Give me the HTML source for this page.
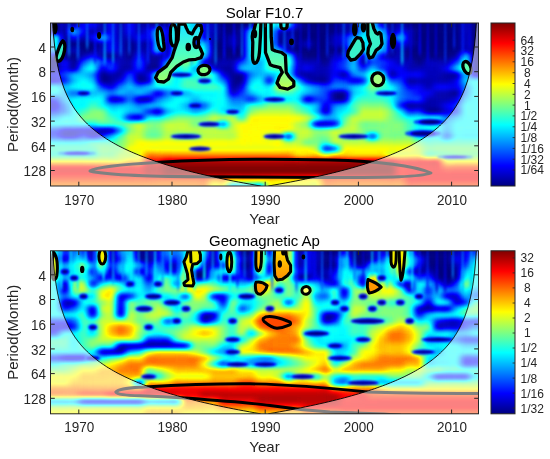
<!DOCTYPE html>
<html><head><meta charset="utf-8"><title>Wavelet power spectra</title>
<style>
html,body{margin:0;padding:0;background:#fff;}
svg{display:block;}
.tl{font-family:"Liberation Sans",Arial,sans-serif;font-size:13.5px;fill:#262626;}
.lb{font-family:"Liberation Sans",Arial,sans-serif;font-size:15px;fill:#262626;}
.tt{font-family:"Liberation Sans",Arial,sans-serif;font-size:15px;fill:#000;}
.cb{font-family:"Liberation Sans",Arial,sans-serif;font-size:12px;fill:#262626;}
</style></head>
<body>
<svg width="550" height="459" viewBox="0 0 550 459">
<defs>
<filter id="jet" filterUnits="userSpaceOnUse" x="0" y="0" width="550" height="459" color-interpolation-filters="sRGB">
<feGaussianBlur stdDeviation="3.5 2.4"/>
<feComponentTransfer>
<feFuncR type="table" tableValues="0 0 0 0 0.5 1 1 1 0.5"/>
<feFuncG type="table" tableValues="0 0 0.5 1 1 1 0.5 0 0"/>
<feFuncB type="table" tableValues="0.5 1 1 1 0.5 0 0 0 0"/>
</feComponentTransfer>
</filter>
<filter id="jet2" filterUnits="userSpaceOnUse" x="0" y="0" width="550" height="459" color-interpolation-filters="sRGB">
<feGaussianBlur stdDeviation="0.9 2.5"/>
<feComponentTransfer>
<feFuncR type="table" tableValues="0 0 0 0 0.5 1 1 1 0.5"/>
<feFuncG type="table" tableValues="0 0 0.5 1 1 1 0.5 0 0"/>
<feFuncB type="table" tableValues="0.5 1 1 1 0.5 0 0 0 0"/>
</feComponentTransfer>
</filter>
<filter id="jet3" filterUnits="userSpaceOnUse" x="0" y="0" width="550" height="459" color-interpolation-filters="sRGB">
<feGaussianBlur stdDeviation="1.3 1.0"/>
<feComponentTransfer>
<feFuncR type="table" tableValues="0 0 0 0 0.5 1 1 1 0.5"/>
<feFuncG type="table" tableValues="0 0 0.5 1 1 1 0.5 0 0"/>
<feFuncB type="table" tableValues="0.5 1 1 1 0.5 0 0 0 0"/>
</feComponentTransfer>
</filter>
<linearGradient id="gcg" gradientUnits="userSpaceOnUse" x1="0" y1="28" x2="0" y2="80"><stop offset="0" stop-color="#20e8ff"/><stop offset="0.5" stop-color="#50ffc0"/><stop offset="1" stop-color="#98ff70"/></linearGradient>
<linearGradient id="gcg2" gradientUnits="userSpaceOnUse" x1="0" y1="30" x2="0" y2="88"><stop offset="0" stop-color="#20f0f0"/><stop offset="0.55" stop-color="#60ffb0"/><stop offset="1" stop-color="#c0ff50"/></linearGradient>
<linearGradient id="gyo" gradientUnits="userSpaceOnUse" x1="0" y1="252" x2="0" y2="280"><stop offset="0" stop-color="#ffd800"/><stop offset="0.5" stop-color="#ffb000"/><stop offset="1" stop-color="#ff9000"/></linearGradient>
<linearGradient id="jetg" x1="0" y1="0" x2="0" y2="1"><stop offset="0.000" stop-color="rgb(128,0,0)"/><stop offset="0.125" stop-color="rgb(255,0,0)"/><stop offset="0.375" stop-color="rgb(255,255,0)"/><stop offset="0.625" stop-color="rgb(0,255,255)"/><stop offset="0.875" stop-color="rgb(0,0,255)"/><stop offset="1.000" stop-color="rgb(0,0,128)"/></linearGradient>
</defs>
<rect width="550" height="459" fill="#fff"/>
<text x="264.5" y="17.9" text-anchor="middle" class="tt">Solar F10.7</text>
<text x="264.5" y="245.8" text-anchor="middle" class="tt">Geomagnetic Ap</text>
<clipPath id="c1"><rect x="50.5" y="23" width="428.0" height="163"/></clipPath>
<g clip-path="url(#c1)">
<g filter="url(#jet)">
<rect x="26.8" y="-1.0" width="33.7" height="29.9" fill="#000000"/>
<rect x="60.2" y="-1.0" width="9.7" height="29.9" fill="#0f0f0f"/>
<rect x="69.5" y="-1.0" width="9.7" height="29.9" fill="#070707"/>
<rect x="78.8" y="-1.0" width="9.7" height="29.9" fill="#202020"/>
<rect x="88.1" y="-1.0" width="9.7" height="29.9" fill="#222222"/>
<rect x="97.4" y="-1.0" width="9.7" height="29.9" fill="#0a0a0a"/>
<rect x="106.8" y="-1.0" width="9.7" height="29.9" fill="#232323"/>
<rect x="116.1" y="-1.0" width="9.7" height="29.9" fill="#080808"/>
<rect x="125.4" y="-1.0" width="9.7" height="29.9" fill="#232323"/>
<rect x="134.7" y="-1.0" width="9.7" height="29.9" fill="#0b0b0b"/>
<rect x="144.0" y="-1.0" width="9.7" height="29.9" fill="#0a0a0a"/>
<rect x="153.4" y="-1.0" width="9.7" height="29.9" fill="#080808"/>
<rect x="162.7" y="-1.0" width="9.7" height="29.9" fill="#000000"/>
<rect x="172.0" y="-1.0" width="9.7" height="29.9" fill="#535353"/>
<rect x="181.3" y="-1.0" width="9.7" height="29.9" fill="#626262"/>
<rect x="190.6" y="-1.0" width="9.7" height="29.9" fill="#525252"/>
<rect x="200.0" y="-1.0" width="9.7" height="29.9" fill="#171717"/>
<rect x="209.3" y="-1.0" width="9.7" height="29.9" fill="#101010"/>
<rect x="218.6" y="-1.0" width="37.7" height="29.9" fill="#000000"/>
<rect x="255.9" y="-1.0" width="9.7" height="29.9" fill="#525252"/>
<rect x="265.2" y="-1.0" width="9.7" height="29.9" fill="#636363"/>
<rect x="274.5" y="-1.0" width="9.7" height="29.9" fill="#656565"/>
<rect x="283.8" y="-1.0" width="9.7" height="29.9" fill="#595959"/>
<rect x="293.2" y="-1.0" width="9.7" height="29.9" fill="#0b0b0b"/>
<rect x="302.5" y="-1.0" width="37.7" height="29.9" fill="#000000"/>
<rect x="339.8" y="-1.0" width="9.7" height="29.9" fill="#111111"/>
<rect x="349.1" y="-1.0" width="9.7" height="29.9" fill="#010101"/>
<rect x="358.4" y="-1.0" width="9.7" height="29.9" fill="#555555"/>
<rect x="367.7" y="-1.0" width="9.7" height="29.9" fill="#525252"/>
<rect x="377.0" y="-1.0" width="9.7" height="29.9" fill="#161616"/>
<rect x="386.4" y="-1.0" width="9.7" height="29.9" fill="#000000"/>
<rect x="395.7" y="-1.0" width="9.7" height="29.9" fill="#111111"/>
<rect x="405.0" y="-1.0" width="56.3" height="29.9" fill="#000000"/>
<rect x="460.9" y="-1.0" width="9.7" height="29.9" fill="#131313"/>
<rect x="470.2" y="-1.0" width="33.7" height="29.9" fill="#000000"/>
<rect x="26.8" y="28.5" width="33.7" height="6.6" fill="#000000"/>
<rect x="60.2" y="28.5" width="9.7" height="6.6" fill="#060606"/>
<rect x="69.5" y="28.5" width="9.7" height="6.6" fill="#5e5e5e"/>
<rect x="78.8" y="28.5" width="9.7" height="6.6" fill="#202020"/>
<rect x="88.1" y="28.5" width="9.7" height="6.6" fill="#060606"/>
<rect x="97.4" y="28.5" width="9.7" height="6.6" fill="#050505"/>
<rect x="106.8" y="28.5" width="9.7" height="6.6" fill="#212121"/>
<rect x="116.1" y="28.5" width="9.7" height="6.6" fill="#0a0a0a"/>
<rect x="125.4" y="28.5" width="9.7" height="6.6" fill="#232323"/>
<rect x="134.7" y="28.5" width="9.7" height="6.6" fill="#0a0a0a"/>
<rect x="144.0" y="28.5" width="9.7" height="6.6" fill="#1d1d1d"/>
<rect x="153.4" y="28.5" width="9.7" height="6.6" fill="#5c5c5c"/>
<rect x="162.7" y="28.5" width="9.7" height="6.6" fill="#0f0f0f"/>
<rect x="172.0" y="28.5" width="9.7" height="6.6" fill="#676767"/>
<rect x="181.3" y="28.5" width="9.7" height="6.6" fill="#616161"/>
<rect x="190.6" y="28.5" width="9.7" height="6.6" fill="#666666"/>
<rect x="200.0" y="28.5" width="9.7" height="6.6" fill="#161616"/>
<rect x="209.3" y="28.5" width="9.7" height="6.6" fill="#101010"/>
<rect x="218.6" y="28.5" width="19.0" height="6.6" fill="#000000"/>
<rect x="237.2" y="28.5" width="9.7" height="6.6" fill="#080808"/>
<rect x="246.6" y="28.5" width="9.7" height="6.6" fill="#575757"/>
<rect x="255.9" y="28.5" width="9.7" height="6.6" fill="#636363"/>
<rect x="265.2" y="28.5" width="9.7" height="6.6" fill="#656565"/>
<rect x="274.5" y="28.5" width="9.7" height="6.6" fill="#0c0c0c"/>
<rect x="283.8" y="28.5" width="9.7" height="6.6" fill="#060606"/>
<rect x="293.2" y="28.5" width="47.0" height="6.6" fill="#000000"/>
<rect x="339.8" y="28.5" width="9.7" height="6.6" fill="#0c0c0c"/>
<rect x="349.1" y="28.5" width="9.7" height="6.6" fill="#000000"/>
<rect x="358.4" y="28.5" width="9.7" height="6.6" fill="#525252"/>
<rect x="367.7" y="28.5" width="9.7" height="6.6" fill="#646464"/>
<rect x="377.0" y="28.5" width="9.7" height="6.6" fill="#565656"/>
<rect x="386.4" y="28.5" width="9.7" height="6.6" fill="#000000"/>
<rect x="395.7" y="28.5" width="9.7" height="6.6" fill="#222222"/>
<rect x="405.0" y="28.5" width="9.7" height="6.6" fill="#0f0f0f"/>
<rect x="414.3" y="28.5" width="47.0" height="6.6" fill="#000000"/>
<rect x="460.9" y="28.5" width="9.7" height="6.6" fill="#131313"/>
<rect x="470.2" y="28.5" width="33.7" height="6.6" fill="#000000"/>
<rect x="26.8" y="34.6" width="33.7" height="6.6" fill="#6e6e6e"/>
<rect x="60.2" y="34.6" width="9.7" height="6.6" fill="#010101"/>
<rect x="69.5" y="34.6" width="9.7" height="6.6" fill="#232323"/>
<rect x="78.8" y="34.6" width="9.7" height="6.6" fill="#0b0b0b"/>
<rect x="88.1" y="34.6" width="9.7" height="6.6" fill="#222222"/>
<rect x="97.4" y="34.6" width="9.7" height="6.6" fill="#5e5e5e"/>
<rect x="106.8" y="34.6" width="9.7" height="6.6" fill="#212121"/>
<rect x="116.1" y="34.6" width="9.7" height="6.6" fill="#0c0c0c"/>
<rect x="125.4" y="34.6" width="9.7" height="6.6" fill="#0f0f0f"/>
<rect x="134.7" y="34.6" width="9.7" height="6.6" fill="#232323"/>
<rect x="144.0" y="34.6" width="9.7" height="6.6" fill="#181818"/>
<rect x="153.4" y="34.6" width="9.7" height="6.6" fill="#5a5a5a"/>
<rect x="162.7" y="34.6" width="9.7" height="6.6" fill="#0a0a0a"/>
<rect x="172.0" y="34.6" width="9.7" height="6.6" fill="#535353"/>
<rect x="181.3" y="34.6" width="9.7" height="6.6" fill="#616161"/>
<rect x="190.6" y="34.6" width="9.7" height="6.6" fill="#646464"/>
<rect x="200.0" y="34.6" width="9.7" height="6.6" fill="#121212"/>
<rect x="209.3" y="34.6" width="9.7" height="6.6" fill="#0d0d0d"/>
<rect x="218.6" y="34.6" width="9.7" height="6.6" fill="#000000"/>
<rect x="227.9" y="34.6" width="9.7" height="6.6" fill="#121212"/>
<rect x="237.2" y="34.6" width="9.7" height="6.6" fill="#000000"/>
<rect x="246.6" y="34.6" width="9.7" height="6.6" fill="#686868"/>
<rect x="255.9" y="34.6" width="9.7" height="6.6" fill="#606060"/>
<rect x="265.2" y="34.6" width="9.7" height="6.6" fill="#676767"/>
<rect x="274.5" y="34.6" width="9.7" height="6.6" fill="#000000"/>
<rect x="283.8" y="34.6" width="9.7" height="6.6" fill="#111111"/>
<rect x="293.2" y="34.6" width="37.7" height="6.6" fill="#000000"/>
<rect x="330.4" y="34.6" width="9.7" height="6.6" fill="#111111"/>
<rect x="339.8" y="34.6" width="9.7" height="6.6" fill="#1f1f1f"/>
<rect x="349.1" y="34.6" width="9.7" height="6.6" fill="#555555"/>
<rect x="358.4" y="34.6" width="9.7" height="6.6" fill="#636363"/>
<rect x="367.7" y="34.6" width="9.7" height="6.6" fill="#616161"/>
<rect x="377.0" y="34.6" width="9.7" height="6.6" fill="#676767"/>
<rect x="386.4" y="34.6" width="9.7" height="6.6" fill="#111111"/>
<rect x="395.7" y="34.6" width="9.7" height="6.6" fill="#5e5e5e"/>
<rect x="405.0" y="34.6" width="9.7" height="6.6" fill="#0c0c0c"/>
<rect x="414.3" y="34.6" width="47.0" height="6.6" fill="#000000"/>
<rect x="460.9" y="34.6" width="9.7" height="6.6" fill="#131313"/>
<rect x="470.2" y="34.6" width="33.7" height="6.6" fill="#000000"/>
<rect x="26.8" y="40.8" width="33.7" height="6.6" fill="#686868"/>
<rect x="60.2" y="40.8" width="37.7" height="6.6" fill="#000000"/>
<rect x="97.4" y="40.8" width="9.7" height="6.6" fill="#080808"/>
<rect x="106.8" y="40.8" width="9.7" height="6.6" fill="#212121"/>
<rect x="116.1" y="40.8" width="9.7" height="6.6" fill="#0f0f0f"/>
<rect x="125.4" y="40.8" width="9.7" height="6.6" fill="#000000"/>
<rect x="134.7" y="40.8" width="9.7" height="6.6" fill="#101010"/>
<rect x="144.0" y="40.8" width="9.7" height="6.6" fill="#000000"/>
<rect x="153.4" y="40.8" width="9.7" height="6.6" fill="#5b5b5b"/>
<rect x="162.7" y="40.8" width="9.7" height="6.6" fill="#000000"/>
<rect x="172.0" y="40.8" width="9.7" height="6.6" fill="#535353"/>
<rect x="181.3" y="40.8" width="9.7" height="6.6" fill="#606060"/>
<rect x="190.6" y="40.8" width="9.7" height="6.6" fill="#626262"/>
<rect x="200.0" y="40.8" width="9.7" height="6.6" fill="#565656"/>
<rect x="209.3" y="40.8" width="19.0" height="6.6" fill="#000000"/>
<rect x="227.9" y="40.8" width="9.7" height="6.6" fill="#121212"/>
<rect x="237.2" y="40.8" width="9.7" height="6.6" fill="#000000"/>
<rect x="246.6" y="40.8" width="9.7" height="6.6" fill="#676767"/>
<rect x="255.9" y="40.8" width="9.7" height="6.6" fill="#606060"/>
<rect x="265.2" y="40.8" width="9.7" height="6.6" fill="#656565"/>
<rect x="274.5" y="40.8" width="9.7" height="6.6" fill="#000000"/>
<rect x="283.8" y="40.8" width="9.7" height="6.6" fill="#0f0f0f"/>
<rect x="293.2" y="40.8" width="9.7" height="6.6" fill="#000000"/>
<rect x="302.5" y="40.8" width="9.7" height="6.6" fill="#141414"/>
<rect x="311.8" y="40.8" width="19.0" height="6.6" fill="#000000"/>
<rect x="330.4" y="40.8" width="9.7" height="6.6" fill="#111111"/>
<rect x="339.8" y="40.8" width="9.7" height="6.6" fill="#181818"/>
<rect x="349.1" y="40.8" width="9.7" height="6.6" fill="#676767"/>
<rect x="358.4" y="40.8" width="19.0" height="6.6" fill="#606060"/>
<rect x="377.0" y="40.8" width="9.7" height="6.6" fill="#676767"/>
<rect x="386.4" y="40.8" width="9.7" height="6.6" fill="#000000"/>
<rect x="395.7" y="40.8" width="9.7" height="6.6" fill="#222222"/>
<rect x="405.0" y="40.8" width="9.7" height="6.6" fill="#0f0f0f"/>
<rect x="414.3" y="40.8" width="47.0" height="6.6" fill="#000000"/>
<rect x="460.9" y="40.8" width="9.7" height="6.6" fill="#131313"/>
<rect x="470.2" y="40.8" width="33.7" height="6.6" fill="#000000"/>
<rect x="26.8" y="47.0" width="33.7" height="6.6" fill="#6e6e6e"/>
<rect x="60.2" y="47.0" width="9.7" height="6.6" fill="#000000"/>
<rect x="69.5" y="47.0" width="9.7" height="6.6" fill="#131313"/>
<rect x="78.8" y="47.0" width="19.0" height="6.6" fill="#000000"/>
<rect x="97.4" y="47.0" width="9.7" height="6.6" fill="#101010"/>
<rect x="106.8" y="47.0" width="9.7" height="6.6" fill="#242424"/>
<rect x="116.1" y="47.0" width="9.7" height="6.6" fill="#111111"/>
<rect x="125.4" y="47.0" width="9.7" height="6.6" fill="#000000"/>
<rect x="134.7" y="47.0" width="9.7" height="6.6" fill="#111111"/>
<rect x="144.0" y="47.0" width="9.7" height="6.6" fill="#050505"/>
<rect x="153.4" y="47.0" width="9.7" height="6.6" fill="#5d5d5d"/>
<rect x="162.7" y="47.0" width="9.7" height="6.6" fill="#000000"/>
<rect x="172.0" y="47.0" width="9.7" height="6.6" fill="#666666"/>
<rect x="181.3" y="47.0" width="9.7" height="6.6" fill="#5b5b5b"/>
<rect x="190.6" y="47.0" width="9.7" height="6.6" fill="#737373"/>
<rect x="200.0" y="47.0" width="9.7" height="6.6" fill="#686868"/>
<rect x="209.3" y="47.0" width="37.7" height="6.6" fill="#000000"/>
<rect x="246.6" y="47.0" width="9.7" height="6.6" fill="#676767"/>
<rect x="255.9" y="47.0" width="9.7" height="6.6" fill="#606060"/>
<rect x="265.2" y="47.0" width="9.7" height="6.6" fill="#626262"/>
<rect x="274.5" y="47.0" width="9.7" height="6.6" fill="#535353"/>
<rect x="283.8" y="47.0" width="65.6" height="6.6" fill="#000000"/>
<rect x="349.1" y="47.0" width="9.7" height="6.6" fill="#686868"/>
<rect x="358.4" y="47.0" width="9.7" height="6.6" fill="#626262"/>
<rect x="367.7" y="47.0" width="9.7" height="6.6" fill="#656565"/>
<rect x="377.0" y="47.0" width="9.7" height="6.6" fill="#565656"/>
<rect x="386.4" y="47.0" width="9.7" height="6.6" fill="#020202"/>
<rect x="395.7" y="47.0" width="9.7" height="6.6" fill="#101010"/>
<rect x="405.0" y="47.0" width="56.3" height="6.6" fill="#000000"/>
<rect x="460.9" y="47.0" width="9.7" height="6.6" fill="#101010"/>
<rect x="470.2" y="47.0" width="33.7" height="6.6" fill="#000000"/>
<rect x="26.8" y="53.2" width="52.4" height="6.6" fill="#000000"/>
<rect x="78.8" y="53.2" width="9.7" height="6.6" fill="#0c0c0c"/>
<rect x="88.1" y="53.2" width="9.7" height="6.6" fill="#212121"/>
<rect x="97.4" y="53.2" width="9.7" height="6.6" fill="#070707"/>
<rect x="106.8" y="53.2" width="9.7" height="6.6" fill="#000000"/>
<rect x="116.1" y="53.2" width="9.7" height="6.6" fill="#101010"/>
<rect x="125.4" y="53.2" width="9.7" height="6.6" fill="#000000"/>
<rect x="134.7" y="53.2" width="9.7" height="6.6" fill="#242424"/>
<rect x="144.0" y="53.2" width="9.7" height="6.6" fill="#070707"/>
<rect x="153.4" y="53.2" width="9.7" height="6.6" fill="#050505"/>
<rect x="162.7" y="53.2" width="9.7" height="6.6" fill="#0b0b0b"/>
<rect x="172.0" y="53.2" width="9.7" height="6.6" fill="#777777"/>
<rect x="181.3" y="53.2" width="9.7" height="6.6" fill="#707070"/>
<rect x="190.6" y="53.2" width="9.7" height="6.6" fill="#878787"/>
<rect x="200.0" y="53.2" width="9.7" height="6.6" fill="#545454"/>
<rect x="209.3" y="53.2" width="37.7" height="6.6" fill="#000000"/>
<rect x="246.6" y="53.2" width="9.7" height="6.6" fill="#676767"/>
<rect x="255.9" y="53.2" width="9.7" height="6.6" fill="#606060"/>
<rect x="265.2" y="53.2" width="9.7" height="6.6" fill="#5d5d5d"/>
<rect x="274.5" y="53.2" width="9.7" height="6.6" fill="#757575"/>
<rect x="283.8" y="53.2" width="9.7" height="6.6" fill="#686868"/>
<rect x="293.2" y="53.2" width="9.7" height="6.6" fill="#050505"/>
<rect x="302.5" y="53.2" width="28.4" height="6.6" fill="#000000"/>
<rect x="330.4" y="53.2" width="9.7" height="6.6" fill="#101010"/>
<rect x="339.8" y="53.2" width="9.7" height="6.6" fill="#161616"/>
<rect x="349.1" y="53.2" width="9.7" height="6.6" fill="#6b6b6b"/>
<rect x="358.4" y="53.2" width="9.7" height="6.6" fill="#050505"/>
<rect x="367.7" y="53.2" width="9.7" height="6.6" fill="#565656"/>
<rect x="377.0" y="53.2" width="9.7" height="6.6" fill="#131313"/>
<rect x="386.4" y="53.2" width="9.7" height="6.6" fill="#060606"/>
<rect x="395.7" y="53.2" width="9.7" height="6.6" fill="#101010"/>
<rect x="405.0" y="53.2" width="47.0" height="6.6" fill="#000000"/>
<rect x="451.6" y="53.2" width="9.7" height="6.6" fill="#060606"/>
<rect x="460.9" y="53.2" width="9.7" height="6.6" fill="#5e5e5e"/>
<rect x="470.2" y="53.2" width="33.7" height="6.6" fill="#000000"/>
<rect x="26.8" y="59.3" width="33.7" height="6.6" fill="#000000"/>
<rect x="60.2" y="59.3" width="9.7" height="6.6" fill="#272727"/>
<rect x="69.5" y="59.3" width="9.7" height="6.6" fill="#000000"/>
<rect x="78.8" y="59.3" width="9.7" height="6.6" fill="#323232"/>
<rect x="88.1" y="59.3" width="9.7" height="6.6" fill="#585858"/>
<rect x="97.4" y="59.3" width="9.7" height="6.6" fill="#313131"/>
<rect x="106.8" y="59.3" width="9.7" height="6.6" fill="#222222"/>
<rect x="116.1" y="59.3" width="9.7" height="6.6" fill="#0f0f0f"/>
<rect x="125.4" y="59.3" width="9.7" height="6.6" fill="#0b0b0b"/>
<rect x="134.7" y="59.3" width="9.7" height="6.6" fill="#373737"/>
<rect x="144.0" y="59.3" width="9.7" height="6.6" fill="#0a0a0a"/>
<rect x="153.4" y="59.3" width="9.7" height="6.6" fill="#040404"/>
<rect x="162.7" y="59.3" width="9.7" height="6.6" fill="#545454"/>
<rect x="172.0" y="59.3" width="9.7" height="6.6" fill="#747474"/>
<rect x="181.3" y="59.3" width="9.7" height="6.6" fill="#848484"/>
<rect x="190.6" y="59.3" width="9.7" height="6.6" fill="#747474"/>
<rect x="200.0" y="59.3" width="9.7" height="6.6" fill="#0b0b0b"/>
<rect x="209.3" y="59.3" width="9.7" height="6.6" fill="#060606"/>
<rect x="218.6" y="59.3" width="9.7" height="6.6" fill="#111111"/>
<rect x="227.9" y="59.3" width="9.7" height="6.6" fill="#0b0b0b"/>
<rect x="237.2" y="59.3" width="9.7" height="6.6" fill="#303030"/>
<rect x="246.6" y="59.3" width="9.7" height="6.6" fill="#525252"/>
<rect x="255.9" y="59.3" width="9.7" height="6.6" fill="#474747"/>
<rect x="265.2" y="59.3" width="9.7" height="6.6" fill="#727272"/>
<rect x="274.5" y="59.3" width="9.7" height="6.6" fill="#858585"/>
<rect x="283.8" y="59.3" width="9.7" height="6.6" fill="#787878"/>
<rect x="293.2" y="59.3" width="9.7" height="6.6" fill="#151515"/>
<rect x="302.5" y="59.3" width="9.7" height="6.6" fill="#0f0f0f"/>
<rect x="311.8" y="59.3" width="9.7" height="6.6" fill="#111111"/>
<rect x="321.1" y="59.3" width="9.7" height="6.6" fill="#000000"/>
<rect x="330.4" y="59.3" width="9.7" height="6.6" fill="#222222"/>
<rect x="339.8" y="59.3" width="9.7" height="6.6" fill="#2d2d2d"/>
<rect x="349.1" y="59.3" width="9.7" height="6.6" fill="#575757"/>
<rect x="358.4" y="59.3" width="9.7" height="6.6" fill="#000000"/>
<rect x="367.7" y="59.3" width="19.0" height="6.6" fill="#303030"/>
<rect x="386.4" y="59.3" width="9.7" height="6.6" fill="#202020"/>
<rect x="395.7" y="59.3" width="9.7" height="6.6" fill="#0d0d0d"/>
<rect x="405.0" y="59.3" width="9.7" height="6.6" fill="#111111"/>
<rect x="414.3" y="59.3" width="9.7" height="6.6" fill="#000000"/>
<rect x="423.6" y="59.3" width="9.7" height="6.6" fill="#121212"/>
<rect x="433.0" y="59.3" width="9.7" height="6.6" fill="#111111"/>
<rect x="442.3" y="59.3" width="9.7" height="6.6" fill="#0a0a0a"/>
<rect x="451.6" y="59.3" width="9.7" height="6.6" fill="#2c2c2c"/>
<rect x="460.9" y="59.3" width="9.7" height="6.6" fill="#6c6c6c"/>
<rect x="470.2" y="59.3" width="33.7" height="6.6" fill="#000000"/>
<rect x="26.8" y="65.5" width="33.7" height="6.6" fill="#000000"/>
<rect x="60.2" y="65.5" width="9.7" height="6.6" fill="#222222"/>
<rect x="69.5" y="65.5" width="9.7" height="6.6" fill="#000000"/>
<rect x="78.8" y="65.5" width="9.7" height="6.6" fill="#565656"/>
<rect x="88.1" y="65.5" width="9.7" height="6.6" fill="#6a6a6a"/>
<rect x="97.4" y="65.5" width="9.7" height="6.6" fill="#151515"/>
<rect x="106.8" y="65.5" width="9.7" height="6.6" fill="#363636"/>
<rect x="116.1" y="65.5" width="9.7" height="6.6" fill="#0a0a0a"/>
<rect x="125.4" y="65.5" width="9.7" height="6.6" fill="#080808"/>
<rect x="134.7" y="65.5" width="9.7" height="6.6" fill="#353535"/>
<rect x="144.0" y="65.5" width="9.7" height="6.6" fill="#020202"/>
<rect x="153.4" y="65.5" width="9.7" height="6.6" fill="#000000"/>
<rect x="162.7" y="65.5" width="9.7" height="6.6" fill="#636363"/>
<rect x="172.0" y="65.5" width="9.7" height="6.6" fill="#595959"/>
<rect x="181.3" y="65.5" width="9.7" height="6.6" fill="#727272"/>
<rect x="190.6" y="65.5" width="9.7" height="6.6" fill="#454545"/>
<rect x="200.0" y="65.5" width="9.7" height="6.6" fill="#515151"/>
<rect x="209.3" y="65.5" width="9.7" height="6.6" fill="#131313"/>
<rect x="218.6" y="65.5" width="19.0" height="6.6" fill="#070707"/>
<rect x="237.2" y="65.5" width="9.7" height="6.6" fill="#595959"/>
<rect x="246.6" y="65.5" width="9.7" height="6.6" fill="#535353"/>
<rect x="255.9" y="65.5" width="9.7" height="6.6" fill="#4c4c4c"/>
<rect x="265.2" y="65.5" width="9.7" height="6.6" fill="#747474"/>
<rect x="274.5" y="65.5" width="9.7" height="6.6" fill="#727272"/>
<rect x="283.8" y="65.5" width="9.7" height="6.6" fill="#646464"/>
<rect x="293.2" y="65.5" width="9.7" height="6.6" fill="#121212"/>
<rect x="302.5" y="65.5" width="9.7" height="6.6" fill="#222222"/>
<rect x="311.8" y="65.5" width="9.7" height="6.6" fill="#101010"/>
<rect x="321.1" y="65.5" width="9.7" height="6.6" fill="#0d0d0d"/>
<rect x="330.4" y="65.5" width="9.7" height="6.6" fill="#212121"/>
<rect x="339.8" y="65.5" width="9.7" height="6.6" fill="#303030"/>
<rect x="349.1" y="65.5" width="9.7" height="6.6" fill="#575757"/>
<rect x="358.4" y="65.5" width="9.7" height="6.6" fill="#222222"/>
<rect x="367.7" y="65.5" width="9.7" height="6.6" fill="#545454"/>
<rect x="377.0" y="65.5" width="9.7" height="6.6" fill="#282828"/>
<rect x="386.4" y="65.5" width="9.7" height="6.6" fill="#1a1a1a"/>
<rect x="395.7" y="65.5" width="9.7" height="6.6" fill="#222222"/>
<rect x="405.0" y="65.5" width="9.7" height="6.6" fill="#0c0c0c"/>
<rect x="414.3" y="65.5" width="9.7" height="6.6" fill="#0f0f0f"/>
<rect x="423.6" y="65.5" width="9.7" height="6.6" fill="#101010"/>
<rect x="433.0" y="65.5" width="9.7" height="6.6" fill="#0f0f0f"/>
<rect x="442.3" y="65.5" width="9.7" height="6.6" fill="#212121"/>
<rect x="451.6" y="65.5" width="9.7" height="6.6" fill="#575757"/>
<rect x="460.9" y="65.5" width="9.7" height="6.6" fill="#7f7f7f"/>
<rect x="470.2" y="65.5" width="33.7" height="6.6" fill="#000000"/>
<rect x="26.8" y="71.7" width="33.7" height="6.6" fill="#212121"/>
<rect x="60.2" y="71.7" width="9.7" height="6.6" fill="#323232"/>
<rect x="69.5" y="71.7" width="9.7" height="6.6" fill="#555555"/>
<rect x="78.8" y="71.7" width="9.7" height="6.6" fill="#525252"/>
<rect x="88.1" y="71.7" width="9.7" height="6.6" fill="#404040"/>
<rect x="97.4" y="71.7" width="9.7" height="6.6" fill="#000000"/>
<rect x="106.8" y="71.7" width="9.7" height="6.6" fill="#0b0b0b"/>
<rect x="116.1" y="71.7" width="9.7" height="6.6" fill="#060606"/>
<rect x="125.4" y="71.7" width="9.7" height="6.6" fill="#353535"/>
<rect x="134.7" y="71.7" width="9.7" height="6.6" fill="#050505"/>
<rect x="144.0" y="71.7" width="9.7" height="6.6" fill="#171717"/>
<rect x="153.4" y="71.7" width="9.7" height="6.6" fill="#7a7a7a"/>
<rect x="162.7" y="71.7" width="9.7" height="6.6" fill="#888888"/>
<rect x="172.0" y="71.7" width="9.7" height="6.6" fill="#595959"/>
<rect x="181.3" y="71.7" width="9.7" height="6.6" fill="#5d5d5d"/>
<rect x="190.6" y="71.7" width="9.7" height="6.6" fill="#5c5c5c"/>
<rect x="200.0" y="71.7" width="9.7" height="6.6" fill="#8a8a8a"/>
<rect x="209.3" y="71.7" width="9.7" height="6.6" fill="#676767"/>
<rect x="218.6" y="71.7" width="9.7" height="6.6" fill="#181818"/>
<rect x="227.9" y="71.7" width="9.7" height="6.6" fill="#060606"/>
<rect x="237.2" y="71.7" width="9.7" height="6.6" fill="#000000"/>
<rect x="246.6" y="71.7" width="9.7" height="6.6" fill="#3f3f3f"/>
<rect x="255.9" y="71.7" width="9.7" height="6.6" fill="#505050"/>
<rect x="265.2" y="71.7" width="9.7" height="6.6" fill="#474747"/>
<rect x="274.5" y="71.7" width="9.7" height="6.6" fill="#5c5c5c"/>
<rect x="283.8" y="71.7" width="9.7" height="6.6" fill="#616161"/>
<rect x="293.2" y="71.7" width="9.7" height="6.6" fill="#0b0b0b"/>
<rect x="302.5" y="71.7" width="9.7" height="6.6" fill="#060606"/>
<rect x="311.8" y="71.7" width="9.7" height="6.6" fill="#0d0d0d"/>
<rect x="321.1" y="71.7" width="9.7" height="6.6" fill="#0b0b0b"/>
<rect x="330.4" y="71.7" width="9.7" height="6.6" fill="#202020"/>
<rect x="339.8" y="71.7" width="9.7" height="6.6" fill="#000000"/>
<rect x="349.1" y="71.7" width="9.7" height="6.6" fill="#434343"/>
<rect x="358.4" y="71.7" width="9.7" height="6.6" fill="#515151"/>
<rect x="367.7" y="71.7" width="9.7" height="6.6" fill="#777777"/>
<rect x="377.0" y="71.7" width="9.7" height="6.6" fill="#787878"/>
<rect x="386.4" y="71.7" width="9.7" height="6.6" fill="#000000"/>
<rect x="395.7" y="71.7" width="9.7" height="6.6" fill="#202020"/>
<rect x="405.0" y="71.7" width="9.7" height="6.6" fill="#212121"/>
<rect x="414.3" y="71.7" width="9.7" height="6.6" fill="#232323"/>
<rect x="423.6" y="71.7" width="19.0" height="6.6" fill="#0f0f0f"/>
<rect x="442.3" y="71.7" width="9.7" height="6.6" fill="#080808"/>
<rect x="451.6" y="71.7" width="9.7" height="6.6" fill="#000000"/>
<rect x="460.9" y="71.7" width="9.7" height="6.6" fill="#555555"/>
<rect x="470.2" y="71.7" width="33.7" height="6.6" fill="#0b0b0b"/>
<rect x="26.8" y="77.9" width="33.7" height="6.6" fill="#101010"/>
<rect x="60.2" y="77.9" width="9.7" height="6.6" fill="#232323"/>
<rect x="69.5" y="77.9" width="9.7" height="6.6" fill="#505050"/>
<rect x="78.8" y="77.9" width="9.7" height="6.6" fill="#636363"/>
<rect x="88.1" y="77.9" width="9.7" height="6.6" fill="#545454"/>
<rect x="97.4" y="77.9" width="9.7" height="6.6" fill="#000000"/>
<rect x="106.8" y="77.9" width="9.7" height="6.6" fill="#070707"/>
<rect x="116.1" y="77.9" width="9.7" height="6.6" fill="#1a1a1a"/>
<rect x="125.4" y="77.9" width="9.7" height="6.6" fill="#454545"/>
<rect x="134.7" y="77.9" width="9.7" height="6.6" fill="#000000"/>
<rect x="144.0" y="77.9" width="9.7" height="6.6" fill="#0b0b0b"/>
<rect x="153.4" y="77.9" width="9.7" height="6.6" fill="#767676"/>
<rect x="162.7" y="77.9" width="9.7" height="6.6" fill="#727272"/>
<rect x="172.0" y="77.9" width="9.7" height="6.6" fill="#595959"/>
<rect x="181.3" y="77.9" width="9.7" height="6.6" fill="#727272"/>
<rect x="190.6" y="77.9" width="9.7" height="6.6" fill="#717171"/>
<rect x="200.0" y="77.9" width="9.7" height="6.6" fill="#585858"/>
<rect x="209.3" y="77.9" width="9.7" height="6.6" fill="#616161"/>
<rect x="218.6" y="77.9" width="9.7" height="6.6" fill="#414141"/>
<rect x="227.9" y="77.9" width="9.7" height="6.6" fill="#040404"/>
<rect x="237.2" y="77.9" width="9.7" height="6.6" fill="#000000"/>
<rect x="246.6" y="77.9" width="9.7" height="6.6" fill="#545454"/>
<rect x="255.9" y="77.9" width="9.7" height="6.6" fill="#646464"/>
<rect x="265.2" y="77.9" width="9.7" height="6.6" fill="#0e0e0e"/>
<rect x="274.5" y="77.9" width="9.7" height="6.6" fill="#858585"/>
<rect x="283.8" y="77.9" width="9.7" height="6.6" fill="#999999"/>
<rect x="293.2" y="77.9" width="9.7" height="6.6" fill="#4e4e4e"/>
<rect x="302.5" y="77.9" width="9.7" height="6.6" fill="#131313"/>
<rect x="311.8" y="77.9" width="9.7" height="6.6" fill="#040404"/>
<rect x="321.1" y="77.9" width="9.7" height="6.6" fill="#020202"/>
<rect x="330.4" y="77.9" width="9.7" height="6.6" fill="#323232"/>
<rect x="339.8" y="77.9" width="9.7" height="6.6" fill="#2f2f2f"/>
<rect x="349.1" y="77.9" width="9.7" height="6.6" fill="#0d0d0d"/>
<rect x="358.4" y="77.9" width="9.7" height="6.6" fill="#161616"/>
<rect x="367.7" y="77.9" width="9.7" height="6.6" fill="#868686"/>
<rect x="377.0" y="77.9" width="9.7" height="6.6" fill="#878787"/>
<rect x="386.4" y="77.9" width="9.7" height="6.6" fill="#383838"/>
<rect x="395.7" y="77.9" width="9.7" height="6.6" fill="#313131"/>
<rect x="405.0" y="77.9" width="9.7" height="6.6" fill="#040404"/>
<rect x="414.3" y="77.9" width="9.7" height="6.6" fill="#0b0b0b"/>
<rect x="423.6" y="77.9" width="9.7" height="6.6" fill="#0c0c0c"/>
<rect x="433.0" y="77.9" width="9.7" height="6.6" fill="#0d0d0d"/>
<rect x="442.3" y="77.9" width="9.7" height="6.6" fill="#0b0b0b"/>
<rect x="451.6" y="77.9" width="9.7" height="6.6" fill="#1a1a1a"/>
<rect x="460.9" y="77.9" width="9.7" height="6.6" fill="#565656"/>
<rect x="470.2" y="77.9" width="33.7" height="6.6" fill="#666666"/>
<rect x="26.8" y="84.0" width="33.7" height="6.6" fill="#666666"/>
<rect x="60.2" y="84.0" width="9.7" height="6.6" fill="#515151"/>
<rect x="69.5" y="84.0" width="9.7" height="6.6" fill="#646464"/>
<rect x="78.8" y="84.0" width="9.7" height="6.6" fill="#636363"/>
<rect x="88.1" y="84.0" width="9.7" height="6.6" fill="#666666"/>
<rect x="97.4" y="84.0" width="9.7" height="6.6" fill="#2a2a2a"/>
<rect x="106.8" y="84.0" width="9.7" height="6.6" fill="#151515"/>
<rect x="116.1" y="84.0" width="9.7" height="6.6" fill="#424242"/>
<rect x="125.4" y="84.0" width="9.7" height="6.6" fill="#555555"/>
<rect x="134.7" y="84.0" width="9.7" height="6.6" fill="#414141"/>
<rect x="144.0" y="84.0" width="9.7" height="6.6" fill="#545454"/>
<rect x="153.4" y="84.0" width="9.7" height="6.6" fill="#656565"/>
<rect x="162.7" y="84.0" width="9.7" height="6.6" fill="#626262"/>
<rect x="172.0" y="84.0" width="9.7" height="6.6" fill="#606060"/>
<rect x="181.3" y="84.0" width="9.7" height="6.6" fill="#737373"/>
<rect x="190.6" y="84.0" width="19.0" height="6.6" fill="#727272"/>
<rect x="209.3" y="84.0" width="9.7" height="6.6" fill="#747474"/>
<rect x="218.6" y="84.0" width="9.7" height="6.6" fill="#676767"/>
<rect x="227.9" y="84.0" width="9.7" height="6.6" fill="#000000"/>
<rect x="237.2" y="84.0" width="9.7" height="6.6" fill="#161616"/>
<rect x="246.6" y="84.0" width="9.7" height="6.6" fill="#676767"/>
<rect x="255.9" y="84.0" width="9.7" height="6.6" fill="#626262"/>
<rect x="265.2" y="84.0" width="9.7" height="6.6" fill="#5c5c5c"/>
<rect x="274.5" y="84.0" width="9.7" height="6.6" fill="#989898"/>
<rect x="283.8" y="84.0" width="9.7" height="6.6" fill="#969696"/>
<rect x="293.2" y="84.0" width="9.7" height="6.6" fill="#747474"/>
<rect x="302.5" y="84.0" width="9.7" height="6.6" fill="#535353"/>
<rect x="311.8" y="84.0" width="9.7" height="6.6" fill="#444444"/>
<rect x="321.1" y="84.0" width="9.7" height="6.6" fill="#313131"/>
<rect x="330.4" y="84.0" width="9.7" height="6.6" fill="#464646"/>
<rect x="339.8" y="84.0" width="9.7" height="6.6" fill="#444444"/>
<rect x="349.1" y="84.0" width="9.7" height="6.6" fill="#555555"/>
<rect x="358.4" y="84.0" width="9.7" height="6.6" fill="#626262"/>
<rect x="367.7" y="84.0" width="9.7" height="6.6" fill="#868686"/>
<rect x="377.0" y="84.0" width="9.7" height="6.6" fill="#717171"/>
<rect x="386.4" y="84.0" width="9.7" height="6.6" fill="#636363"/>
<rect x="395.7" y="84.0" width="9.7" height="6.6" fill="#414141"/>
<rect x="405.0" y="84.0" width="9.7" height="6.6" fill="#1b1b1b"/>
<rect x="414.3" y="84.0" width="9.7" height="6.6" fill="#212121"/>
<rect x="423.6" y="84.0" width="9.7" height="6.6" fill="#0b0b0b"/>
<rect x="433.0" y="84.0" width="9.7" height="6.6" fill="#232323"/>
<rect x="442.3" y="84.0" width="9.7" height="6.6" fill="#222222"/>
<rect x="451.6" y="84.0" width="9.7" height="6.6" fill="#1b1b1b"/>
<rect x="460.9" y="84.0" width="9.7" height="6.6" fill="#404040"/>
<rect x="470.2" y="84.0" width="33.7" height="6.6" fill="#626262"/>
<rect x="26.8" y="90.2" width="33.7" height="6.6" fill="#646464"/>
<rect x="60.2" y="90.2" width="9.7" height="6.6" fill="#4e4e4e"/>
<rect x="69.5" y="90.2" width="9.7" height="6.6" fill="#313131"/>
<rect x="78.8" y="90.2" width="9.7" height="6.6" fill="#494949"/>
<rect x="88.1" y="90.2" width="9.7" height="6.6" fill="#4c4c4c"/>
<rect x="97.4" y="90.2" width="9.7" height="6.6" fill="#535353"/>
<rect x="106.8" y="90.2" width="9.7" height="6.6" fill="#414141"/>
<rect x="116.1" y="90.2" width="9.7" height="6.6" fill="#565656"/>
<rect x="125.4" y="90.2" width="9.7" height="6.6" fill="#414141"/>
<rect x="134.7" y="90.2" width="9.7" height="6.6" fill="#565656"/>
<rect x="144.0" y="90.2" width="9.7" height="6.6" fill="#424242"/>
<rect x="153.4" y="90.2" width="9.7" height="6.6" fill="#080808"/>
<rect x="162.7" y="90.2" width="9.7" height="6.6" fill="#363636"/>
<rect x="172.0" y="90.2" width="9.7" height="6.6" fill="#494949"/>
<rect x="181.3" y="90.2" width="9.7" height="6.6" fill="#464646"/>
<rect x="190.6" y="90.2" width="9.7" height="6.6" fill="#5e5e5e"/>
<rect x="200.0" y="90.2" width="19.0" height="6.6" fill="#5d5d5d"/>
<rect x="218.6" y="90.2" width="9.7" height="6.6" fill="#656565"/>
<rect x="227.9" y="90.2" width="9.7" height="6.6" fill="#0c0c0c"/>
<rect x="237.2" y="90.2" width="9.7" height="6.6" fill="#2c2c2c"/>
<rect x="246.6" y="90.2" width="9.7" height="6.6" fill="#525252"/>
<rect x="255.9" y="90.2" width="9.7" height="6.6" fill="#626262"/>
<rect x="265.2" y="90.2" width="9.7" height="6.6" fill="#5c5c5c"/>
<rect x="274.5" y="90.2" width="19.0" height="6.6" fill="#707070"/>
<rect x="293.2" y="90.2" width="9.7" height="6.6" fill="#606060"/>
<rect x="302.5" y="90.2" width="9.7" height="6.6" fill="#515151"/>
<rect x="311.8" y="90.2" width="9.7" height="6.6" fill="#424242"/>
<rect x="321.1" y="90.2" width="9.7" height="6.6" fill="#303030"/>
<rect x="330.4" y="90.2" width="9.7" height="6.6" fill="#010101"/>
<rect x="339.8" y="90.2" width="9.7" height="6.6" fill="#000000"/>
<rect x="349.1" y="90.2" width="9.7" height="6.6" fill="#525252"/>
<rect x="358.4" y="90.2" width="9.7" height="6.6" fill="#5c5c5c"/>
<rect x="367.7" y="90.2" width="9.7" height="6.6" fill="#717171"/>
<rect x="377.0" y="90.2" width="9.7" height="6.6" fill="#585858"/>
<rect x="386.4" y="90.2" width="9.7" height="6.6" fill="#626262"/>
<rect x="395.7" y="90.2" width="9.7" height="6.6" fill="#3d3d3d"/>
<rect x="405.0" y="90.2" width="9.7" height="6.6" fill="#303030"/>
<rect x="414.3" y="90.2" width="9.7" height="6.6" fill="#1f1f1f"/>
<rect x="423.6" y="90.2" width="9.7" height="6.6" fill="#212121"/>
<rect x="433.0" y="90.2" width="9.7" height="6.6" fill="#0c0c0c"/>
<rect x="442.3" y="90.2" width="9.7" height="6.6" fill="#0b0b0b"/>
<rect x="451.6" y="90.2" width="9.7" height="6.6" fill="#000000"/>
<rect x="460.9" y="90.2" width="9.7" height="6.6" fill="#404040"/>
<rect x="470.2" y="90.2" width="33.7" height="6.6" fill="#626262"/>
<rect x="26.8" y="96.4" width="33.7" height="6.6" fill="#252525"/>
<rect x="60.2" y="96.4" width="9.7" height="6.6" fill="#525252"/>
<rect x="69.5" y="96.4" width="9.7" height="6.6" fill="#636363"/>
<rect x="78.8" y="96.4" width="19.0" height="6.6" fill="#616161"/>
<rect x="97.4" y="96.4" width="9.7" height="6.6" fill="#646464"/>
<rect x="106.8" y="96.4" width="9.7" height="6.6" fill="#050505"/>
<rect x="116.1" y="96.4" width="9.7" height="6.6" fill="#0a0a0a"/>
<rect x="125.4" y="96.4" width="9.7" height="6.6" fill="#404040"/>
<rect x="134.7" y="96.4" width="19.0" height="6.6" fill="#000000"/>
<rect x="153.4" y="96.4" width="9.7" height="6.6" fill="#404040"/>
<rect x="162.7" y="96.4" width="9.7" height="6.6" fill="#515151"/>
<rect x="172.0" y="96.4" width="19.0" height="6.6" fill="#636363"/>
<rect x="190.6" y="96.4" width="9.7" height="6.6" fill="#4d4d4d"/>
<rect x="200.0" y="96.4" width="9.7" height="6.6" fill="#626262"/>
<rect x="209.3" y="96.4" width="9.7" height="6.6" fill="#616161"/>
<rect x="218.6" y="96.4" width="9.7" height="6.6" fill="#636363"/>
<rect x="227.9" y="96.4" width="9.7" height="6.6" fill="#3a3a3a"/>
<rect x="237.2" y="96.4" width="9.7" height="6.6" fill="#3d3d3d"/>
<rect x="246.6" y="96.4" width="9.7" height="6.6" fill="#1a1a1a"/>
<rect x="255.9" y="96.4" width="9.7" height="6.6" fill="#464646"/>
<rect x="265.2" y="96.4" width="9.7" height="6.6" fill="#595959"/>
<rect x="274.5" y="96.4" width="9.7" height="6.6" fill="#565656"/>
<rect x="283.8" y="96.4" width="9.7" height="6.6" fill="#575757"/>
<rect x="293.2" y="96.4" width="9.7" height="6.6" fill="#606060"/>
<rect x="302.5" y="96.4" width="9.7" height="6.6" fill="#000000"/>
<rect x="311.8" y="96.4" width="9.7" height="6.6" fill="#282828"/>
<rect x="321.1" y="96.4" width="9.7" height="6.6" fill="#303030"/>
<rect x="330.4" y="96.4" width="9.7" height="6.6" fill="#010101"/>
<rect x="339.8" y="96.4" width="9.7" height="6.6" fill="#000000"/>
<rect x="349.1" y="96.4" width="9.7" height="6.6" fill="#646464"/>
<rect x="358.4" y="96.4" width="9.7" height="6.6" fill="#717171"/>
<rect x="367.7" y="96.4" width="9.7" height="6.6" fill="#6e6e6e"/>
<rect x="377.0" y="96.4" width="9.7" height="6.6" fill="#707070"/>
<rect x="386.4" y="96.4" width="9.7" height="6.6" fill="#616161"/>
<rect x="395.7" y="96.4" width="9.7" height="6.6" fill="#3f3f3f"/>
<rect x="405.0" y="96.4" width="9.7" height="6.6" fill="#313131"/>
<rect x="414.3" y="96.4" width="9.7" height="6.6" fill="#353535"/>
<rect x="423.6" y="96.4" width="9.7" height="6.6" fill="#0b0b0b"/>
<rect x="433.0" y="96.4" width="9.7" height="6.6" fill="#0d0d0d"/>
<rect x="442.3" y="96.4" width="9.7" height="6.6" fill="#0b0b0b"/>
<rect x="451.6" y="96.4" width="9.7" height="6.6" fill="#171717"/>
<rect x="460.9" y="96.4" width="9.7" height="6.6" fill="#535353"/>
<rect x="470.2" y="96.4" width="33.7" height="6.6" fill="#616161"/>
<rect x="26.8" y="102.6" width="33.7" height="6.6" fill="#121212"/>
<rect x="60.2" y="102.6" width="9.7" height="6.6" fill="#3c3c3c"/>
<rect x="69.5" y="102.6" width="9.7" height="6.6" fill="#626262"/>
<rect x="78.8" y="102.6" width="9.7" height="6.6" fill="#5b5b5b"/>
<rect x="88.1" y="102.6" width="9.7" height="6.6" fill="#717171"/>
<rect x="97.4" y="102.6" width="9.7" height="6.6" fill="#606060"/>
<rect x="106.8" y="102.6" width="9.7" height="6.6" fill="#4e4e4e"/>
<rect x="116.1" y="102.6" width="9.7" height="6.6" fill="#525252"/>
<rect x="125.4" y="102.6" width="9.7" height="6.6" fill="#545454"/>
<rect x="134.7" y="102.6" width="9.7" height="6.6" fill="#414141"/>
<rect x="144.0" y="102.6" width="9.7" height="6.6" fill="#575757"/>
<rect x="153.4" y="102.6" width="9.7" height="6.6" fill="#545454"/>
<rect x="162.7" y="102.6" width="9.7" height="6.6" fill="#646464"/>
<rect x="172.0" y="102.6" width="9.7" height="6.6" fill="#616161"/>
<rect x="181.3" y="102.6" width="9.7" height="6.6" fill="#4b4b4b"/>
<rect x="190.6" y="102.6" width="9.7" height="6.6" fill="#323232"/>
<rect x="200.0" y="102.6" width="9.7" height="6.6" fill="#303030"/>
<rect x="209.3" y="102.6" width="9.7" height="6.6" fill="#606060"/>
<rect x="218.6" y="102.6" width="9.7" height="6.6" fill="#616161"/>
<rect x="227.9" y="102.6" width="19.0" height="6.6" fill="#4c4c4c"/>
<rect x="246.6" y="102.6" width="9.7" height="6.6" fill="#747474"/>
<rect x="255.9" y="102.6" width="9.7" height="6.6" fill="#707070"/>
<rect x="265.2" y="102.6" width="9.7" height="6.6" fill="#828282"/>
<rect x="274.5" y="102.6" width="9.7" height="6.6" fill="#818181"/>
<rect x="283.8" y="102.6" width="9.7" height="6.6" fill="#828282"/>
<rect x="293.2" y="102.6" width="9.7" height="6.6" fill="#727272"/>
<rect x="302.5" y="102.6" width="9.7" height="6.6" fill="#626262"/>
<rect x="311.8" y="102.6" width="9.7" height="6.6" fill="#555555"/>
<rect x="321.1" y="102.6" width="9.7" height="6.6" fill="#111111"/>
<rect x="330.4" y="102.6" width="9.7" height="6.6" fill="#434343"/>
<rect x="339.8" y="102.6" width="9.7" height="6.6" fill="#515151"/>
<rect x="349.1" y="102.6" width="9.7" height="6.6" fill="#737373"/>
<rect x="358.4" y="102.6" width="9.7" height="6.6" fill="#818181"/>
<rect x="367.7" y="102.6" width="9.7" height="6.6" fill="#808080"/>
<rect x="377.0" y="102.6" width="9.7" height="6.6" fill="#818181"/>
<rect x="386.4" y="102.6" width="9.7" height="6.6" fill="#727272"/>
<rect x="395.7" y="102.6" width="9.7" height="6.6" fill="#1e1e1e"/>
<rect x="405.0" y="102.6" width="9.7" height="6.6" fill="#000000"/>
<rect x="414.3" y="102.6" width="9.7" height="6.6" fill="#060606"/>
<rect x="423.6" y="102.6" width="9.7" height="6.6" fill="#0b0b0b"/>
<rect x="433.0" y="102.6" width="9.7" height="6.6" fill="#0d0d0d"/>
<rect x="442.3" y="102.6" width="9.7" height="6.6" fill="#212121"/>
<rect x="451.6" y="102.6" width="9.7" height="6.6" fill="#2c2c2c"/>
<rect x="460.9" y="102.6" width="9.7" height="6.6" fill="#656565"/>
<rect x="470.2" y="102.6" width="33.7" height="6.6" fill="#606060"/>
<rect x="26.8" y="108.8" width="33.7" height="6.6" fill="#272727"/>
<rect x="60.2" y="108.8" width="9.7" height="6.6" fill="#383838"/>
<rect x="69.5" y="108.8" width="9.7" height="6.6" fill="#606060"/>
<rect x="78.8" y="108.8" width="9.7" height="6.6" fill="#707070"/>
<rect x="88.1" y="108.8" width="9.7" height="6.6" fill="#828282"/>
<rect x="97.4" y="108.8" width="9.7" height="6.6" fill="#848484"/>
<rect x="106.8" y="108.8" width="9.7" height="6.6" fill="#5c5c5c"/>
<rect x="116.1" y="108.8" width="9.7" height="6.6" fill="#636363"/>
<rect x="125.4" y="108.8" width="9.7" height="6.6" fill="#525252"/>
<rect x="134.7" y="108.8" width="9.7" height="6.6" fill="#535353"/>
<rect x="144.0" y="108.8" width="9.7" height="6.6" fill="#222222"/>
<rect x="153.4" y="108.8" width="9.7" height="6.6" fill="#000000"/>
<rect x="162.7" y="108.8" width="9.7" height="6.6" fill="#484848"/>
<rect x="172.0" y="108.8" width="9.7" height="6.6" fill="#5c5c5c"/>
<rect x="181.3" y="108.8" width="9.7" height="6.6" fill="#5d5d5d"/>
<rect x="190.6" y="108.8" width="9.7" height="6.6" fill="#454545"/>
<rect x="200.0" y="108.8" width="9.7" height="6.6" fill="#5c5c5c"/>
<rect x="209.3" y="108.8" width="9.7" height="6.6" fill="#717171"/>
<rect x="218.6" y="108.8" width="9.7" height="6.6" fill="#545454"/>
<rect x="227.9" y="108.8" width="9.7" height="6.6" fill="#595959"/>
<rect x="237.2" y="108.8" width="9.7" height="6.6" fill="#545454"/>
<rect x="246.6" y="108.8" width="9.7" height="6.6" fill="#818181"/>
<rect x="255.9" y="108.8" width="9.7" height="6.6" fill="#919191"/>
<rect x="265.2" y="108.8" width="9.7" height="6.6" fill="#909090"/>
<rect x="274.5" y="108.8" width="9.7" height="6.6" fill="#8f8f8f"/>
<rect x="283.8" y="108.8" width="9.7" height="6.6" fill="#909090"/>
<rect x="293.2" y="108.8" width="9.7" height="6.6" fill="#7d7d7d"/>
<rect x="302.5" y="108.8" width="9.7" height="6.6" fill="#6e6e6e"/>
<rect x="311.8" y="108.8" width="9.7" height="6.6" fill="#4c4c4c"/>
<rect x="321.1" y="108.8" width="9.7" height="6.6" fill="#050505"/>
<rect x="330.4" y="108.8" width="9.7" height="6.6" fill="#525252"/>
<rect x="339.8" y="108.8" width="9.7" height="6.6" fill="#5e5e5e"/>
<rect x="349.1" y="108.8" width="9.7" height="6.6" fill="#6b6b6b"/>
<rect x="358.4" y="108.8" width="9.7" height="6.6" fill="#929292"/>
<rect x="367.7" y="108.8" width="9.7" height="6.6" fill="#919191"/>
<rect x="377.0" y="108.8" width="9.7" height="6.6" fill="#929292"/>
<rect x="386.4" y="108.8" width="9.7" height="6.6" fill="#838383"/>
<rect x="395.7" y="108.8" width="9.7" height="6.6" fill="#626262"/>
<rect x="405.0" y="108.8" width="9.7" height="6.6" fill="#252525"/>
<rect x="414.3" y="108.8" width="9.7" height="6.6" fill="#2f2f2f"/>
<rect x="423.6" y="108.8" width="19.0" height="6.6" fill="#000000"/>
<rect x="442.3" y="108.8" width="9.7" height="6.6" fill="#151515"/>
<rect x="451.6" y="108.8" width="9.7" height="6.6" fill="#232323"/>
<rect x="460.9" y="108.8" width="9.7" height="6.6" fill="#636363"/>
<rect x="470.2" y="108.8" width="33.7" height="6.6" fill="#606060"/>
<rect x="26.8" y="114.9" width="33.7" height="6.6" fill="#505050"/>
<rect x="60.2" y="114.9" width="9.7" height="6.6" fill="#636363"/>
<rect x="69.5" y="114.9" width="9.7" height="6.6" fill="#5e5e5e"/>
<rect x="78.8" y="114.9" width="9.7" height="6.6" fill="#858585"/>
<rect x="88.1" y="114.9" width="9.7" height="6.6" fill="#828282"/>
<rect x="97.4" y="114.9" width="9.7" height="6.6" fill="#838383"/>
<rect x="106.8" y="114.9" width="9.7" height="6.6" fill="#707070"/>
<rect x="116.1" y="114.9" width="9.7" height="6.6" fill="#5e5e5e"/>
<rect x="125.4" y="114.9" width="9.7" height="6.6" fill="#121212"/>
<rect x="134.7" y="114.9" width="9.7" height="6.6" fill="#000000"/>
<rect x="144.0" y="114.9" width="9.7" height="6.6" fill="#626262"/>
<rect x="153.4" y="114.9" width="9.7" height="6.6" fill="#606060"/>
<rect x="162.7" y="114.9" width="9.7" height="6.6" fill="#717171"/>
<rect x="172.0" y="114.9" width="37.7" height="6.6" fill="#828282"/>
<rect x="209.3" y="114.9" width="9.7" height="6.6" fill="#979797"/>
<rect x="218.6" y="114.9" width="19.0" height="6.6" fill="#969696"/>
<rect x="237.2" y="114.9" width="9.7" height="6.6" fill="#616161"/>
<rect x="246.6" y="114.9" width="9.7" height="6.6" fill="#a4a4a4"/>
<rect x="255.9" y="114.9" width="28.4" height="6.6" fill="#a1a1a1"/>
<rect x="283.8" y="114.9" width="9.7" height="6.6" fill="#a2a2a2"/>
<rect x="293.2" y="114.9" width="9.7" height="6.6" fill="#a4a4a4"/>
<rect x="302.5" y="114.9" width="9.7" height="6.6" fill="#979797"/>
<rect x="311.8" y="114.9" width="9.7" height="6.6" fill="#787878"/>
<rect x="321.1" y="114.9" width="9.7" height="6.6" fill="#555555"/>
<rect x="330.4" y="114.9" width="9.7" height="6.6" fill="#515151"/>
<rect x="339.8" y="114.9" width="9.7" height="6.6" fill="#727272"/>
<rect x="349.1" y="114.9" width="9.7" height="6.6" fill="#949494"/>
<rect x="358.4" y="114.9" width="19.0" height="6.6" fill="#919191"/>
<rect x="377.0" y="114.9" width="9.7" height="6.6" fill="#929292"/>
<rect x="386.4" y="114.9" width="9.7" height="6.6" fill="#808080"/>
<rect x="395.7" y="114.9" width="9.7" height="6.6" fill="#717171"/>
<rect x="405.0" y="114.9" width="9.7" height="6.6" fill="#616161"/>
<rect x="414.3" y="114.9" width="9.7" height="6.6" fill="#656565"/>
<rect x="423.6" y="114.9" width="9.7" height="6.6" fill="#666666"/>
<rect x="433.0" y="114.9" width="9.7" height="6.6" fill="#686868"/>
<rect x="442.3" y="114.9" width="9.7" height="6.6" fill="#3d3d3d"/>
<rect x="451.6" y="114.9" width="9.7" height="6.6" fill="#515151"/>
<rect x="460.9" y="114.9" width="9.7" height="6.6" fill="#626262"/>
<rect x="470.2" y="114.9" width="33.7" height="6.6" fill="#606060"/>
<rect x="26.8" y="121.1" width="43.0" height="6.6" fill="#666666"/>
<rect x="69.5" y="121.1" width="9.7" height="6.6" fill="#656565"/>
<rect x="78.8" y="121.1" width="9.7" height="6.6" fill="#646464"/>
<rect x="88.1" y="121.1" width="9.7" height="6.6" fill="#636363"/>
<rect x="97.4" y="121.1" width="9.7" height="6.6" fill="#787878"/>
<rect x="106.8" y="121.1" width="9.7" height="6.6" fill="#777777"/>
<rect x="116.1" y="121.1" width="9.7" height="6.6" fill="#767676"/>
<rect x="125.4" y="121.1" width="9.7" height="6.6" fill="#878787"/>
<rect x="134.7" y="121.1" width="9.7" height="6.6" fill="#999999"/>
<rect x="144.0" y="121.1" width="9.7" height="6.6" fill="#838383"/>
<rect x="153.4" y="121.1" width="9.7" height="6.6" fill="#818181"/>
<rect x="162.7" y="121.1" width="9.7" height="6.6" fill="#939393"/>
<rect x="172.0" y="121.1" width="19.0" height="6.6" fill="#919191"/>
<rect x="190.6" y="121.1" width="19.0" height="6.6" fill="#7b7b7b"/>
<rect x="209.3" y="121.1" width="9.7" height="6.6" fill="#7d7d7d"/>
<rect x="218.6" y="121.1" width="9.7" height="6.6" fill="#292929"/>
<rect x="227.9" y="121.1" width="9.7" height="6.6" fill="#919191"/>
<rect x="237.2" y="121.1" width="9.7" height="6.6" fill="#a2a2a2"/>
<rect x="246.6" y="121.1" width="9.7" height="6.6" fill="#a1a1a1"/>
<rect x="255.9" y="121.1" width="28.4" height="6.6" fill="#9f9f9f"/>
<rect x="283.8" y="121.1" width="9.7" height="6.6" fill="#a0a0a0"/>
<rect x="293.2" y="121.1" width="9.7" height="6.6" fill="#8c8c8c"/>
<rect x="302.5" y="121.1" width="9.7" height="6.6" fill="#808080"/>
<rect x="311.8" y="121.1" width="19.0" height="6.6" fill="#000000"/>
<rect x="330.4" y="121.1" width="9.7" height="6.6" fill="#0d0d0d"/>
<rect x="339.8" y="121.1" width="9.7" height="6.6" fill="#818181"/>
<rect x="349.1" y="121.1" width="9.7" height="6.6" fill="#929292"/>
<rect x="358.4" y="121.1" width="9.7" height="6.6" fill="#797979"/>
<rect x="367.7" y="121.1" width="9.7" height="6.6" fill="#7c7c7c"/>
<rect x="377.0" y="121.1" width="9.7" height="6.6" fill="#7d7d7d"/>
<rect x="386.4" y="121.1" width="9.7" height="6.6" fill="#808080"/>
<rect x="395.7" y="121.1" width="9.7" height="6.6" fill="#828282"/>
<rect x="405.0" y="121.1" width="9.7" height="6.6" fill="#717171"/>
<rect x="414.3" y="121.1" width="9.7" height="6.6" fill="#5d5d5d"/>
<rect x="423.6" y="121.1" width="9.7" height="6.6" fill="#606060"/>
<rect x="433.0" y="121.1" width="9.7" height="6.6" fill="#626262"/>
<rect x="442.3" y="121.1" width="9.7" height="6.6" fill="#4b4b4b"/>
<rect x="451.6" y="121.1" width="9.7" height="6.6" fill="#626262"/>
<rect x="460.9" y="121.1" width="43.0" height="6.6" fill="#606060"/>
<rect x="26.8" y="127.3" width="33.7" height="6.6" fill="#272727"/>
<rect x="60.2" y="127.3" width="9.7" height="6.6" fill="#0f0f0f"/>
<rect x="69.5" y="127.3" width="19.0" height="6.6" fill="#101010"/>
<rect x="88.1" y="127.3" width="9.7" height="6.6" fill="#0f0f0f"/>
<rect x="97.4" y="127.3" width="19.0" height="6.6" fill="#000000"/>
<rect x="116.1" y="127.3" width="9.7" height="6.6" fill="#424242"/>
<rect x="125.4" y="127.3" width="9.7" height="6.6" fill="#808080"/>
<rect x="134.7" y="127.3" width="9.7" height="6.6" fill="#929292"/>
<rect x="144.0" y="127.3" width="19.0" height="6.6" fill="#7c7c7c"/>
<rect x="162.7" y="127.3" width="9.7" height="6.6" fill="#919191"/>
<rect x="172.0" y="127.3" width="9.7" height="6.6" fill="#909090"/>
<rect x="181.3" y="127.3" width="28.4" height="6.6" fill="#919191"/>
<rect x="209.3" y="127.3" width="19.0" height="6.6" fill="#929292"/>
<rect x="227.9" y="127.3" width="9.7" height="6.6" fill="#909090"/>
<rect x="237.2" y="127.3" width="9.7" height="6.6" fill="#a1a1a1"/>
<rect x="246.6" y="127.3" width="9.7" height="6.6" fill="#9f9f9f"/>
<rect x="255.9" y="127.3" width="19.0" height="6.6" fill="#a0a0a0"/>
<rect x="274.5" y="127.3" width="9.7" height="6.6" fill="#a3a3a3"/>
<rect x="283.8" y="127.3" width="9.7" height="6.6" fill="#a4a4a4"/>
<rect x="293.2" y="127.3" width="9.7" height="6.6" fill="#919191"/>
<rect x="302.5" y="127.3" width="9.7" height="6.6" fill="#949494"/>
<rect x="311.8" y="127.3" width="9.7" height="6.6" fill="#858585"/>
<rect x="321.1" y="127.3" width="9.7" height="6.6" fill="#878787"/>
<rect x="330.4" y="127.3" width="9.7" height="6.6" fill="#989898"/>
<rect x="339.8" y="127.3" width="9.7" height="6.6" fill="#949494"/>
<rect x="349.1" y="127.3" width="9.7" height="6.6" fill="#929292"/>
<rect x="358.4" y="127.3" width="9.7" height="6.6" fill="#808080"/>
<rect x="367.7" y="127.3" width="19.0" height="6.6" fill="#818181"/>
<rect x="386.4" y="127.3" width="19.0" height="6.6" fill="#808080"/>
<rect x="405.0" y="127.3" width="9.7" height="6.6" fill="#6e6e6e"/>
<rect x="414.3" y="127.3" width="9.7" height="6.6" fill="#5b5b5b"/>
<rect x="423.6" y="127.3" width="9.7" height="6.6" fill="#606060"/>
<rect x="433.0" y="127.3" width="9.7" height="6.6" fill="#626262"/>
<rect x="442.3" y="127.3" width="9.7" height="6.6" fill="#494949"/>
<rect x="451.6" y="127.3" width="9.7" height="6.6" fill="#626262"/>
<rect x="460.9" y="127.3" width="43.0" height="6.6" fill="#606060"/>
<rect x="26.8" y="133.4" width="33.7" height="6.6" fill="#272727"/>
<rect x="60.2" y="133.4" width="9.7" height="6.6" fill="#0f0f0f"/>
<rect x="69.5" y="133.4" width="9.7" height="6.6" fill="#101010"/>
<rect x="78.8" y="133.4" width="9.7" height="6.6" fill="#2a2a2a"/>
<rect x="88.1" y="133.4" width="9.7" height="6.6" fill="#0d0d0d"/>
<rect x="97.4" y="133.4" width="9.7" height="6.6" fill="#272727"/>
<rect x="106.8" y="133.4" width="9.7" height="6.6" fill="#515151"/>
<rect x="116.1" y="133.4" width="9.7" height="6.6" fill="#727272"/>
<rect x="125.4" y="133.4" width="9.7" height="6.6" fill="#939393"/>
<rect x="134.7" y="133.4" width="9.7" height="6.6" fill="#909090"/>
<rect x="144.0" y="133.4" width="19.0" height="6.6" fill="#767676"/>
<rect x="162.7" y="133.4" width="9.7" height="6.6" fill="#8f8f8f"/>
<rect x="172.0" y="133.4" width="9.7" height="6.6" fill="#737373"/>
<rect x="181.3" y="133.4" width="9.7" height="6.6" fill="#747474"/>
<rect x="190.6" y="133.4" width="9.7" height="6.6" fill="#737373"/>
<rect x="200.0" y="133.4" width="9.7" height="6.6" fill="#8d8d8d"/>
<rect x="209.3" y="133.4" width="19.0" height="6.6" fill="#8c8c8c"/>
<rect x="227.9" y="133.4" width="9.7" height="6.6" fill="#898989"/>
<rect x="237.2" y="133.4" width="9.7" height="6.6" fill="#a0a0a0"/>
<rect x="246.6" y="133.4" width="9.7" height="6.6" fill="#9f9f9f"/>
<rect x="255.9" y="133.4" width="9.7" height="6.6" fill="#a0a0a0"/>
<rect x="265.2" y="133.4" width="9.7" height="6.6" fill="#878787"/>
<rect x="274.5" y="133.4" width="9.7" height="6.6" fill="#8f8f8f"/>
<rect x="283.8" y="133.4" width="9.7" height="6.6" fill="#0a0a0a"/>
<rect x="293.2" y="133.4" width="9.7" height="6.6" fill="#929292"/>
<rect x="302.5" y="133.4" width="9.7" height="6.6" fill="#919191"/>
<rect x="311.8" y="133.4" width="9.7" height="6.6" fill="#7e7e7e"/>
<rect x="321.1" y="133.4" width="9.7" height="6.6" fill="#7d7d7d"/>
<rect x="330.4" y="133.4" width="9.7" height="6.6" fill="#929292"/>
<rect x="339.8" y="133.4" width="9.7" height="6.6" fill="#777777"/>
<rect x="349.1" y="133.4" width="9.7" height="6.6" fill="#797979"/>
<rect x="358.4" y="133.4" width="9.7" height="6.6" fill="#808080"/>
<rect x="367.7" y="133.4" width="9.7" height="6.6" fill="#141414"/>
<rect x="377.0" y="133.4" width="9.7" height="6.6" fill="#808080"/>
<rect x="386.4" y="133.4" width="9.7" height="6.6" fill="#7c7c7c"/>
<rect x="395.7" y="133.4" width="9.7" height="6.6" fill="#7d7d7d"/>
<rect x="405.0" y="133.4" width="9.7" height="6.6" fill="#818181"/>
<rect x="414.3" y="133.4" width="9.7" height="6.6" fill="#545454"/>
<rect x="423.6" y="133.4" width="9.7" height="6.6" fill="#5b5b5b"/>
<rect x="433.0" y="133.4" width="9.7" height="6.6" fill="#606060"/>
<rect x="442.3" y="133.4" width="9.7" height="6.6" fill="#292929"/>
<rect x="451.6" y="133.4" width="9.7" height="6.6" fill="#606060"/>
<rect x="460.9" y="133.4" width="43.0" height="6.6" fill="#5c5c5c"/>
<rect x="26.8" y="139.6" width="33.7" height="6.6" fill="#636363"/>
<rect x="60.2" y="139.6" width="19.0" height="6.6" fill="#646464"/>
<rect x="78.8" y="139.6" width="9.7" height="6.6" fill="#636363"/>
<rect x="88.1" y="139.6" width="9.7" height="6.6" fill="#767676"/>
<rect x="97.4" y="139.6" width="9.7" height="6.6" fill="#747474"/>
<rect x="106.8" y="139.6" width="9.7" height="6.6" fill="#717171"/>
<rect x="116.1" y="139.6" width="9.7" height="6.6" fill="#808080"/>
<rect x="125.4" y="139.6" width="9.7" height="6.6" fill="#909090"/>
<rect x="134.7" y="139.6" width="65.6" height="6.6" fill="#a2a2a2"/>
<rect x="200.0" y="139.6" width="28.4" height="6.6" fill="#a1a1a1"/>
<rect x="227.9" y="139.6" width="19.0" height="6.6" fill="#a0a0a0"/>
<rect x="246.6" y="139.6" width="9.7" height="6.6" fill="#9f9f9f"/>
<rect x="255.9" y="139.6" width="19.0" height="6.6" fill="#a0a0a0"/>
<rect x="274.5" y="139.6" width="9.7" height="6.6" fill="#a4a4a4"/>
<rect x="283.8" y="139.6" width="9.7" height="6.6" fill="#909090"/>
<rect x="293.2" y="139.6" width="9.7" height="6.6" fill="#919191"/>
<rect x="302.5" y="139.6" width="9.7" height="6.6" fill="#767676"/>
<rect x="311.8" y="139.6" width="9.7" height="6.6" fill="#808080"/>
<rect x="321.1" y="139.6" width="9.7" height="6.6" fill="#6b6b6b"/>
<rect x="330.4" y="139.6" width="9.7" height="6.6" fill="#959595"/>
<rect x="339.8" y="139.6" width="9.7" height="6.6" fill="#919191"/>
<rect x="349.1" y="139.6" width="9.7" height="6.6" fill="#8f8f8f"/>
<rect x="358.4" y="139.6" width="28.4" height="6.6" fill="#919191"/>
<rect x="386.4" y="139.6" width="19.0" height="6.6" fill="#8f8f8f"/>
<rect x="405.0" y="139.6" width="9.7" height="6.6" fill="#919191"/>
<rect x="414.3" y="139.6" width="9.7" height="6.6" fill="#808080"/>
<rect x="423.6" y="139.6" width="9.7" height="6.6" fill="#6d6d6d"/>
<rect x="433.0" y="139.6" width="28.4" height="6.6" fill="#717171"/>
<rect x="460.9" y="139.6" width="43.0" height="6.6" fill="#707070"/>
<rect x="26.8" y="145.8" width="61.7" height="6.6" fill="#717171"/>
<rect x="88.1" y="145.8" width="9.7" height="6.6" fill="#6e6e6e"/>
<rect x="97.4" y="145.8" width="9.7" height="6.6" fill="#828282"/>
<rect x="106.8" y="145.8" width="9.7" height="6.6" fill="#808080"/>
<rect x="116.1" y="145.8" width="9.7" height="6.6" fill="#7b7b7b"/>
<rect x="125.4" y="145.8" width="9.7" height="6.6" fill="#a3a3a3"/>
<rect x="134.7" y="145.8" width="9.7" height="6.6" fill="#9f9f9f"/>
<rect x="144.0" y="145.8" width="9.7" height="6.6" fill="#9a9a9a"/>
<rect x="153.4" y="145.8" width="121.6" height="6.6" fill="#989898"/>
<rect x="274.5" y="145.8" width="9.7" height="6.6" fill="#999999"/>
<rect x="283.8" y="145.8" width="9.7" height="6.6" fill="#9c9c9c"/>
<rect x="293.2" y="145.8" width="9.7" height="6.6" fill="#9f9f9f"/>
<rect x="302.5" y="145.8" width="9.7" height="6.6" fill="#a1a1a1"/>
<rect x="311.8" y="145.8" width="9.7" height="6.6" fill="#919191"/>
<rect x="321.1" y="145.8" width="9.7" height="6.6" fill="#111111"/>
<rect x="330.4" y="145.8" width="9.7" height="6.6" fill="#292929"/>
<rect x="339.8" y="145.8" width="9.7" height="6.6" fill="#a2a2a2"/>
<rect x="349.1" y="145.8" width="28.4" height="6.6" fill="#9f9f9f"/>
<rect x="377.0" y="145.8" width="19.0" height="6.6" fill="#a0a0a0"/>
<rect x="395.7" y="145.8" width="9.7" height="6.6" fill="#a1a1a1"/>
<rect x="405.0" y="145.8" width="9.7" height="6.6" fill="#a2a2a2"/>
<rect x="414.3" y="145.8" width="9.7" height="6.6" fill="#909090"/>
<rect x="423.6" y="145.8" width="9.7" height="6.6" fill="#7e7e7e"/>
<rect x="433.0" y="145.8" width="71.0" height="6.6" fill="#818181"/>
<rect x="26.8" y="152.0" width="61.7" height="6.6" fill="#646464"/>
<rect x="88.1" y="152.0" width="9.7" height="6.6" fill="#626262"/>
<rect x="97.4" y="152.0" width="9.7" height="6.6" fill="#7b7b7b"/>
<rect x="106.8" y="152.0" width="9.7" height="6.6" fill="#777777"/>
<rect x="116.1" y="152.0" width="9.7" height="6.6" fill="#8d8d8d"/>
<rect x="125.4" y="152.0" width="9.7" height="6.6" fill="#878787"/>
<rect x="134.7" y="152.0" width="9.7" height="6.6" fill="#979797"/>
<rect x="144.0" y="152.0" width="9.7" height="6.6" fill="#c2c2c2"/>
<rect x="153.4" y="152.0" width="9.7" height="6.6" fill="#bebebe"/>
<rect x="162.7" y="152.0" width="9.7" height="6.6" fill="#bdbdbd"/>
<rect x="172.0" y="152.0" width="112.2" height="6.6" fill="#bcbcbc"/>
<rect x="283.8" y="152.0" width="9.7" height="6.6" fill="#bdbdbd"/>
<rect x="293.2" y="152.0" width="9.7" height="6.6" fill="#a3a3a3"/>
<rect x="302.5" y="152.0" width="9.7" height="6.6" fill="#a5a5a5"/>
<rect x="311.8" y="152.0" width="9.7" height="6.6" fill="#aeaeae"/>
<rect x="321.1" y="152.0" width="9.7" height="6.6" fill="#999999"/>
<rect x="330.4" y="152.0" width="9.7" height="6.6" fill="#b1b1b1"/>
<rect x="339.8" y="152.0" width="9.7" height="6.6" fill="#aaaaaa"/>
<rect x="349.1" y="152.0" width="28.4" height="6.6" fill="#a4a4a4"/>
<rect x="377.0" y="152.0" width="9.7" height="6.6" fill="#a5a5a5"/>
<rect x="386.4" y="152.0" width="9.7" height="6.6" fill="#8d8d8d"/>
<rect x="395.7" y="152.0" width="9.7" height="6.6" fill="#8f8f8f"/>
<rect x="405.0" y="152.0" width="9.7" height="6.6" fill="#929292"/>
<rect x="414.3" y="152.0" width="9.7" height="6.6" fill="#979797"/>
<rect x="423.6" y="152.0" width="9.7" height="6.6" fill="#656565"/>
<rect x="433.0" y="152.0" width="9.7" height="6.6" fill="#6e6e6e"/>
<rect x="442.3" y="152.0" width="9.7" height="6.6" fill="#737373"/>
<rect x="451.6" y="152.0" width="52.4" height="6.6" fill="#787878"/>
<rect x="26.8" y="158.2" width="61.7" height="6.6" fill="#9c9c9c"/>
<rect x="88.1" y="158.2" width="9.7" height="6.6" fill="#9a9a9a"/>
<rect x="97.4" y="158.2" width="9.7" height="6.6" fill="#999999"/>
<rect x="106.8" y="158.2" width="9.7" height="6.6" fill="#979797"/>
<rect x="116.1" y="158.2" width="9.7" height="6.6" fill="#949494"/>
<rect x="125.4" y="158.2" width="9.7" height="6.6" fill="#acacac"/>
<rect x="134.7" y="158.2" width="9.7" height="6.6" fill="#a2a2a2"/>
<rect x="144.0" y="158.2" width="9.7" height="6.6" fill="#e4e4e4"/>
<rect x="153.4" y="158.2" width="9.7" height="6.6" fill="#e0e0e0"/>
<rect x="162.7" y="158.2" width="9.7" height="6.6" fill="#f3f3f3"/>
<rect x="172.0" y="158.2" width="112.2" height="6.6" fill="#f2f2f2"/>
<rect x="283.8" y="158.2" width="19.0" height="6.6" fill="#f3f3f3"/>
<rect x="302.5" y="158.2" width="84.3" height="6.6" fill="#f4f4f4"/>
<rect x="386.4" y="158.2" width="9.7" height="6.6" fill="#f6f6f6"/>
<rect x="395.7" y="158.2" width="9.7" height="6.6" fill="#e4e4e4"/>
<rect x="405.0" y="158.2" width="9.7" height="6.6" fill="#e5e5e5"/>
<rect x="414.3" y="158.2" width="9.7" height="6.6" fill="#e6e6e6"/>
<rect x="423.6" y="158.2" width="9.7" height="6.6" fill="#e7e7e7"/>
<rect x="433.0" y="158.2" width="9.7" height="6.6" fill="#ebebeb"/>
<rect x="442.3" y="158.2" width="9.7" height="6.6" fill="#959595"/>
<rect x="451.6" y="158.2" width="52.4" height="6.6" fill="#9c9c9c"/>
<rect x="26.8" y="164.3" width="99.0" height="6.6" fill="#e5e5e5"/>
<rect x="125.4" y="164.3" width="9.7" height="6.6" fill="#e4e4e4"/>
<rect x="134.7" y="164.3" width="9.7" height="6.6" fill="#e1e1e1"/>
<rect x="144.0" y="164.3" width="9.7" height="6.6" fill="#f3f3f3"/>
<rect x="153.4" y="164.3" width="9.7" height="6.6" fill="#efefef"/>
<rect x="162.7" y="164.3" width="233.4" height="6.6" fill="#ffffff"/>
<rect x="395.7" y="164.3" width="9.7" height="6.6" fill="#d9d9d9"/>
<rect x="405.0" y="164.3" width="28.4" height="6.6" fill="#dfdfdf"/>
<rect x="433.0" y="164.3" width="9.7" height="6.6" fill="#e2e2e2"/>
<rect x="442.3" y="164.3" width="9.7" height="6.6" fill="#d0d0d0"/>
<rect x="451.6" y="164.3" width="52.4" height="6.6" fill="#d2d2d2"/>
<rect x="26.8" y="170.5" width="108.3" height="6.6" fill="#e1e1e1"/>
<rect x="134.7" y="170.5" width="9.7" height="6.6" fill="#e0e0e0"/>
<rect x="144.0" y="170.5" width="9.7" height="6.6" fill="#f3f3f3"/>
<rect x="153.4" y="170.5" width="9.7" height="6.6" fill="#f1f1f1"/>
<rect x="162.7" y="170.5" width="233.4" height="6.6" fill="#ffffff"/>
<rect x="395.7" y="170.5" width="9.7" height="6.6" fill="#dddddd"/>
<rect x="405.0" y="170.5" width="9.7" height="6.6" fill="#e0e0e0"/>
<rect x="414.3" y="170.5" width="19.0" height="6.6" fill="#dfdfdf"/>
<rect x="433.0" y="170.5" width="19.0" height="6.6" fill="#e0e0e0"/>
<rect x="451.6" y="170.5" width="52.4" height="6.6" fill="#e1e1e1"/>
<rect x="26.8" y="176.7" width="108.3" height="6.6" fill="#cfcfcf"/>
<rect x="134.7" y="176.7" width="9.7" height="6.6" fill="#cecece"/>
<rect x="144.0" y="176.7" width="9.7" height="6.6" fill="#cdcdcd"/>
<rect x="153.4" y="176.7" width="9.7" height="6.6" fill="#cacaca"/>
<rect x="162.7" y="176.7" width="9.7" height="6.6" fill="#c9c9c9"/>
<rect x="172.0" y="176.7" width="28.4" height="6.6" fill="#c8c8c8"/>
<rect x="200.0" y="176.7" width="9.7" height="6.6" fill="#cbcbcb"/>
<rect x="209.3" y="176.7" width="9.7" height="6.6" fill="#b4b4b4"/>
<rect x="218.6" y="176.7" width="9.7" height="6.6" fill="#bebebe"/>
<rect x="227.9" y="176.7" width="9.7" height="6.6" fill="#a9a9a9"/>
<rect x="237.2" y="176.7" width="19.0" height="6.6" fill="#afafaf"/>
<rect x="255.9" y="176.7" width="9.7" height="6.6" fill="#aaaaaa"/>
<rect x="265.2" y="176.7" width="9.7" height="6.6" fill="#a5a5a5"/>
<rect x="274.5" y="176.7" width="37.7" height="6.6" fill="#a0a0a0"/>
<rect x="311.8" y="176.7" width="9.7" height="6.6" fill="#9b9b9b"/>
<rect x="321.1" y="176.7" width="9.7" height="6.6" fill="#cdcdcd"/>
<rect x="330.4" y="176.7" width="56.3" height="6.6" fill="#c8c8c8"/>
<rect x="386.4" y="176.7" width="19.0" height="6.6" fill="#cacaca"/>
<rect x="405.0" y="176.7" width="9.7" height="6.6" fill="#e2e2e2"/>
<rect x="414.3" y="176.7" width="89.6" height="6.6" fill="#e1e1e1"/>
<rect x="26.8" y="182.8" width="173.5" height="27.6" fill="#bcbcbc"/>
<rect x="200.0" y="182.8" width="9.7" height="27.6" fill="#c0c0c0"/>
<rect x="209.3" y="182.8" width="9.7" height="27.6" fill="#929292"/>
<rect x="218.6" y="182.8" width="9.7" height="27.6" fill="#a1a1a1"/>
<rect x="227.9" y="182.8" width="9.7" height="27.6" fill="#424242"/>
<rect x="237.2" y="182.8" width="19.0" height="27.6" fill="#4d4d4d"/>
<rect x="255.9" y="182.8" width="9.7" height="27.6" fill="#434343"/>
<rect x="265.2" y="182.8" width="9.7" height="27.6" fill="#a2a2a2"/>
<rect x="274.5" y="182.8" width="37.7" height="27.6" fill="#9c9c9c"/>
<rect x="311.8" y="182.8" width="9.7" height="27.6" fill="#949494"/>
<rect x="321.1" y="182.8" width="9.7" height="27.6" fill="#c1c1c1"/>
<rect x="330.4" y="182.8" width="65.6" height="27.6" fill="#bcbcbc"/>
<rect x="395.7" y="182.8" width="9.7" height="27.6" fill="#b8b8b8"/>
<rect x="405.0" y="182.8" width="9.7" height="27.6" fill="#cfcfcf"/>
<rect x="414.3" y="182.8" width="89.6" height="27.6" fill="#cbcbcb"/>
</g>
<g filter="url(#jet2)" opacity="0.85">
<path d="M52.0,19.3 L53.0,19.3 L53.8,57.1 L51.2,57.1 Z" fill="#313131"/>
<path d="M60.7,19.3 L62.0,19.3 L62.5,47.2 L60.2,47.2 Z" fill="#1b1b1b"/>
<path d="M68.4,19.3 L69.7,19.3 L70.3,55.7 L67.8,55.7 Z" fill="#404040"/>
<path d="M77.3,19.3 L78.7,19.3 L79.3,58.8 L76.7,58.8 Z" fill="#383838"/>
<path d="M86.6,19.3 L87.8,19.3 L88.5,48.2 L85.9,48.2 Z" fill="#3d3d3d"/>
<path d="M94.6,19.3 L95.7,19.3 L96.5,63.0 L93.8,63.0 Z" fill="#242424"/>
<path d="M104.2,19.3 L105.3,19.3 L106.2,64.1 L103.4,64.1 Z" fill="#4a4a4a"/>
<path d="M112.7,19.3 L113.5,19.3 L114.2,63.3 L112.0,63.3 Z" fill="#4d4d4d"/>
<path d="M120.2,19.3 L121.3,19.3 L121.9,55.1 L119.6,55.1 Z" fill="#3e3e3e"/>
<path d="M128.7,19.3 L129.8,19.3 L130.6,53.5 L128.0,53.5 Z" fill="#323232"/>
<path d="M138.3,19.3 L139.6,19.3 L140.5,64.2 L137.5,64.2 Z" fill="#383838"/>
<path d="M147.3,19.3 L148.7,19.3 L149.4,62.9 L146.5,62.9 Z" fill="#292929"/>
<path d="M156.1,19.3 L157.4,19.3 L158.0,50.9 L155.4,50.9 Z" fill="#505050"/>
<path d="M163.9,19.3 L165.3,19.3 L165.6,62.8 L163.5,62.8 Z" fill="#252525"/>
<path d="M173.5,19.3 L174.4,19.3 L175.3,49.8 L172.6,49.8 Z" fill="#505050"/>
<path d="M183.2,19.3 L184.0,19.3 L184.9,58.4 L182.2,58.4 Z" fill="#505050"/>
<path d="M191.0,19.3 L192.1,19.3 L193.1,65.2 L190.1,65.2 Z" fill="#505050"/>
<path d="M199.1,19.3 L199.9,19.3 L200.6,58.1 L198.4,58.1 Z" fill="#2b2b2b"/>
<path d="M207.3,19.3 L208.1,19.3 L209.2,49.9 L206.3,49.9 Z" fill="#404040"/>
<path d="M215.2,19.3 L216.2,19.3 L216.9,63.6 L214.4,63.6 Z" fill="#3e3e3e"/>
<path d="M223.7,19.3 L224.8,19.3 L225.5,58.0 L222.9,58.0 Z" fill="#222222"/>
<path d="M233.4,19.3 L234.7,19.3 L235.2,55.0 L232.9,55.0 Z" fill="#212121"/>
<path d="M241.4,19.3 L242.5,19.3 L243.0,56.7 L240.9,56.7 Z" fill="#3a3a3a"/>
<path d="M249.6,19.3 L250.8,19.3 L251.5,47.4 L248.9,47.4 Z" fill="#505050"/>
<path d="M256.8,19.3 L258.0,19.3 L258.6,55.6 L256.2,55.6 Z" fill="#505050"/>
<path d="M266.1,19.3 L266.9,19.3 L267.8,47.4 L265.2,47.4 Z" fill="#505050"/>
<path d="M275.8,19.3 L277.0,19.3 L277.5,55.5 L275.2,55.5 Z" fill="#424242"/>
<path d="M283.9,19.3 L285.1,19.3 L285.6,53.8 L283.3,53.8 Z" fill="#3a3a3a"/>
<path d="M292.0,19.3 L293.2,19.3 L294.0,47.5 L291.2,47.5 Z" fill="#2c2c2c"/>
<path d="M300.1,19.3 L301.0,19.3 L301.6,61.9 L299.4,61.9 Z" fill="#181818"/>
<path d="M308.3,19.3 L309.3,19.3 L310.0,48.9 L307.7,48.9 Z" fill="#242424"/>
<path d="M317.9,19.3 L318.8,19.3 L319.5,62.8 L317.2,62.8 Z" fill="#191919"/>
<path d="M326.8,19.3 L327.8,19.3 L328.4,55.4 L326.2,55.4 Z" fill="#2b2b2b"/>
<path d="M335.2,19.3 L336.5,19.3 L337.0,61.9 L334.8,61.9 Z" fill="#181818"/>
<path d="M343.1,19.3 L344.4,19.3 L344.9,58.9 L342.5,58.9 Z" fill="#3d3d3d"/>
<path d="M350.6,19.3 L351.6,19.3 L352.3,61.7 L349.9,61.7 Z" fill="#393939"/>
<path d="M358.7,19.3 L360.0,19.3 L360.4,54.6 L358.3,54.6 Z" fill="#505050"/>
<path d="M365.7,19.3 L367.1,19.3 L367.6,63.3 L365.2,63.3 Z" fill="#505050"/>
<path d="M375.6,19.3 L376.8,19.3 L377.6,51.1 L374.8,51.1 Z" fill="#505050"/>
<path d="M384.7,19.3 L385.7,19.3 L386.3,52.4 L384.1,52.4 Z" fill="#505050"/>
<path d="M391.8,19.3 L393.1,19.3 L393.4,52.3 L391.4,52.3 Z" fill="#2f2f2f"/>
<path d="M401.5,19.3 L402.8,19.3 L403.6,64.1 L400.7,64.1 Z" fill="#4e4e4e"/>
<path d="M410.4,19.3 L411.3,19.3 L412.0,60.8 L409.7,60.8 Z" fill="#181818"/>
<path d="M419.2,19.3 L420.5,19.3 L421.2,54.7 L418.5,54.7 Z" fill="#1d1d1d"/>
<path d="M427.3,19.3 L428.4,19.3 L429.3,63.0 L426.5,63.0 Z" fill="#181818"/>
<path d="M435.3,19.3 L436.6,19.3 L437.0,56.9 L434.8,56.9 Z" fill="#181818"/>
<path d="M444.7,19.3 L446.0,19.3 L446.3,61.9 L444.3,61.9 Z" fill="#2d2d2d"/>
<path d="M453.7,19.3 L454.7,19.3 L455.3,47.9 L453.1,47.9 Z" fill="#2a2a2a"/>
<path d="M462.1,19.3 L463.4,19.3 L463.8,55.8 L461.8,55.8 Z" fill="#292929"/>
<path d="M469.5,19.3 L470.4,19.3 L471.4,49.3 L468.4,49.3 Z" fill="#181818"/>
</g>
<g filter="url(#jet3)">
<ellipse cx="181.3" cy="74.8" rx="11.2" ry="2.4" fill="#303030"/>
<ellipse cx="181.3" cy="74.8" rx="9.2" ry="1.4" fill="#000"/>
<ellipse cx="204.6" cy="81.0" rx="7.0" ry="2.4" fill="#303030"/>
<ellipse cx="204.6" cy="81.0" rx="5.0" ry="1.4" fill="#000"/>
<ellipse cx="83.5" cy="93.3" rx="7.0" ry="2.4" fill="#303030"/>
<ellipse cx="83.5" cy="93.3" rx="5.0" ry="1.4" fill="#000"/>
<ellipse cx="176.7" cy="93.3" rx="7.0" ry="2.4" fill="#303030"/>
<ellipse cx="176.7" cy="93.3" rx="5.0" ry="1.4" fill="#000"/>
<ellipse cx="386.4" cy="93.3" rx="11.2" ry="2.4" fill="#303030"/>
<ellipse cx="386.4" cy="93.3" rx="9.2" ry="1.4" fill="#000"/>
<ellipse cx="274.5" cy="99.5" rx="11.2" ry="2.4" fill="#303030"/>
<ellipse cx="274.5" cy="99.5" rx="9.2" ry="1.4" fill="#000"/>
<ellipse cx="195.3" cy="105.7" rx="7.0" ry="2.4" fill="#303030"/>
<ellipse cx="195.3" cy="105.7" rx="5.0" ry="1.4" fill="#000"/>
<ellipse cx="232.6" cy="111.8" rx="7.0" ry="2.4" fill="#303030"/>
<ellipse cx="232.6" cy="111.8" rx="5.0" ry="1.4" fill="#000"/>
<ellipse cx="209.3" cy="124.2" rx="11.2" ry="2.4" fill="#303030"/>
<ellipse cx="209.3" cy="124.2" rx="9.2" ry="1.4" fill="#000"/>
<ellipse cx="186.0" cy="136.5" rx="15.4" ry="2.4" fill="#303030"/>
<ellipse cx="186.0" cy="136.5" rx="13.4" ry="1.4" fill="#000"/>
<ellipse cx="274.5" cy="136.5" rx="11.2" ry="2.4" fill="#303030"/>
<ellipse cx="274.5" cy="136.5" rx="9.2" ry="1.4" fill="#000"/>
<ellipse cx="353.7" cy="136.5" rx="15.4" ry="2.4" fill="#303030"/>
<ellipse cx="353.7" cy="136.5" rx="13.4" ry="1.4" fill="#000"/>
<ellipse cx="200.0" cy="148.9" rx="11.2" ry="2.4" fill="#303030"/>
<ellipse cx="200.0" cy="148.9" rx="9.2" ry="1.4" fill="#000"/>
<ellipse cx="430" cy="122" rx="16.5" ry="3.3" fill="#303030"/>
<ellipse cx="430" cy="122" rx="11" ry="2.2" fill="#000000"/>
<ellipse cx="423" cy="133.5" rx="18.0" ry="3.4" fill="#303030"/>
<ellipse cx="423" cy="133.5" rx="12" ry="2.3" fill="#000000"/>
<ellipse cx="455" cy="157" rx="18.0" ry="1.7" fill="#404040"/>
<ellipse cx="455" cy="157" rx="12" ry="1.1" fill="#101010"/>
<ellipse cx="77" cy="153.3" rx="19.5" ry="2.0" fill="#404040"/>
<ellipse cx="77" cy="153.3" rx="13" ry="1.3" fill="#101010"/>
</g>
<path d="M90,171 C96,166.5 130,164 160,162.3 C200,159.5 265,158.5 330,160 C370,161 410,164 431,173 C420,177 390,177.5 330,177.5 C280,177.5 230,177 200,176.7 C160,176.5 110,176 90,171 Z" fill="none" stroke="#000" stroke-width="2.9" stroke-linejoin="round" stroke-linecap="round"/>
<ellipse cx="55" cy="28" rx="2.6" ry="6.5" transform="rotate(0 55 28)" fill="#000"/>
<path d="M62.8,40.8 C65.5,42.5 65.3,49 63.5,54.5 C62,59.5 59.5,62 57.5,61 C55.8,59.8 56,56 57.5,52 C59,47.5 60.5,42.5 62.8,40.8 Z" fill="#38f0c8" stroke="#000" stroke-width="3.3" stroke-linejoin="round" stroke-linecap="round"/>
<ellipse cx="72.3" cy="29.5" rx="1.9" ry="2.8" transform="rotate(0 72.3 29.5)" fill="#000"/>
<ellipse cx="99.1" cy="35.5" rx="2.1" ry="3.4" transform="rotate(0 99.1 35.5)" fill="#000"/>
<path d="M159,27.5 C162,28 163,36 163.5,42 C164,46 165,50 162.5,50.5 C159.5,50 158.2,45 157.6,40 C157,35 156.8,28 159,27.5 Z" fill="#20e8f0" stroke="#000" stroke-width="3.3" stroke-linejoin="round" stroke-linecap="round"/>
<path d="M172.8,24.5 C175.5,24.5 176.5,30 176.5,36 C176.5,41 176,46 173.8,46 C171.5,46 170.3,41 170.3,35 C170.3,29 170.8,24.5 172.8,24.5 Z" fill="#20e8f0" stroke="#000" stroke-width="3.3" stroke-linejoin="round" stroke-linecap="round"/>
<path d="M178.9,24.2 L178.1,39.8 L174.4,50.1 L172.2,57.6 L166.3,66.4 L158.1,72.4 L155.6,77.6 L158.1,81.3 L164.1,82 L168.5,79 L170.7,72.4 L176.7,66.4 L183.3,62 L189.3,59.8 L195.9,59.3 L201.1,57.6 L202.6,53.9 L200.4,48.7 L197.4,43.5 L198.9,38.3 L201.9,30.9 L201.1,25.7 L197.4,25 L194.4,29.4 L192.2,33.9 L188.5,32.4 L186.3,27.9 L184.8,24.2 Z" fill="url(#gcg)" stroke="#000" stroke-width="3.3" stroke-linejoin="round" stroke-linecap="round"/>
<ellipse cx="188.3" cy="47" rx="2.8" ry="4.3" transform="rotate(0 188.3 47)" fill="#000"/>
<ellipse cx="196.2" cy="42.5" rx="2.3" ry="5.0" transform="rotate(0 196.2 42.5)" fill="#0040ff" stroke="#000" stroke-width="3.3"/>
<ellipse cx="204" cy="70" rx="6" ry="4.6" transform="rotate(-10 204 70)" fill="#80ff80" stroke="#000" stroke-width="3.3"/>
<ellipse cx="210" cy="39" rx="1.1" ry="1.1" transform="rotate(0 210 39)" fill="#000"/>
<path d="M256.5,20 L254,30 C251,34 252.5,38 252.8,42 L252.5,56 C252.5,62 254,63.5 255,63.3 C257.5,62.5 259,58 259.5,52 L260.5,35 L261,20 Z" fill="#38f0c8" stroke="#000" stroke-width="3.3" stroke-linejoin="round" stroke-linecap="round"/>
<ellipse cx="255" cy="34" rx="2.2" ry="4.2" transform="rotate(0 255 34)" fill="#000"/>
<path d="M265.3,20 L265.5,52.5 L270.2,64.7 L274,66.2 L280.1,67.7 L282.3,72.3 L279.3,76.9 L277,83 L280.1,87.5 L287.7,89.1 L293.8,86 L293.8,81.5 L289.2,76.9 L286.2,72.3 L285.4,55.5 L281.6,52.5 L275.5,51 L272.2,49.4 L271.2,37.2 L271.0,20 Z" fill="url(#gcg2)" stroke="#000" stroke-width="3.3" stroke-linejoin="round" stroke-linecap="round"/>
<path d="M280.5,20 L281,27 C282,29.5 286,29.5 287,27 L287.5,20 Z" fill="#20e8f0" stroke="#000" stroke-width="3.3" stroke-linejoin="round" stroke-linecap="round"/>
<ellipse cx="291.5" cy="41.8" rx="2.4" ry="3.4" transform="rotate(0 291.5 41.8)" fill="#000"/>
<ellipse cx="354.8" cy="29" rx="2.8" ry="7.5" transform="rotate(0 354.8 29)" fill="#000"/>
<ellipse cx="363.5" cy="27" rx="2.8" ry="5.5" transform="rotate(0 363.5 27)" fill="#000"/>
<path d="M357,37.5 L355.3,39.4 L348.2,51.4 L347.6,55.8 L350.9,60.2 L355.3,59.1 L360.7,53.6 L363.4,49.3 L362.9,42.7 L360.7,38.4 Z" fill="#38f0c8" stroke="#000" stroke-width="3.3" stroke-linejoin="round" stroke-linecap="round"/>
<path d="M367.8,20 L367.8,35.1 L368.9,39.4 L370.5,43.8 L368.4,48.2 L367.8,53.6 L369.4,58 L372.7,56.9 L376,50.4 L380.3,47.1 L382,43.8 L381.4,38.4 L380.9,34 L379.3,32.4 L377.6,34 L376,32.9 L373.8,28.5 L372.7,24.2 L372.2,20 Z" fill="#38f0c8" stroke="#000" stroke-width="3.3" stroke-linejoin="round" stroke-linecap="round"/>
<ellipse cx="393" cy="41" rx="3.2" ry="8.3" transform="rotate(0 393 41)" fill="#000"/>
<ellipse cx="377.8" cy="79.3" rx="6.0" ry="6.4" transform="rotate(-15 377.8 79.3)" fill="#a8ff80" stroke="#000" stroke-width="3.3"/>
<ellipse cx="467" cy="67.6" rx="3.7" ry="6.4" transform="rotate(-22 467 67.6)" fill="#60ffb0" stroke="#000" stroke-width="3.3"/>
<path d="M48.5,23.0 L52.7,23.0 L52.7,24.0 L52.8,25.0 L52.9,26.0 L52.9,27.0 L53.0,28.0 L53.1,29.0 L53.1,30.0 L53.2,31.0 L53.3,32.0 L53.4,33.0 L53.5,34.0 L53.5,35.0 L53.6,36.0 L53.7,37.0 L53.8,38.0 L53.9,39.0 L54.0,40.0 L54.1,41.0 L54.2,42.0 L54.3,43.0 L54.4,44.0 L54.5,45.0 L54.6,46.0 L54.8,47.0 L54.9,48.0 L55.0,49.0 L55.1,50.0 L55.3,51.0 L55.4,52.0 L55.5,53.0 L55.7,54.0 L55.8,55.0 L56.0,56.0 L56.1,57.0 L56.3,58.0 L56.5,59.0 L56.6,60.0 L56.8,61.0 L57.0,62.0 L57.2,63.0 L57.4,64.0 L57.5,65.0 L57.7,66.0 L58.0,67.0 L58.2,68.0 L58.4,69.0 L58.6,70.0 L58.8,71.0 L59.1,72.0 L59.3,73.0 L59.6,74.0 L59.8,75.0 L60.1,76.0 L60.4,77.0 L60.7,78.0 L60.9,79.0 L61.2,80.0 L61.5,81.0 L61.9,82.0 L62.2,83.0 L62.5,84.0 L62.9,85.0 L63.2,86.0 L63.6,87.0 L63.9,88.0 L64.3,89.0 L64.7,90.0 L65.1,91.0 L65.5,92.0 L66.0,93.0 L66.4,94.0 L66.9,95.0 L67.3,96.0 L67.8,97.0 L68.3,98.0 L68.8,99.0 L69.3,100.0 L69.9,101.0 L70.4,102.0 L71.0,103.0 L71.6,104.0 L72.2,105.0 L72.8,106.0 L73.4,107.0 L74.1,108.0 L74.7,109.0 L75.4,110.0 L76.1,111.0 L76.9,112.0 L77.6,113.0 L78.4,114.0 L79.2,115.0 L80.0,116.0 L80.8,117.0 L81.7,118.0 L82.6,119.0 L83.5,120.0 L84.4,121.0 L85.4,122.0 L86.4,123.0 L87.4,124.0 L88.5,125.0 L89.5,126.0 L90.6,127.0 L91.8,128.0 L93.0,129.0 L94.2,130.0 L95.4,131.0 L96.7,132.0 L98.0,133.0 L99.4,134.0 L100.8,135.0 L102.2,136.0 L103.7,137.0 L105.2,138.0 L106.7,139.0 L108.3,140.0 L110.0,141.0 L111.7,142.0 L113.4,143.0 L115.2,144.0 L117.0,145.0 L118.9,146.0 L120.9,147.0 L122.9,148.0 L124.9,149.0 L127.1,150.0 L129.2,151.0 L131.5,152.0 L133.8,153.0 L136.2,154.0 L138.6,155.0 L141.1,156.0 L143.7,157.0 L146.3,158.0 L149.1,159.0 L151.9,160.0 L154.7,161.0 L157.7,162.0 L160.8,163.0 L163.9,164.0 L167.1,165.0 L170.4,166.0 L173.9,167.0 L177.4,168.0 L181.0,169.0 L184.7,170.0 L188.5,171.0 L192.4,172.0 L196.5,173.0 L200.6,174.0 L204.9,175.0 L209.3,176.0 L213.8,177.0 L218.5,178.0 L223.3,179.0 L228.2,180.0 L233.2,181.0 L238.4,182.0 L243.8,183.0 L249.3,184.0 L254.9,185.0 L260.7,186.0 L48.5,186.0 Z" fill="#fff" fill-opacity="0.5"/>
<path d="M480.5,23.0 L476.3,23.0 L476.3,24.0 L476.2,25.0 L476.1,26.0 L476.1,27.0 L476.0,28.0 L475.9,29.0 L475.9,30.0 L475.8,31.0 L475.7,32.0 L475.6,33.0 L475.5,34.0 L475.5,35.0 L475.4,36.0 L475.3,37.0 L475.2,38.0 L475.1,39.0 L475.0,40.0 L474.9,41.0 L474.8,42.0 L474.7,43.0 L474.6,44.0 L474.5,45.0 L474.4,46.0 L474.2,47.0 L474.1,48.0 L474.0,49.0 L473.9,50.0 L473.7,51.0 L473.6,52.0 L473.5,53.0 L473.3,54.0 L473.2,55.0 L473.0,56.0 L472.9,57.0 L472.7,58.0 L472.5,59.0 L472.4,60.0 L472.2,61.0 L472.0,62.0 L471.8,63.0 L471.6,64.0 L471.5,65.0 L471.3,66.0 L471.0,67.0 L470.8,68.0 L470.6,69.0 L470.4,70.0 L470.2,71.0 L469.9,72.0 L469.7,73.0 L469.4,74.0 L469.2,75.0 L468.9,76.0 L468.6,77.0 L468.3,78.0 L468.1,79.0 L467.8,80.0 L467.5,81.0 L467.1,82.0 L466.8,83.0 L466.5,84.0 L466.1,85.0 L465.8,86.0 L465.4,87.0 L465.1,88.0 L464.7,89.0 L464.3,90.0 L463.9,91.0 L463.5,92.0 L463.0,93.0 L462.6,94.0 L462.1,95.0 L461.7,96.0 L461.2,97.0 L460.7,98.0 L460.2,99.0 L459.7,100.0 L459.1,101.0 L458.6,102.0 L458.0,103.0 L457.4,104.0 L456.8,105.0 L456.2,106.0 L455.6,107.0 L454.9,108.0 L454.3,109.0 L453.6,110.0 L452.9,111.0 L452.1,112.0 L451.4,113.0 L450.6,114.0 L449.8,115.0 L449.0,116.0 L448.2,117.0 L447.3,118.0 L446.4,119.0 L445.5,120.0 L444.6,121.0 L443.6,122.0 L442.6,123.0 L441.6,124.0 L440.5,125.0 L439.5,126.0 L438.4,127.0 L437.2,128.0 L436.0,129.0 L434.8,130.0 L433.6,131.0 L432.3,132.0 L431.0,133.0 L429.6,134.0 L428.2,135.0 L426.8,136.0 L425.3,137.0 L423.8,138.0 L422.3,139.0 L420.7,140.0 L419.0,141.0 L417.3,142.0 L415.6,143.0 L413.8,144.0 L412.0,145.0 L410.1,146.0 L408.1,147.0 L406.1,148.0 L404.1,149.0 L401.9,150.0 L399.8,151.0 L397.5,152.0 L395.2,153.0 L392.8,154.0 L390.4,155.0 L387.9,156.0 L385.3,157.0 L382.7,158.0 L379.9,159.0 L377.1,160.0 L374.3,161.0 L371.3,162.0 L368.2,163.0 L365.1,164.0 L361.9,165.0 L358.6,166.0 L355.1,167.0 L351.6,168.0 L348.0,169.0 L344.3,170.0 L340.5,171.0 L336.6,172.0 L332.5,173.0 L328.4,174.0 L324.1,175.0 L319.7,176.0 L315.2,177.0 L310.5,178.0 L305.7,179.0 L300.8,180.0 L295.8,181.0 L290.6,182.0 L285.2,183.0 L279.7,184.0 L274.1,185.0 L268.3,186.0 L480.5,186.0 Z" fill="#fff" fill-opacity="0.5"/>
<path d="M52.7,23.0 L52.7,24.0 L52.8,25.0 L52.9,26.0 L52.9,27.0 L53.0,28.0 L53.1,29.0 L53.1,30.0 L53.2,31.0 L53.3,32.0 L53.4,33.0 L53.5,34.0 L53.5,35.0 L53.6,36.0 L53.7,37.0 L53.8,38.0 L53.9,39.0 L54.0,40.0 L54.1,41.0 L54.2,42.0 L54.3,43.0 L54.4,44.0 L54.5,45.0 L54.6,46.0 L54.8,47.0 L54.9,48.0 L55.0,49.0 L55.1,50.0 L55.3,51.0 L55.4,52.0 L55.5,53.0 L55.7,54.0 L55.8,55.0 L56.0,56.0 L56.1,57.0 L56.3,58.0 L56.5,59.0 L56.6,60.0 L56.8,61.0 L57.0,62.0 L57.2,63.0 L57.4,64.0 L57.5,65.0 L57.7,66.0 L58.0,67.0 L58.2,68.0 L58.4,69.0 L58.6,70.0 L58.8,71.0 L59.1,72.0 L59.3,73.0 L59.6,74.0 L59.8,75.0 L60.1,76.0 L60.4,77.0 L60.7,78.0 L60.9,79.0 L61.2,80.0 L61.5,81.0 L61.9,82.0 L62.2,83.0 L62.5,84.0 L62.9,85.0 L63.2,86.0 L63.6,87.0 L63.9,88.0 L64.3,89.0 L64.7,90.0 L65.1,91.0 L65.5,92.0 L66.0,93.0 L66.4,94.0 L66.9,95.0 L67.3,96.0 L67.8,97.0 L68.3,98.0 L68.8,99.0 L69.3,100.0 L69.9,101.0 L70.4,102.0 L71.0,103.0 L71.6,104.0 L72.2,105.0 L72.8,106.0 L73.4,107.0 L74.1,108.0 L74.7,109.0 L75.4,110.0 L76.1,111.0 L76.9,112.0 L77.6,113.0 L78.4,114.0 L79.2,115.0 L80.0,116.0 L80.8,117.0 L81.7,118.0 L82.6,119.0 L83.5,120.0 L84.4,121.0 L85.4,122.0 L86.4,123.0 L87.4,124.0 L88.5,125.0 L89.5,126.0 L90.6,127.0 L91.8,128.0 L93.0,129.0 L94.2,130.0 L95.4,131.0 L96.7,132.0 L98.0,133.0 L99.4,134.0 L100.8,135.0 L102.2,136.0 L103.7,137.0 L105.2,138.0 L106.7,139.0 L108.3,140.0 L110.0,141.0 L111.7,142.0 L113.4,143.0 L115.2,144.0 L117.0,145.0 L118.9,146.0 L120.9,147.0 L122.9,148.0 L124.9,149.0 L127.1,150.0 L129.2,151.0 L131.5,152.0 L133.8,153.0 L136.2,154.0 L138.6,155.0 L141.1,156.0 L143.7,157.0 L146.3,158.0 L149.1,159.0 L151.9,160.0 L154.7,161.0 L157.7,162.0 L160.8,163.0 L163.9,164.0 L167.1,165.0 L170.4,166.0 L173.9,167.0 L177.4,168.0 L181.0,169.0 L184.7,170.0 L188.5,171.0 L192.4,172.0 L196.5,173.0 L200.6,174.0 L204.9,175.0 L209.3,176.0 L213.8,177.0 L218.5,178.0 L223.3,179.0 L228.2,180.0 L233.2,181.0 L238.4,182.0 L243.8,183.0 L249.3,184.0 L254.9,185.0 L260.7,186.0" fill="none" stroke="#000" stroke-width="0.9"/>
<path d="M476.3,23.0 L476.3,24.0 L476.2,25.0 L476.1,26.0 L476.1,27.0 L476.0,28.0 L475.9,29.0 L475.9,30.0 L475.8,31.0 L475.7,32.0 L475.6,33.0 L475.5,34.0 L475.5,35.0 L475.4,36.0 L475.3,37.0 L475.2,38.0 L475.1,39.0 L475.0,40.0 L474.9,41.0 L474.8,42.0 L474.7,43.0 L474.6,44.0 L474.5,45.0 L474.4,46.0 L474.2,47.0 L474.1,48.0 L474.0,49.0 L473.9,50.0 L473.7,51.0 L473.6,52.0 L473.5,53.0 L473.3,54.0 L473.2,55.0 L473.0,56.0 L472.9,57.0 L472.7,58.0 L472.5,59.0 L472.4,60.0 L472.2,61.0 L472.0,62.0 L471.8,63.0 L471.6,64.0 L471.5,65.0 L471.3,66.0 L471.0,67.0 L470.8,68.0 L470.6,69.0 L470.4,70.0 L470.2,71.0 L469.9,72.0 L469.7,73.0 L469.4,74.0 L469.2,75.0 L468.9,76.0 L468.6,77.0 L468.3,78.0 L468.1,79.0 L467.8,80.0 L467.5,81.0 L467.1,82.0 L466.8,83.0 L466.5,84.0 L466.1,85.0 L465.8,86.0 L465.4,87.0 L465.1,88.0 L464.7,89.0 L464.3,90.0 L463.9,91.0 L463.5,92.0 L463.0,93.0 L462.6,94.0 L462.1,95.0 L461.7,96.0 L461.2,97.0 L460.7,98.0 L460.2,99.0 L459.7,100.0 L459.1,101.0 L458.6,102.0 L458.0,103.0 L457.4,104.0 L456.8,105.0 L456.2,106.0 L455.6,107.0 L454.9,108.0 L454.3,109.0 L453.6,110.0 L452.9,111.0 L452.1,112.0 L451.4,113.0 L450.6,114.0 L449.8,115.0 L449.0,116.0 L448.2,117.0 L447.3,118.0 L446.4,119.0 L445.5,120.0 L444.6,121.0 L443.6,122.0 L442.6,123.0 L441.6,124.0 L440.5,125.0 L439.5,126.0 L438.4,127.0 L437.2,128.0 L436.0,129.0 L434.8,130.0 L433.6,131.0 L432.3,132.0 L431.0,133.0 L429.6,134.0 L428.2,135.0 L426.8,136.0 L425.3,137.0 L423.8,138.0 L422.3,139.0 L420.7,140.0 L419.0,141.0 L417.3,142.0 L415.6,143.0 L413.8,144.0 L412.0,145.0 L410.1,146.0 L408.1,147.0 L406.1,148.0 L404.1,149.0 L401.9,150.0 L399.8,151.0 L397.5,152.0 L395.2,153.0 L392.8,154.0 L390.4,155.0 L387.9,156.0 L385.3,157.0 L382.7,158.0 L379.9,159.0 L377.1,160.0 L374.3,161.0 L371.3,162.0 L368.2,163.0 L365.1,164.0 L361.9,165.0 L358.6,166.0 L355.1,167.0 L351.6,168.0 L348.0,169.0 L344.3,170.0 L340.5,171.0 L336.6,172.0 L332.5,173.0 L328.4,174.0 L324.1,175.0 L319.7,176.0 L315.2,177.0 L310.5,178.0 L305.7,179.0 L300.8,180.0 L295.8,181.0 L290.6,182.0 L285.2,183.0 L279.7,184.0 L274.1,185.0 L268.3,186.0" fill="none" stroke="#000" stroke-width="0.9"/>
</g>
<path d="M78.8,186 v-4.3 M78.8,23 v4.3 M172.0,186 v-4.3 M172.0,23 v4.3 M265.2,186 v-4.3 M265.2,23 v4.3 M358.4,186 v-4.3 M358.4,23 v4.3 M451.6,186 v-4.3 M451.6,23 v4.3 M50.5,47.0 h4.3 M478.5,47.0 h-4.3 M50.5,71.7 h4.3 M478.5,71.7 h-4.3 M50.5,96.4 h4.3 M478.5,96.4 h-4.3 M50.5,121.1 h4.3 M478.5,121.1 h-4.3 M50.5,145.8 h4.3 M478.5,145.8 h-4.3 M50.5,170.5 h4.3 M478.5,170.5 h-4.3" stroke="#262626" stroke-width="1" fill="none"/>
<rect x="50.5" y="23" width="428.0" height="163" fill="none" stroke="#262626" stroke-width="1"/>
<text transform="translate(79.2,204.5) scale(1,1.05)" text-anchor="middle" class="tl">1970</text>
<text transform="translate(172.4,204.5) scale(1,1.05)" text-anchor="middle" class="tl">1980</text>
<text transform="translate(265.6,204.5) scale(1,1.05)" text-anchor="middle" class="tl">1990</text>
<text transform="translate(358.8,204.5) scale(1,1.05)" text-anchor="middle" class="tl">2000</text>
<text transform="translate(452.0,204.5) scale(1,1.05)" text-anchor="middle" class="tl">2010</text>
<text transform="translate(46.0,52.7) scale(1,1.05)" text-anchor="end" class="tl">4</text>
<text transform="translate(46.0,77.4) scale(1,1.05)" text-anchor="end" class="tl">8</text>
<text transform="translate(46.0,102.1) scale(1,1.05)" text-anchor="end" class="tl">16</text>
<text transform="translate(46.0,126.8) scale(1,1.05)" text-anchor="end" class="tl">32</text>
<text transform="translate(46.0,151.5) scale(1,1.05)" text-anchor="end" class="tl">64</text>
<text transform="translate(46.0,176.2) scale(1,1.05)" text-anchor="end" class="tl">128</text>
<text x="264.5" y="224.0" text-anchor="middle" class="lb">Year</text>
<text transform="translate(18.3,104.5) rotate(-90)" text-anchor="middle" class="lb">Period(Month)</text>
<clipPath id="c2"><rect x="50.5" y="250.8" width="428.0" height="163.0"/></clipPath>
<g clip-path="url(#c2)">
<g filter="url(#jet)">
<rect x="26.8" y="226.8" width="33.7" height="29.9" fill="#666666"/>
<rect x="60.2" y="226.8" width="9.7" height="29.9" fill="#222222"/>
<rect x="69.5" y="226.8" width="9.7" height="29.9" fill="#424242"/>
<rect x="78.8" y="226.8" width="9.7" height="29.9" fill="#303030"/>
<rect x="88.1" y="226.8" width="9.7" height="29.9" fill="#000000"/>
<rect x="97.4" y="226.8" width="9.7" height="29.9" fill="#a7a7a7"/>
<rect x="106.8" y="226.8" width="9.7" height="29.9" fill="#000000"/>
<rect x="116.1" y="226.8" width="9.7" height="29.9" fill="#424242"/>
<rect x="125.4" y="226.8" width="9.7" height="29.9" fill="#575757"/>
<rect x="134.7" y="226.8" width="9.7" height="29.9" fill="#000000"/>
<rect x="144.0" y="226.8" width="9.7" height="29.9" fill="#0c0c0c"/>
<rect x="153.4" y="226.8" width="9.7" height="29.9" fill="#1d1d1d"/>
<rect x="162.7" y="226.8" width="9.7" height="29.9" fill="#444444"/>
<rect x="172.0" y="226.8" width="9.7" height="29.9" fill="#3b3b3b"/>
<rect x="181.3" y="226.8" width="9.7" height="29.9" fill="#595959"/>
<rect x="190.6" y="226.8" width="9.7" height="29.9" fill="#adadad"/>
<rect x="200.0" y="226.8" width="9.7" height="29.9" fill="#4d4d4d"/>
<rect x="209.3" y="226.8" width="9.7" height="29.9" fill="#000000"/>
<rect x="218.6" y="226.8" width="19.0" height="29.9" fill="#666666"/>
<rect x="237.2" y="226.8" width="19.0" height="29.9" fill="#000000"/>
<rect x="255.9" y="226.8" width="9.7" height="29.9" fill="#b7b7b7"/>
<rect x="265.2" y="226.8" width="9.7" height="29.9" fill="#000000"/>
<rect x="274.5" y="226.8" width="9.7" height="29.9" fill="#cecece"/>
<rect x="283.8" y="226.8" width="9.7" height="29.9" fill="#bdbdbd"/>
<rect x="293.2" y="226.8" width="9.7" height="29.9" fill="#000000"/>
<rect x="302.5" y="226.8" width="9.7" height="29.9" fill="#232323"/>
<rect x="311.8" y="226.8" width="9.7" height="29.9" fill="#101010"/>
<rect x="321.1" y="226.8" width="19.0" height="29.9" fill="#000000"/>
<rect x="339.8" y="226.8" width="9.7" height="29.9" fill="#242424"/>
<rect x="349.1" y="226.8" width="19.0" height="29.9" fill="#000000"/>
<rect x="367.7" y="226.8" width="9.7" height="29.9" fill="#0f0f0f"/>
<rect x="377.0" y="226.8" width="9.7" height="29.9" fill="#1d1d1d"/>
<rect x="386.4" y="226.8" width="9.7" height="29.9" fill="#000000"/>
<rect x="395.7" y="226.8" width="9.7" height="29.9" fill="#b0b0b0"/>
<rect x="405.0" y="226.8" width="9.7" height="29.9" fill="#4b4b4b"/>
<rect x="414.3" y="226.8" width="37.7" height="29.9" fill="#000000"/>
<rect x="451.6" y="226.8" width="9.7" height="29.9" fill="#0f0f0f"/>
<rect x="460.9" y="226.8" width="9.7" height="29.9" fill="#1c1c1c"/>
<rect x="470.2" y="226.8" width="33.7" height="29.9" fill="#2f2f2f"/>
<rect x="26.8" y="256.3" width="33.7" height="6.6" fill="#505050"/>
<rect x="60.2" y="256.3" width="9.7" height="6.6" fill="#020202"/>
<rect x="69.5" y="256.3" width="9.7" height="6.6" fill="#525252"/>
<rect x="78.8" y="256.3" width="9.7" height="6.6" fill="#535353"/>
<rect x="88.1" y="256.3" width="9.7" height="6.6" fill="#000000"/>
<rect x="97.4" y="256.3" width="9.7" height="6.6" fill="#a4a4a4"/>
<rect x="106.8" y="256.3" width="9.7" height="6.6" fill="#000000"/>
<rect x="116.1" y="256.3" width="9.7" height="6.6" fill="#262626"/>
<rect x="125.4" y="256.3" width="9.7" height="6.6" fill="#696969"/>
<rect x="134.7" y="256.3" width="9.7" height="6.6" fill="#000000"/>
<rect x="144.0" y="256.3" width="9.7" height="6.6" fill="#040404"/>
<rect x="153.4" y="256.3" width="9.7" height="6.6" fill="#1c1c1c"/>
<rect x="162.7" y="256.3" width="9.7" height="6.6" fill="#303030"/>
<rect x="172.0" y="256.3" width="9.7" height="6.6" fill="#222222"/>
<rect x="181.3" y="256.3" width="9.7" height="6.6" fill="#5b5b5b"/>
<rect x="190.6" y="256.3" width="9.7" height="6.6" fill="#aeaeae"/>
<rect x="200.0" y="256.3" width="9.7" height="6.6" fill="#363636"/>
<rect x="209.3" y="256.3" width="9.7" height="6.6" fill="#000000"/>
<rect x="218.6" y="256.3" width="9.7" height="6.6" fill="#666666"/>
<rect x="227.9" y="256.3" width="9.7" height="6.6" fill="#8f8f8f"/>
<rect x="237.2" y="256.3" width="9.7" height="6.6" fill="#111111"/>
<rect x="246.6" y="256.3" width="9.7" height="6.6" fill="#070707"/>
<rect x="255.9" y="256.3" width="9.7" height="6.6" fill="#b7b7b7"/>
<rect x="265.2" y="256.3" width="9.7" height="6.6" fill="#2a2a2a"/>
<rect x="274.5" y="256.3" width="9.7" height="6.6" fill="#cecece"/>
<rect x="283.8" y="256.3" width="9.7" height="6.6" fill="#bcbcbc"/>
<rect x="293.2" y="256.3" width="9.7" height="6.6" fill="#000000"/>
<rect x="302.5" y="256.3" width="9.7" height="6.6" fill="#222222"/>
<rect x="311.8" y="256.3" width="9.7" height="6.6" fill="#101010"/>
<rect x="321.1" y="256.3" width="9.7" height="6.6" fill="#000000"/>
<rect x="330.4" y="256.3" width="9.7" height="6.6" fill="#0b0b0b"/>
<rect x="339.8" y="256.3" width="9.7" height="6.6" fill="#5f5f5f"/>
<rect x="349.1" y="256.3" width="19.0" height="6.6" fill="#000000"/>
<rect x="367.7" y="256.3" width="9.7" height="6.6" fill="#050505"/>
<rect x="377.0" y="256.3" width="9.7" height="6.6" fill="#2a2a2a"/>
<rect x="386.4" y="256.3" width="9.7" height="6.6" fill="#5e5e5e"/>
<rect x="395.7" y="256.3" width="9.7" height="6.6" fill="#adadad"/>
<rect x="405.0" y="256.3" width="9.7" height="6.6" fill="#616161"/>
<rect x="414.3" y="256.3" width="9.7" height="6.6" fill="#323232"/>
<rect x="423.6" y="256.3" width="28.4" height="6.6" fill="#000000"/>
<rect x="451.6" y="256.3" width="9.7" height="6.6" fill="#232323"/>
<rect x="460.9" y="256.3" width="9.7" height="6.6" fill="#171717"/>
<rect x="470.2" y="256.3" width="33.7" height="6.6" fill="#555555"/>
<rect x="26.8" y="262.5" width="33.7" height="6.6" fill="#636363"/>
<rect x="60.2" y="262.5" width="9.7" height="6.6" fill="#4e4e4e"/>
<rect x="69.5" y="262.5" width="9.7" height="6.6" fill="#636363"/>
<rect x="78.8" y="262.5" width="9.7" height="6.6" fill="#8c8c8c"/>
<rect x="88.1" y="262.5" width="9.7" height="6.6" fill="#474747"/>
<rect x="97.4" y="262.5" width="9.7" height="6.6" fill="#909090"/>
<rect x="106.8" y="262.5" width="9.7" height="6.6" fill="#1d1d1d"/>
<rect x="116.1" y="262.5" width="9.7" height="6.6" fill="#545454"/>
<rect x="125.4" y="262.5" width="9.7" height="6.6" fill="#676767"/>
<rect x="134.7" y="262.5" width="9.7" height="6.6" fill="#565656"/>
<rect x="144.0" y="262.5" width="9.7" height="6.6" fill="#171717"/>
<rect x="153.4" y="262.5" width="9.7" height="6.6" fill="#454545"/>
<rect x="162.7" y="262.5" width="9.7" height="6.6" fill="#151515"/>
<rect x="172.0" y="262.5" width="9.7" height="6.6" fill="#060606"/>
<rect x="181.3" y="262.5" width="9.7" height="6.6" fill="#8a8a8a"/>
<rect x="190.6" y="262.5" width="9.7" height="6.6" fill="#9f9f9f"/>
<rect x="200.0" y="262.5" width="9.7" height="6.6" fill="#0c0c0c"/>
<rect x="209.3" y="262.5" width="9.7" height="6.6" fill="#121212"/>
<rect x="218.6" y="262.5" width="9.7" height="6.6" fill="#181818"/>
<rect x="227.9" y="262.5" width="9.7" height="6.6" fill="#8e8e8e"/>
<rect x="237.2" y="262.5" width="19.0" height="6.6" fill="#000000"/>
<rect x="255.9" y="262.5" width="9.7" height="6.6" fill="#b6b6b6"/>
<rect x="265.2" y="262.5" width="9.7" height="6.6" fill="#000000"/>
<rect x="274.5" y="262.5" width="9.7" height="6.6" fill="#cecece"/>
<rect x="283.8" y="262.5" width="9.7" height="6.6" fill="#bbbbbb"/>
<rect x="293.2" y="262.5" width="9.7" height="6.6" fill="#000000"/>
<rect x="302.5" y="262.5" width="9.7" height="6.6" fill="#212121"/>
<rect x="311.8" y="262.5" width="9.7" height="6.6" fill="#0f0f0f"/>
<rect x="321.1" y="262.5" width="19.0" height="6.6" fill="#000000"/>
<rect x="339.8" y="262.5" width="9.7" height="6.6" fill="#595959"/>
<rect x="349.1" y="262.5" width="9.7" height="6.6" fill="#121212"/>
<rect x="358.4" y="262.5" width="9.7" height="6.6" fill="#000000"/>
<rect x="367.7" y="262.5" width="9.7" height="6.6" fill="#575757"/>
<rect x="377.0" y="262.5" width="9.7" height="6.6" fill="#505050"/>
<rect x="386.4" y="262.5" width="9.7" height="6.6" fill="#707070"/>
<rect x="395.7" y="262.5" width="9.7" height="6.6" fill="#acacac"/>
<rect x="405.0" y="262.5" width="9.7" height="6.6" fill="#626262"/>
<rect x="414.3" y="262.5" width="9.7" height="6.6" fill="#1c1c1c"/>
<rect x="423.6" y="262.5" width="28.4" height="6.6" fill="#000000"/>
<rect x="451.6" y="262.5" width="9.7" height="6.6" fill="#0b0b0b"/>
<rect x="460.9" y="262.5" width="9.7" height="6.6" fill="#2c2c2c"/>
<rect x="470.2" y="262.5" width="33.7" height="6.6" fill="#656565"/>
<rect x="26.8" y="268.6" width="33.7" height="6.6" fill="#747474"/>
<rect x="60.2" y="268.6" width="9.7" height="6.6" fill="#2c2c2c"/>
<rect x="69.5" y="268.6" width="9.7" height="6.6" fill="#606060"/>
<rect x="78.8" y="268.6" width="9.7" height="6.6" fill="#757575"/>
<rect x="88.1" y="268.6" width="9.7" height="6.6" fill="#131313"/>
<rect x="97.4" y="268.6" width="9.7" height="6.6" fill="#696969"/>
<rect x="106.8" y="268.6" width="9.7" height="6.6" fill="#000000"/>
<rect x="116.1" y="268.6" width="9.7" height="6.6" fill="#545454"/>
<rect x="125.4" y="268.6" width="9.7" height="6.6" fill="#666666"/>
<rect x="134.7" y="268.6" width="9.7" height="6.6" fill="#080808"/>
<rect x="144.0" y="268.6" width="9.7" height="6.6" fill="#262626"/>
<rect x="153.4" y="268.6" width="9.7" height="6.6" fill="#555555"/>
<rect x="162.7" y="268.6" width="9.7" height="6.6" fill="#222222"/>
<rect x="172.0" y="268.6" width="9.7" height="6.6" fill="#151515"/>
<rect x="181.3" y="268.6" width="9.7" height="6.6" fill="#a0a0a0"/>
<rect x="190.6" y="268.6" width="19.0" height="6.6" fill="#000000"/>
<rect x="209.3" y="268.6" width="9.7" height="6.6" fill="#595959"/>
<rect x="218.6" y="268.6" width="9.7" height="6.6" fill="#666666"/>
<rect x="227.9" y="268.6" width="9.7" height="6.6" fill="#7e7e7e"/>
<rect x="237.2" y="268.6" width="9.7" height="6.6" fill="#131313"/>
<rect x="246.6" y="268.6" width="9.7" height="6.6" fill="#0b0b0b"/>
<rect x="255.9" y="268.6" width="9.7" height="6.6" fill="#a3a3a3"/>
<rect x="265.2" y="268.6" width="9.7" height="6.6" fill="#000000"/>
<rect x="274.5" y="268.6" width="9.7" height="6.6" fill="#cfcfcf"/>
<rect x="283.8" y="268.6" width="9.7" height="6.6" fill="#bdbdbd"/>
<rect x="293.2" y="268.6" width="9.7" height="6.6" fill="#1d1d1d"/>
<rect x="302.5" y="268.6" width="9.7" height="6.6" fill="#212121"/>
<rect x="311.8" y="268.6" width="19.0" height="6.6" fill="#0d0d0d"/>
<rect x="330.4" y="268.6" width="9.7" height="6.6" fill="#181818"/>
<rect x="339.8" y="268.6" width="9.7" height="6.6" fill="#696969"/>
<rect x="349.1" y="268.6" width="9.7" height="6.6" fill="#535353"/>
<rect x="358.4" y="268.6" width="9.7" height="6.6" fill="#515151"/>
<rect x="367.7" y="268.6" width="9.7" height="6.6" fill="#4e4e4e"/>
<rect x="377.0" y="268.6" width="9.7" height="6.6" fill="#414141"/>
<rect x="386.4" y="268.6" width="9.7" height="6.6" fill="#707070"/>
<rect x="395.7" y="268.6" width="9.7" height="6.6" fill="#999999"/>
<rect x="405.0" y="268.6" width="9.7" height="6.6" fill="#181818"/>
<rect x="414.3" y="268.6" width="9.7" height="6.6" fill="#000000"/>
<rect x="423.6" y="268.6" width="9.7" height="6.6" fill="#101010"/>
<rect x="433.0" y="268.6" width="28.4" height="6.6" fill="#000000"/>
<rect x="460.9" y="268.6" width="9.7" height="6.6" fill="#565656"/>
<rect x="470.2" y="268.6" width="33.7" height="6.6" fill="#626262"/>
<rect x="26.8" y="274.8" width="33.7" height="6.6" fill="#767676"/>
<rect x="60.2" y="274.8" width="9.7" height="6.6" fill="#484848"/>
<rect x="69.5" y="274.8" width="19.0" height="6.6" fill="#606060"/>
<rect x="88.1" y="274.8" width="9.7" height="6.6" fill="#4d4d4d"/>
<rect x="97.4" y="274.8" width="9.7" height="6.6" fill="#0a0a0a"/>
<rect x="106.8" y="274.8" width="9.7" height="6.6" fill="#222222"/>
<rect x="116.1" y="274.8" width="9.7" height="6.6" fill="#060606"/>
<rect x="125.4" y="274.8" width="9.7" height="6.6" fill="#515151"/>
<rect x="134.7" y="274.8" width="9.7" height="6.6" fill="#686868"/>
<rect x="144.0" y="274.8" width="9.7" height="6.6" fill="#050505"/>
<rect x="153.4" y="274.8" width="9.7" height="6.6" fill="#656565"/>
<rect x="162.7" y="274.8" width="9.7" height="6.6" fill="#777777"/>
<rect x="172.0" y="274.8" width="9.7" height="6.6" fill="#595959"/>
<rect x="181.3" y="274.8" width="9.7" height="6.6" fill="#9f9f9f"/>
<rect x="190.6" y="274.8" width="19.0" height="6.6" fill="#000000"/>
<rect x="209.3" y="274.8" width="9.7" height="6.6" fill="#666666"/>
<rect x="218.6" y="274.8" width="9.7" height="6.6" fill="#000000"/>
<rect x="227.9" y="274.8" width="9.7" height="6.6" fill="#060606"/>
<rect x="237.2" y="274.8" width="9.7" height="6.6" fill="#262626"/>
<rect x="246.6" y="274.8" width="9.7" height="6.6" fill="#000000"/>
<rect x="255.9" y="274.8" width="9.7" height="6.6" fill="#424242"/>
<rect x="265.2" y="274.8" width="9.7" height="6.6" fill="#5f5f5f"/>
<rect x="274.5" y="274.8" width="9.7" height="6.6" fill="#bababa"/>
<rect x="283.8" y="274.8" width="9.7" height="6.6" fill="#818181"/>
<rect x="293.2" y="274.8" width="19.0" height="6.6" fill="#000000"/>
<rect x="311.8" y="274.8" width="9.7" height="6.6" fill="#1b1b1b"/>
<rect x="321.1" y="274.8" width="9.7" height="6.6" fill="#020202"/>
<rect x="330.4" y="274.8" width="9.7" height="6.6" fill="#2b2b2b"/>
<rect x="339.8" y="274.8" width="9.7" height="6.6" fill="#656565"/>
<rect x="349.1" y="274.8" width="9.7" height="6.6" fill="#636363"/>
<rect x="358.4" y="274.8" width="9.7" height="6.6" fill="#0b0b0b"/>
<rect x="367.7" y="274.8" width="9.7" height="6.6" fill="#c3c3c3"/>
<rect x="377.0" y="274.8" width="9.7" height="6.6" fill="#4d4d4d"/>
<rect x="386.4" y="274.8" width="9.7" height="6.6" fill="#585858"/>
<rect x="395.7" y="274.8" width="9.7" height="6.6" fill="#767676"/>
<rect x="405.0" y="274.8" width="9.7" height="6.6" fill="#676767"/>
<rect x="414.3" y="274.8" width="9.7" height="6.6" fill="#2d2d2d"/>
<rect x="423.6" y="274.8" width="9.7" height="6.6" fill="#333333"/>
<rect x="433.0" y="274.8" width="28.4" height="6.6" fill="#000000"/>
<rect x="460.9" y="274.8" width="9.7" height="6.6" fill="#676767"/>
<rect x="470.2" y="274.8" width="33.7" height="6.6" fill="#5e5e5e"/>
<rect x="26.8" y="281.0" width="33.7" height="6.6" fill="#636363"/>
<rect x="60.2" y="281.0" width="9.7" height="6.6" fill="#000000"/>
<rect x="69.5" y="281.0" width="9.7" height="6.6" fill="#888888"/>
<rect x="78.8" y="281.0" width="9.7" height="6.6" fill="#999999"/>
<rect x="88.1" y="281.0" width="9.7" height="6.6" fill="#0c0c0c"/>
<rect x="97.4" y="281.0" width="9.7" height="6.6" fill="#616161"/>
<rect x="106.8" y="281.0" width="9.7" height="6.6" fill="#757575"/>
<rect x="116.1" y="281.0" width="9.7" height="6.6" fill="#626262"/>
<rect x="125.4" y="281.0" width="9.7" height="6.6" fill="#313131"/>
<rect x="134.7" y="281.0" width="9.7" height="6.6" fill="#656565"/>
<rect x="144.0" y="281.0" width="9.7" height="6.6" fill="#313131"/>
<rect x="153.4" y="281.0" width="9.7" height="6.6" fill="#606060"/>
<rect x="162.7" y="281.0" width="9.7" height="6.6" fill="#858585"/>
<rect x="172.0" y="281.0" width="9.7" height="6.6" fill="#313131"/>
<rect x="181.3" y="281.0" width="9.7" height="6.6" fill="#979797"/>
<rect x="190.6" y="281.0" width="9.7" height="6.6" fill="#6d6d6d"/>
<rect x="200.0" y="281.0" width="9.7" height="6.6" fill="#868686"/>
<rect x="209.3" y="281.0" width="9.7" height="6.6" fill="#737373"/>
<rect x="218.6" y="281.0" width="9.7" height="6.6" fill="#606060"/>
<rect x="227.9" y="281.0" width="9.7" height="6.6" fill="#646464"/>
<rect x="237.2" y="281.0" width="9.7" height="6.6" fill="#4e4e4e"/>
<rect x="246.6" y="281.0" width="9.7" height="6.6" fill="#5b5b5b"/>
<rect x="255.9" y="281.0" width="9.7" height="6.6" fill="#bebebe"/>
<rect x="265.2" y="281.0" width="9.7" height="6.6" fill="#bababa"/>
<rect x="274.5" y="281.0" width="9.7" height="6.6" fill="#616161"/>
<rect x="283.8" y="281.0" width="9.7" height="6.6" fill="#848484"/>
<rect x="293.2" y="281.0" width="9.7" height="6.6" fill="#5e5e5e"/>
<rect x="302.5" y="281.0" width="9.7" height="6.6" fill="#656565"/>
<rect x="311.8" y="281.0" width="9.7" height="6.6" fill="#535353"/>
<rect x="321.1" y="281.0" width="9.7" height="6.6" fill="#272727"/>
<rect x="330.4" y="281.0" width="9.7" height="6.6" fill="#0a0a0a"/>
<rect x="339.8" y="281.0" width="9.7" height="6.6" fill="#777777"/>
<rect x="349.1" y="281.0" width="9.7" height="6.6" fill="#767676"/>
<rect x="358.4" y="281.0" width="9.7" height="6.6" fill="#000000"/>
<rect x="367.7" y="281.0" width="9.7" height="6.6" fill="#d1d1d1"/>
<rect x="377.0" y="281.0" width="9.7" height="6.6" fill="#8e8e8e"/>
<rect x="386.4" y="281.0" width="9.7" height="6.6" fill="#828282"/>
<rect x="395.7" y="281.0" width="9.7" height="6.6" fill="#111111"/>
<rect x="405.0" y="281.0" width="9.7" height="6.6" fill="#010101"/>
<rect x="414.3" y="281.0" width="9.7" height="6.6" fill="#696969"/>
<rect x="423.6" y="281.0" width="9.7" height="6.6" fill="#555555"/>
<rect x="433.0" y="281.0" width="9.7" height="6.6" fill="#313131"/>
<rect x="442.3" y="281.0" width="9.7" height="6.6" fill="#020202"/>
<rect x="451.6" y="281.0" width="9.7" height="6.6" fill="#2a2a2a"/>
<rect x="460.9" y="281.0" width="9.7" height="6.6" fill="#8d8d8d"/>
<rect x="470.2" y="281.0" width="33.7" height="6.6" fill="#606060"/>
<rect x="26.8" y="287.2" width="33.7" height="6.6" fill="#656565"/>
<rect x="60.2" y="287.2" width="9.7" height="6.6" fill="#000000"/>
<rect x="69.5" y="287.2" width="9.7" height="6.6" fill="#888888"/>
<rect x="78.8" y="287.2" width="9.7" height="6.6" fill="#999999"/>
<rect x="88.1" y="287.2" width="9.7" height="6.6" fill="#6d6d6d"/>
<rect x="97.4" y="287.2" width="9.7" height="6.6" fill="#969696"/>
<rect x="106.8" y="287.2" width="9.7" height="6.6" fill="#aaaaaa"/>
<rect x="116.1" y="287.2" width="9.7" height="6.6" fill="#737373"/>
<rect x="125.4" y="287.2" width="9.7" height="6.6" fill="#636363"/>
<rect x="134.7" y="287.2" width="9.7" height="6.6" fill="#646464"/>
<rect x="144.0" y="287.2" width="9.7" height="6.6" fill="#474747"/>
<rect x="153.4" y="287.2" width="9.7" height="6.6" fill="#737373"/>
<rect x="162.7" y="287.2" width="9.7" height="6.6" fill="#858585"/>
<rect x="172.0" y="287.2" width="9.7" height="6.6" fill="#838383"/>
<rect x="181.3" y="287.2" width="9.7" height="6.6" fill="#a9a9a9"/>
<rect x="190.6" y="287.2" width="9.7" height="6.6" fill="#a6a6a6"/>
<rect x="200.0" y="287.2" width="9.7" height="6.6" fill="#a8a8a8"/>
<rect x="209.3" y="287.2" width="9.7" height="6.6" fill="#989898"/>
<rect x="218.6" y="287.2" width="9.7" height="6.6" fill="#888888"/>
<rect x="227.9" y="287.2" width="9.7" height="6.6" fill="#747474"/>
<rect x="237.2" y="287.2" width="9.7" height="6.6" fill="#737373"/>
<rect x="246.6" y="287.2" width="9.7" height="6.6" fill="#818181"/>
<rect x="255.9" y="287.2" width="9.7" height="6.6" fill="#bababa"/>
<rect x="265.2" y="287.2" width="9.7" height="6.6" fill="#919191"/>
<rect x="274.5" y="287.2" width="9.7" height="6.6" fill="#494949"/>
<rect x="283.8" y="287.2" width="9.7" height="6.6" fill="#838383"/>
<rect x="293.2" y="287.2" width="9.7" height="6.6" fill="#696969"/>
<rect x="302.5" y="287.2" width="9.7" height="6.6" fill="#9a9a9a"/>
<rect x="311.8" y="287.2" width="9.7" height="6.6" fill="#616161"/>
<rect x="321.1" y="287.2" width="9.7" height="6.6" fill="#505050"/>
<rect x="330.4" y="287.2" width="9.7" height="6.6" fill="#7b7b7b"/>
<rect x="339.8" y="287.2" width="9.7" height="6.6" fill="#000000"/>
<rect x="349.1" y="287.2" width="9.7" height="6.6" fill="#888888"/>
<rect x="358.4" y="287.2" width="9.7" height="6.6" fill="#939393"/>
<rect x="367.7" y="287.2" width="9.7" height="6.6" fill="#a5a5a5"/>
<rect x="377.0" y="287.2" width="9.7" height="6.6" fill="#a1a1a1"/>
<rect x="386.4" y="287.2" width="9.7" height="6.6" fill="#a7a7a7"/>
<rect x="395.7" y="287.2" width="9.7" height="6.6" fill="#878787"/>
<rect x="405.0" y="287.2" width="9.7" height="6.6" fill="#000000"/>
<rect x="414.3" y="287.2" width="9.7" height="6.6" fill="#676767"/>
<rect x="423.6" y="287.2" width="9.7" height="6.6" fill="#1d1d1d"/>
<rect x="433.0" y="287.2" width="9.7" height="6.6" fill="#565656"/>
<rect x="442.3" y="287.2" width="9.7" height="6.6" fill="#434343"/>
<rect x="451.6" y="287.2" width="9.7" height="6.6" fill="#404040"/>
<rect x="460.9" y="287.2" width="9.7" height="6.6" fill="#656565"/>
<rect x="470.2" y="287.2" width="33.7" height="6.6" fill="#4b4b4b"/>
<rect x="26.8" y="293.3" width="33.7" height="6.6" fill="#656565"/>
<rect x="60.2" y="293.3" width="9.7" height="6.6" fill="#383838"/>
<rect x="69.5" y="293.3" width="9.7" height="6.6" fill="#646464"/>
<rect x="78.8" y="293.3" width="9.7" height="6.6" fill="#5c5c5c"/>
<rect x="88.1" y="293.3" width="9.7" height="6.6" fill="#4e4e4e"/>
<rect x="97.4" y="293.3" width="9.7" height="6.6" fill="#a6a6a6"/>
<rect x="106.8" y="293.3" width="9.7" height="6.6" fill="#aaaaaa"/>
<rect x="116.1" y="293.3" width="9.7" height="6.6" fill="#080808"/>
<rect x="125.4" y="293.3" width="9.7" height="6.6" fill="#151515"/>
<rect x="134.7" y="293.3" width="9.7" height="6.6" fill="#5e5e5e"/>
<rect x="144.0" y="293.3" width="9.7" height="6.6" fill="#595959"/>
<rect x="153.4" y="293.3" width="9.7" height="6.6" fill="#585858"/>
<rect x="162.7" y="293.3" width="9.7" height="6.6" fill="#565656"/>
<rect x="172.0" y="293.3" width="9.7" height="6.6" fill="#707070"/>
<rect x="181.3" y="293.3" width="9.7" height="6.6" fill="#141414"/>
<rect x="190.6" y="293.3" width="9.7" height="6.6" fill="#a6a6a6"/>
<rect x="200.0" y="293.3" width="9.7" height="6.6" fill="#939393"/>
<rect x="209.3" y="293.3" width="9.7" height="6.6" fill="#070707"/>
<rect x="218.6" y="293.3" width="9.7" height="6.6" fill="#0e0e0e"/>
<rect x="227.9" y="293.3" width="9.7" height="6.6" fill="#606060"/>
<rect x="237.2" y="293.3" width="9.7" height="6.6" fill="#585858"/>
<rect x="246.6" y="293.3" width="9.7" height="6.6" fill="#525252"/>
<rect x="255.9" y="293.3" width="9.7" height="6.6" fill="#808080"/>
<rect x="265.2" y="293.3" width="9.7" height="6.6" fill="#7e7e7e"/>
<rect x="274.5" y="293.3" width="9.7" height="6.6" fill="#6b6b6b"/>
<rect x="283.8" y="293.3" width="9.7" height="6.6" fill="#838383"/>
<rect x="293.2" y="293.3" width="9.7" height="6.6" fill="#676767"/>
<rect x="302.5" y="293.3" width="9.7" height="6.6" fill="#969696"/>
<rect x="311.8" y="293.3" width="9.7" height="6.6" fill="#3d3d3d"/>
<rect x="321.1" y="293.3" width="9.7" height="6.6" fill="#2c2c2c"/>
<rect x="330.4" y="293.3" width="9.7" height="6.6" fill="#787878"/>
<rect x="339.8" y="293.3" width="9.7" height="6.6" fill="#0d0d0d"/>
<rect x="349.1" y="293.3" width="9.7" height="6.6" fill="#858585"/>
<rect x="358.4" y="293.3" width="9.7" height="6.6" fill="#7b7b7b"/>
<rect x="367.7" y="293.3" width="19.0" height="6.6" fill="#909090"/>
<rect x="386.4" y="293.3" width="9.7" height="6.6" fill="#929292"/>
<rect x="395.7" y="293.3" width="9.7" height="6.6" fill="#838383"/>
<rect x="405.0" y="293.3" width="9.7" height="6.6" fill="#737373"/>
<rect x="414.3" y="293.3" width="9.7" height="6.6" fill="#515151"/>
<rect x="423.6" y="293.3" width="9.7" height="6.6" fill="#383838"/>
<rect x="433.0" y="293.3" width="9.7" height="6.6" fill="#545454"/>
<rect x="442.3" y="293.3" width="9.7" height="6.6" fill="#0a0a0a"/>
<rect x="451.6" y="293.3" width="9.7" height="6.6" fill="#0c0c0c"/>
<rect x="460.9" y="293.3" width="9.7" height="6.6" fill="#535353"/>
<rect x="470.2" y="293.3" width="33.7" height="6.6" fill="#333333"/>
<rect x="26.8" y="299.5" width="33.7" height="6.6" fill="#646464"/>
<rect x="60.2" y="299.5" width="19.0" height="6.6" fill="#060606"/>
<rect x="78.8" y="299.5" width="9.7" height="6.6" fill="#646464"/>
<rect x="88.1" y="299.5" width="9.7" height="6.6" fill="#717171"/>
<rect x="97.4" y="299.5" width="9.7" height="6.6" fill="#808080"/>
<rect x="106.8" y="299.5" width="9.7" height="6.6" fill="#989898"/>
<rect x="116.1" y="299.5" width="9.7" height="6.6" fill="#0c0c0c"/>
<rect x="125.4" y="299.5" width="9.7" height="6.6" fill="#8b8b8b"/>
<rect x="134.7" y="299.5" width="9.7" height="6.6" fill="#717171"/>
<rect x="144.0" y="299.5" width="19.0" height="6.6" fill="#838383"/>
<rect x="162.7" y="299.5" width="9.7" height="6.6" fill="#565656"/>
<rect x="172.0" y="299.5" width="9.7" height="6.6" fill="#5b5b5b"/>
<rect x="181.3" y="299.5" width="9.7" height="6.6" fill="#838383"/>
<rect x="190.6" y="299.5" width="9.7" height="6.6" fill="#818181"/>
<rect x="200.0" y="299.5" width="9.7" height="6.6" fill="#828282"/>
<rect x="209.3" y="299.5" width="9.7" height="6.6" fill="#757575"/>
<rect x="218.6" y="299.5" width="9.7" height="6.6" fill="#131313"/>
<rect x="227.9" y="299.5" width="9.7" height="6.6" fill="#8b8b8b"/>
<rect x="237.2" y="299.5" width="9.7" height="6.6" fill="#5d5d5d"/>
<rect x="246.6" y="299.5" width="9.7" height="6.6" fill="#5c5c5c"/>
<rect x="255.9" y="299.5" width="9.7" height="6.6" fill="#6c6c6c"/>
<rect x="265.2" y="299.5" width="9.7" height="6.6" fill="#7e7e7e"/>
<rect x="274.5" y="299.5" width="9.7" height="6.6" fill="#949494"/>
<rect x="283.8" y="299.5" width="9.7" height="6.6" fill="#161616"/>
<rect x="293.2" y="299.5" width="9.7" height="6.6" fill="#7d7d7d"/>
<rect x="302.5" y="299.5" width="9.7" height="6.6" fill="#a9a9a9"/>
<rect x="311.8" y="299.5" width="9.7" height="6.6" fill="#545454"/>
<rect x="321.1" y="299.5" width="9.7" height="6.6" fill="#606060"/>
<rect x="330.4" y="299.5" width="9.7" height="6.6" fill="#626262"/>
<rect x="339.8" y="299.5" width="9.7" height="6.6" fill="#5b5b5b"/>
<rect x="349.1" y="299.5" width="9.7" height="6.6" fill="#838383"/>
<rect x="358.4" y="299.5" width="19.0" height="6.6" fill="#7d7d7d"/>
<rect x="377.0" y="299.5" width="9.7" height="6.6" fill="#7e7e7e"/>
<rect x="386.4" y="299.5" width="9.7" height="6.6" fill="#646464"/>
<rect x="395.7" y="299.5" width="9.7" height="6.6" fill="#696969"/>
<rect x="405.0" y="299.5" width="9.7" height="6.6" fill="#737373"/>
<rect x="414.3" y="299.5" width="9.7" height="6.6" fill="#666666"/>
<rect x="423.6" y="299.5" width="9.7" height="6.6" fill="#0d0d0d"/>
<rect x="433.0" y="299.5" width="9.7" height="6.6" fill="#6c6c6c"/>
<rect x="442.3" y="299.5" width="9.7" height="6.6" fill="#6b6b6b"/>
<rect x="451.6" y="299.5" width="9.7" height="6.6" fill="#0c0c0c"/>
<rect x="460.9" y="299.5" width="9.7" height="6.6" fill="#1c1c1c"/>
<rect x="470.2" y="299.5" width="33.7" height="6.6" fill="#757575"/>
<rect x="26.8" y="305.7" width="33.7" height="6.6" fill="#636363"/>
<rect x="60.2" y="305.7" width="9.7" height="6.6" fill="#1e1e1e"/>
<rect x="69.5" y="305.7" width="9.7" height="6.6" fill="#383838"/>
<rect x="78.8" y="305.7" width="9.7" height="6.6" fill="#656565"/>
<rect x="88.1" y="305.7" width="9.7" height="6.6" fill="#000000"/>
<rect x="97.4" y="305.7" width="9.7" height="6.6" fill="#989898"/>
<rect x="106.8" y="305.7" width="9.7" height="6.6" fill="#999999"/>
<rect x="116.1" y="305.7" width="9.7" height="6.6" fill="#060606"/>
<rect x="125.4" y="305.7" width="9.7" height="6.6" fill="#878787"/>
<rect x="134.7" y="305.7" width="9.7" height="6.6" fill="#666666"/>
<rect x="144.0" y="305.7" width="9.7" height="6.6" fill="#646464"/>
<rect x="153.4" y="305.7" width="9.7" height="6.6" fill="#939393"/>
<rect x="162.7" y="305.7" width="9.7" height="6.6" fill="#818181"/>
<rect x="172.0" y="305.7" width="9.7" height="6.6" fill="#525252"/>
<rect x="181.3" y="305.7" width="9.7" height="6.6" fill="#6e6e6e"/>
<rect x="190.6" y="305.7" width="9.7" height="6.6" fill="#858585"/>
<rect x="200.0" y="305.7" width="9.7" height="6.6" fill="#747474"/>
<rect x="209.3" y="305.7" width="9.7" height="6.6" fill="#777777"/>
<rect x="218.6" y="305.7" width="9.7" height="6.6" fill="#454545"/>
<rect x="227.9" y="305.7" width="9.7" height="6.6" fill="#888888"/>
<rect x="237.2" y="305.7" width="9.7" height="6.6" fill="#222222"/>
<rect x="246.6" y="305.7" width="9.7" height="6.6" fill="#545454"/>
<rect x="255.9" y="305.7" width="9.7" height="6.6" fill="#7c7c7c"/>
<rect x="265.2" y="305.7" width="9.7" height="6.6" fill="#8a8a8a"/>
<rect x="274.5" y="305.7" width="9.7" height="6.6" fill="#8c8c8c"/>
<rect x="283.8" y="305.7" width="19.0" height="6.6" fill="#8d8d8d"/>
<rect x="302.5" y="305.7" width="9.7" height="6.6" fill="#a5a5a5"/>
<rect x="311.8" y="305.7" width="9.7" height="6.6" fill="#6e6e6e"/>
<rect x="321.1" y="305.7" width="9.7" height="6.6" fill="#636363"/>
<rect x="330.4" y="305.7" width="9.7" height="6.6" fill="#646464"/>
<rect x="339.8" y="305.7" width="9.7" height="6.6" fill="#414141"/>
<rect x="349.1" y="305.7" width="9.7" height="6.6" fill="#969696"/>
<rect x="358.4" y="305.7" width="9.7" height="6.6" fill="#939393"/>
<rect x="367.7" y="305.7" width="9.7" height="6.6" fill="#646464"/>
<rect x="377.0" y="305.7" width="19.0" height="6.6" fill="#808080"/>
<rect x="395.7" y="305.7" width="9.7" height="6.6" fill="#828282"/>
<rect x="405.0" y="305.7" width="9.7" height="6.6" fill="#747474"/>
<rect x="414.3" y="305.7" width="9.7" height="6.6" fill="#050505"/>
<rect x="423.6" y="305.7" width="9.7" height="6.6" fill="#000000"/>
<rect x="433.0" y="305.7" width="9.7" height="6.6" fill="#0a0a0a"/>
<rect x="442.3" y="305.7" width="9.7" height="6.6" fill="#030303"/>
<rect x="451.6" y="305.7" width="9.7" height="6.6" fill="#505050"/>
<rect x="460.9" y="305.7" width="9.7" height="6.6" fill="#757575"/>
<rect x="470.2" y="305.7" width="33.7" height="6.6" fill="#858585"/>
<rect x="26.8" y="311.9" width="43.0" height="6.6" fill="#666666"/>
<rect x="69.5" y="311.9" width="9.7" height="6.6" fill="#646464"/>
<rect x="78.8" y="311.9" width="9.7" height="6.6" fill="#787878"/>
<rect x="88.1" y="311.9" width="9.7" height="6.6" fill="#090909"/>
<rect x="97.4" y="311.9" width="9.7" height="6.6" fill="#838383"/>
<rect x="106.8" y="311.9" width="9.7" height="6.6" fill="#969696"/>
<rect x="116.1" y="311.9" width="9.7" height="6.6" fill="#000000"/>
<rect x="125.4" y="311.9" width="9.7" height="6.6" fill="#989898"/>
<rect x="134.7" y="311.9" width="9.7" height="6.6" fill="#7e7e7e"/>
<rect x="144.0" y="311.9" width="9.7" height="6.6" fill="#939393"/>
<rect x="153.4" y="311.9" width="9.7" height="6.6" fill="#949494"/>
<rect x="162.7" y="311.9" width="9.7" height="6.6" fill="#979797"/>
<rect x="172.0" y="311.9" width="9.7" height="6.6" fill="#707070"/>
<rect x="181.3" y="311.9" width="9.7" height="6.6" fill="#858585"/>
<rect x="190.6" y="311.9" width="9.7" height="6.6" fill="#616161"/>
<rect x="200.0" y="311.9" width="9.7" height="6.6" fill="#000000"/>
<rect x="209.3" y="311.9" width="9.7" height="6.6" fill="#030303"/>
<rect x="218.6" y="311.9" width="9.7" height="6.6" fill="#757575"/>
<rect x="227.9" y="311.9" width="9.7" height="6.6" fill="#717171"/>
<rect x="237.2" y="311.9" width="9.7" height="6.6" fill="#6d6d6d"/>
<rect x="246.6" y="311.9" width="9.7" height="6.6" fill="#7b7b7b"/>
<rect x="255.9" y="311.9" width="9.7" height="6.6" fill="#b4b4b4"/>
<rect x="265.2" y="311.9" width="9.7" height="6.6" fill="#c3c3c3"/>
<rect x="274.5" y="311.9" width="9.7" height="6.6" fill="#c2c2c2"/>
<rect x="283.8" y="311.9" width="9.7" height="6.6" fill="#c3c3c3"/>
<rect x="293.2" y="311.9" width="9.7" height="6.6" fill="#b1b1b1"/>
<rect x="302.5" y="311.9" width="9.7" height="6.6" fill="#a3a3a3"/>
<rect x="311.8" y="311.9" width="9.7" height="6.6" fill="#717171"/>
<rect x="321.1" y="311.9" width="9.7" height="6.6" fill="#020202"/>
<rect x="330.4" y="311.9" width="9.7" height="6.6" fill="#060606"/>
<rect x="339.8" y="311.9" width="9.7" height="6.6" fill="#606060"/>
<rect x="349.1" y="311.9" width="9.7" height="6.6" fill="#969696"/>
<rect x="358.4" y="311.9" width="9.7" height="6.6" fill="#808080"/>
<rect x="367.7" y="311.9" width="19.0" height="6.6" fill="#818181"/>
<rect x="386.4" y="311.9" width="19.0" height="6.6" fill="#808080"/>
<rect x="405.0" y="311.9" width="9.7" height="6.6" fill="#727272"/>
<rect x="414.3" y="311.9" width="9.7" height="6.6" fill="#1a1a1a"/>
<rect x="423.6" y="311.9" width="9.7" height="6.6" fill="#555555"/>
<rect x="433.0" y="311.9" width="19.0" height="6.6" fill="#6a6a6a"/>
<rect x="451.6" y="311.9" width="9.7" height="6.6" fill="#676767"/>
<rect x="460.9" y="311.9" width="9.7" height="6.6" fill="#777777"/>
<rect x="470.2" y="311.9" width="33.7" height="6.6" fill="#757575"/>
<rect x="26.8" y="318.0" width="33.7" height="6.6" fill="#282828"/>
<rect x="60.2" y="318.0" width="9.7" height="6.6" fill="#262626"/>
<rect x="69.5" y="318.0" width="9.7" height="6.6" fill="#353535"/>
<rect x="78.8" y="318.0" width="9.7" height="6.6" fill="#767676"/>
<rect x="88.1" y="318.0" width="9.7" height="6.6" fill="#707070"/>
<rect x="97.4" y="318.0" width="9.7" height="6.6" fill="#949494"/>
<rect x="106.8" y="318.0" width="9.7" height="6.6" fill="#909090"/>
<rect x="116.1" y="318.0" width="9.7" height="6.6" fill="#8e8e8e"/>
<rect x="125.4" y="318.0" width="9.7" height="6.6" fill="#919191"/>
<rect x="134.7" y="318.0" width="9.7" height="6.6" fill="#797979"/>
<rect x="144.0" y="318.0" width="9.7" height="6.6" fill="#808080"/>
<rect x="153.4" y="318.0" width="9.7" height="6.6" fill="#828282"/>
<rect x="162.7" y="318.0" width="9.7" height="6.6" fill="#1d1d1d"/>
<rect x="172.0" y="318.0" width="9.7" height="6.6" fill="#545454"/>
<rect x="181.3" y="318.0" width="9.7" height="6.6" fill="#6e6e6e"/>
<rect x="190.6" y="318.0" width="9.7" height="6.6" fill="#5e5e5e"/>
<rect x="200.0" y="318.0" width="9.7" height="6.6" fill="#000000"/>
<rect x="209.3" y="318.0" width="9.7" height="6.6" fill="#313131"/>
<rect x="218.6" y="318.0" width="9.7" height="6.6" fill="#737373"/>
<rect x="227.9" y="318.0" width="9.7" height="6.6" fill="#505050"/>
<rect x="237.2" y="318.0" width="9.7" height="6.6" fill="#949494"/>
<rect x="246.6" y="318.0" width="9.7" height="6.6" fill="#a0a0a0"/>
<rect x="255.9" y="318.0" width="9.7" height="6.6" fill="#d7d7d7"/>
<rect x="265.2" y="318.0" width="9.7" height="6.6" fill="#d2d2d2"/>
<rect x="274.5" y="318.0" width="9.7" height="6.6" fill="#d1d1d1"/>
<rect x="283.8" y="318.0" width="9.7" height="6.6" fill="#d3d3d3"/>
<rect x="293.2" y="318.0" width="9.7" height="6.6" fill="#c4c4c4"/>
<rect x="302.5" y="318.0" width="9.7" height="6.6" fill="#8d8d8d"/>
<rect x="311.8" y="318.0" width="9.7" height="6.6" fill="#727272"/>
<rect x="321.1" y="318.0" width="9.7" height="6.6" fill="#020202"/>
<rect x="330.4" y="318.0" width="9.7" height="6.6" fill="#202020"/>
<rect x="339.8" y="318.0" width="9.7" height="6.6" fill="#757575"/>
<rect x="349.1" y="318.0" width="9.7" height="6.6" fill="#6e6e6e"/>
<rect x="358.4" y="318.0" width="9.7" height="6.6" fill="#696969"/>
<rect x="367.7" y="318.0" width="9.7" height="6.6" fill="#686868"/>
<rect x="377.0" y="318.0" width="9.7" height="6.6" fill="#636363"/>
<rect x="386.4" y="318.0" width="9.7" height="6.6" fill="#787878"/>
<rect x="395.7" y="318.0" width="9.7" height="6.6" fill="#909090"/>
<rect x="405.0" y="318.0" width="9.7" height="6.6" fill="#808080"/>
<rect x="414.3" y="318.0" width="9.7" height="6.6" fill="#575757"/>
<rect x="423.6" y="318.0" width="9.7" height="6.6" fill="#636363"/>
<rect x="433.0" y="318.0" width="9.7" height="6.6" fill="#202020"/>
<rect x="442.3" y="318.0" width="9.7" height="6.6" fill="#101010"/>
<rect x="451.6" y="318.0" width="9.7" height="6.6" fill="#0d0d0d"/>
<rect x="460.9" y="318.0" width="9.7" height="6.6" fill="#232323"/>
<rect x="470.2" y="318.0" width="33.7" height="6.6" fill="#1e1e1e"/>
<rect x="26.8" y="324.2" width="33.7" height="6.6" fill="#151515"/>
<rect x="60.2" y="324.2" width="9.7" height="6.6" fill="#0f0f0f"/>
<rect x="69.5" y="324.2" width="9.7" height="6.6" fill="#1a1a1a"/>
<rect x="78.8" y="324.2" width="9.7" height="6.6" fill="#757575"/>
<rect x="88.1" y="324.2" width="9.7" height="6.6" fill="#505050"/>
<rect x="97.4" y="324.2" width="9.7" height="6.6" fill="#919191"/>
<rect x="106.8" y="324.2" width="9.7" height="6.6" fill="#b3b3b3"/>
<rect x="116.1" y="324.2" width="9.7" height="6.6" fill="#c6c6c6"/>
<rect x="125.4" y="324.2" width="9.7" height="6.6" fill="#b4b4b4"/>
<rect x="134.7" y="324.2" width="9.7" height="6.6" fill="#919191"/>
<rect x="144.0" y="324.2" width="9.7" height="6.6" fill="#505050"/>
<rect x="153.4" y="324.2" width="19.0" height="6.6" fill="#717171"/>
<rect x="172.0" y="324.2" width="9.7" height="6.6" fill="#707070"/>
<rect x="181.3" y="324.2" width="9.7" height="6.6" fill="#808080"/>
<rect x="190.6" y="324.2" width="19.0" height="6.6" fill="#959595"/>
<rect x="209.3" y="324.2" width="9.7" height="6.6" fill="#969696"/>
<rect x="218.6" y="324.2" width="9.7" height="6.6" fill="#828282"/>
<rect x="227.9" y="324.2" width="9.7" height="6.6" fill="#676767"/>
<rect x="237.2" y="324.2" width="9.7" height="6.6" fill="#949494"/>
<rect x="246.6" y="324.2" width="9.7" height="6.6" fill="#898989"/>
<rect x="255.9" y="324.2" width="9.7" height="6.6" fill="#c5c5c5"/>
<rect x="265.2" y="324.2" width="9.7" height="6.6" fill="#d3d3d3"/>
<rect x="274.5" y="324.2" width="9.7" height="6.6" fill="#d2d2d2"/>
<rect x="283.8" y="324.2" width="9.7" height="6.6" fill="#bebebe"/>
<rect x="293.2" y="324.2" width="9.7" height="6.6" fill="#b1b1b1"/>
<rect x="302.5" y="324.2" width="9.7" height="6.6" fill="#919191"/>
<rect x="311.8" y="324.2" width="9.7" height="6.6" fill="#727272"/>
<rect x="321.1" y="324.2" width="9.7" height="6.6" fill="#626262"/>
<rect x="330.4" y="324.2" width="9.7" height="6.6" fill="#636363"/>
<rect x="339.8" y="324.2" width="9.7" height="6.6" fill="#5e5e5e"/>
<rect x="349.1" y="324.2" width="9.7" height="6.6" fill="#717171"/>
<rect x="358.4" y="324.2" width="9.7" height="6.6" fill="#6c6c6c"/>
<rect x="367.7" y="324.2" width="9.7" height="6.6" fill="#808080"/>
<rect x="377.0" y="324.2" width="9.7" height="6.6" fill="#909090"/>
<rect x="386.4" y="324.2" width="9.7" height="6.6" fill="#a0a0a0"/>
<rect x="395.7" y="324.2" width="9.7" height="6.6" fill="#b3b3b3"/>
<rect x="405.0" y="324.2" width="9.7" height="6.6" fill="#a2a2a2"/>
<rect x="414.3" y="324.2" width="9.7" height="6.6" fill="#808080"/>
<rect x="423.6" y="324.2" width="9.7" height="6.6" fill="#888888"/>
<rect x="433.0" y="324.2" width="9.7" height="6.6" fill="#030303"/>
<rect x="442.3" y="324.2" width="19.0" height="6.6" fill="#111111"/>
<rect x="460.9" y="324.2" width="9.7" height="6.6" fill="#282828"/>
<rect x="470.2" y="324.2" width="33.7" height="6.6" fill="#3f3f3f"/>
<rect x="26.8" y="330.4" width="33.7" height="6.6" fill="#212121"/>
<rect x="60.2" y="330.4" width="9.7" height="6.6" fill="#666666"/>
<rect x="69.5" y="330.4" width="9.7" height="6.6" fill="#616161"/>
<rect x="78.8" y="330.4" width="9.7" height="6.6" fill="#737373"/>
<rect x="88.1" y="330.4" width="9.7" height="6.6" fill="#4e4e4e"/>
<rect x="97.4" y="330.4" width="9.7" height="6.6" fill="#919191"/>
<rect x="106.8" y="330.4" width="9.7" height="6.6" fill="#b3b3b3"/>
<rect x="116.1" y="330.4" width="9.7" height="6.6" fill="#c6c6c6"/>
<rect x="125.4" y="330.4" width="9.7" height="6.6" fill="#b4b4b4"/>
<rect x="134.7" y="330.4" width="9.7" height="6.6" fill="#808080"/>
<rect x="144.0" y="330.4" width="9.7" height="6.6" fill="#737373"/>
<rect x="153.4" y="330.4" width="9.7" height="6.6" fill="#626262"/>
<rect x="162.7" y="330.4" width="9.7" height="6.6" fill="#747474"/>
<rect x="172.0" y="330.4" width="9.7" height="6.6" fill="#838383"/>
<rect x="181.3" y="330.4" width="9.7" height="6.6" fill="#929292"/>
<rect x="190.6" y="330.4" width="9.7" height="6.6" fill="#a3a3a3"/>
<rect x="200.0" y="330.4" width="9.7" height="6.6" fill="#b6b6b6"/>
<rect x="209.3" y="330.4" width="9.7" height="6.6" fill="#a4a4a4"/>
<rect x="218.6" y="330.4" width="9.7" height="6.6" fill="#808080"/>
<rect x="227.9" y="330.4" width="9.7" height="6.6" fill="#696969"/>
<rect x="237.2" y="330.4" width="9.7" height="6.6" fill="#969696"/>
<rect x="246.6" y="330.4" width="9.7" height="6.6" fill="#3f3f3f"/>
<rect x="255.9" y="330.4" width="9.7" height="6.6" fill="#828282"/>
<rect x="265.2" y="330.4" width="9.7" height="6.6" fill="#a8a8a8"/>
<rect x="274.5" y="330.4" width="9.7" height="6.6" fill="#bebebe"/>
<rect x="283.8" y="330.4" width="9.7" height="6.6" fill="#c0c0c0"/>
<rect x="293.2" y="330.4" width="9.7" height="6.6" fill="#b2b2b2"/>
<rect x="302.5" y="330.4" width="9.7" height="6.6" fill="#444444"/>
<rect x="311.8" y="330.4" width="9.7" height="6.6" fill="#585858"/>
<rect x="321.1" y="330.4" width="9.7" height="6.6" fill="#5e5e5e"/>
<rect x="330.4" y="330.4" width="9.7" height="6.6" fill="#606060"/>
<rect x="339.8" y="330.4" width="9.7" height="6.6" fill="#5d5d5d"/>
<rect x="349.1" y="330.4" width="9.7" height="6.6" fill="#727272"/>
<rect x="358.4" y="330.4" width="9.7" height="6.6" fill="#6c6c6c"/>
<rect x="367.7" y="330.4" width="9.7" height="6.6" fill="#929292"/>
<rect x="377.0" y="330.4" width="9.7" height="6.6" fill="#9f9f9f"/>
<rect x="386.4" y="330.4" width="9.7" height="6.6" fill="#c4c4c4"/>
<rect x="395.7" y="330.4" width="9.7" height="6.6" fill="#c3c3c3"/>
<rect x="405.0" y="330.4" width="9.7" height="6.6" fill="#b2b2b2"/>
<rect x="414.3" y="330.4" width="9.7" height="6.6" fill="#919191"/>
<rect x="423.6" y="330.4" width="9.7" height="6.6" fill="#5b5b5b"/>
<rect x="433.0" y="330.4" width="9.7" height="6.6" fill="#646464"/>
<rect x="442.3" y="330.4" width="9.7" height="6.6" fill="#686868"/>
<rect x="451.6" y="330.4" width="19.0" height="6.6" fill="#555555"/>
<rect x="470.2" y="330.4" width="33.7" height="6.6" fill="#686868"/>
<rect x="26.8" y="336.6" width="43.0" height="6.6" fill="#747474"/>
<rect x="69.5" y="336.6" width="9.7" height="6.6" fill="#595959"/>
<rect x="78.8" y="336.6" width="9.7" height="6.6" fill="#717171"/>
<rect x="88.1" y="336.6" width="9.7" height="6.6" fill="#818181"/>
<rect x="97.4" y="336.6" width="9.7" height="6.6" fill="#939393"/>
<rect x="106.8" y="336.6" width="9.7" height="6.6" fill="#929292"/>
<rect x="116.1" y="336.6" width="9.7" height="6.6" fill="#949494"/>
<rect x="125.4" y="336.6" width="9.7" height="6.6" fill="#989898"/>
<rect x="134.7" y="336.6" width="9.7" height="6.6" fill="#898989"/>
<rect x="144.0" y="336.6" width="9.7" height="6.6" fill="#1e1e1e"/>
<rect x="153.4" y="336.6" width="9.7" height="6.6" fill="#262626"/>
<rect x="162.7" y="336.6" width="9.7" height="6.6" fill="#202020"/>
<rect x="172.0" y="336.6" width="9.7" height="6.6" fill="#777777"/>
<rect x="181.3" y="336.6" width="9.7" height="6.6" fill="#989898"/>
<rect x="190.6" y="336.6" width="9.7" height="6.6" fill="#929292"/>
<rect x="200.0" y="336.6" width="9.7" height="6.6" fill="#8e8e8e"/>
<rect x="209.3" y="336.6" width="9.7" height="6.6" fill="#919191"/>
<rect x="218.6" y="336.6" width="9.7" height="6.6" fill="#818181"/>
<rect x="227.9" y="336.6" width="9.7" height="6.6" fill="#525252"/>
<rect x="237.2" y="336.6" width="9.7" height="6.6" fill="#4e4e4e"/>
<rect x="246.6" y="336.6" width="9.7" height="6.6" fill="#8f8f8f"/>
<rect x="255.9" y="336.6" width="9.7" height="6.6" fill="#b3b3b3"/>
<rect x="265.2" y="336.6" width="9.7" height="6.6" fill="#c2c2c2"/>
<rect x="274.5" y="336.6" width="19.0" height="6.6" fill="#c0c0c0"/>
<rect x="293.2" y="336.6" width="9.7" height="6.6" fill="#c7c7c7"/>
<rect x="302.5" y="336.6" width="9.7" height="6.6" fill="#7b7b7b"/>
<rect x="311.8" y="336.6" width="9.7" height="6.6" fill="#585858"/>
<rect x="321.1" y="336.6" width="9.7" height="6.6" fill="#606060"/>
<rect x="330.4" y="336.6" width="9.7" height="6.6" fill="#616161"/>
<rect x="339.8" y="336.6" width="9.7" height="6.6" fill="#606060"/>
<rect x="349.1" y="336.6" width="9.7" height="6.6" fill="#5b5b5b"/>
<rect x="358.4" y="336.6" width="9.7" height="6.6" fill="#4d4d4d"/>
<rect x="367.7" y="336.6" width="9.7" height="6.6" fill="#8f8f8f"/>
<rect x="377.0" y="336.6" width="9.7" height="6.6" fill="#b1b1b1"/>
<rect x="386.4" y="336.6" width="19.0" height="6.6" fill="#c2c2c2"/>
<rect x="405.0" y="336.6" width="9.7" height="6.6" fill="#b2b2b2"/>
<rect x="414.3" y="336.6" width="9.7" height="6.6" fill="#929292"/>
<rect x="423.6" y="336.6" width="9.7" height="6.6" fill="#3d3d3d"/>
<rect x="433.0" y="336.6" width="9.7" height="6.6" fill="#484848"/>
<rect x="442.3" y="336.6" width="9.7" height="6.6" fill="#4b4b4b"/>
<rect x="451.6" y="336.6" width="9.7" height="6.6" fill="#353535"/>
<rect x="460.9" y="336.6" width="9.7" height="6.6" fill="#1d1d1d"/>
<rect x="470.2" y="336.6" width="33.7" height="6.6" fill="#1e1e1e"/>
<rect x="26.8" y="342.7" width="33.7" height="6.6" fill="#717171"/>
<rect x="60.2" y="342.7" width="9.7" height="6.6" fill="#727272"/>
<rect x="69.5" y="342.7" width="9.7" height="6.6" fill="#5b5b5b"/>
<rect x="78.8" y="342.7" width="9.7" height="6.6" fill="#717171"/>
<rect x="88.1" y="342.7" width="9.7" height="6.6" fill="#858585"/>
<rect x="97.4" y="342.7" width="9.7" height="6.6" fill="#737373"/>
<rect x="106.8" y="342.7" width="9.7" height="6.6" fill="#777777"/>
<rect x="116.1" y="342.7" width="75.0" height="6.6" fill="#000000"/>
<rect x="190.6" y="342.7" width="9.7" height="6.6" fill="#808080"/>
<rect x="200.0" y="342.7" width="9.7" height="6.6" fill="#7d7d7d"/>
<rect x="209.3" y="342.7" width="9.7" height="6.6" fill="#828282"/>
<rect x="218.6" y="342.7" width="9.7" height="6.6" fill="#595959"/>
<rect x="227.9" y="342.7" width="9.7" height="6.6" fill="#575757"/>
<rect x="237.2" y="342.7" width="9.7" height="6.6" fill="#949494"/>
<rect x="246.6" y="342.7" width="9.7" height="6.6" fill="#a0a0a0"/>
<rect x="255.9" y="342.7" width="9.7" height="6.6" fill="#c4c4c4"/>
<rect x="265.2" y="342.7" width="9.7" height="6.6" fill="#c0c0c0"/>
<rect x="274.5" y="342.7" width="9.7" height="6.6" fill="#bfbfbf"/>
<rect x="283.8" y="342.7" width="9.7" height="6.6" fill="#c0c0c0"/>
<rect x="293.2" y="342.7" width="9.7" height="6.6" fill="#afafaf"/>
<rect x="302.5" y="342.7" width="9.7" height="6.6" fill="#898989"/>
<rect x="311.8" y="342.7" width="9.7" height="6.6" fill="#636363"/>
<rect x="321.1" y="342.7" width="9.7" height="6.6" fill="#565656"/>
<rect x="330.4" y="342.7" width="9.7" height="6.6" fill="#424242"/>
<rect x="339.8" y="342.7" width="9.7" height="6.6" fill="#454545"/>
<rect x="349.1" y="342.7" width="9.7" height="6.6" fill="#717171"/>
<rect x="358.4" y="342.7" width="9.7" height="6.6" fill="#7e7e7e"/>
<rect x="367.7" y="342.7" width="9.7" height="6.6" fill="#a1a1a1"/>
<rect x="377.0" y="342.7" width="9.7" height="6.6" fill="#b1b1b1"/>
<rect x="386.4" y="342.7" width="9.7" height="6.6" fill="#adadad"/>
<rect x="395.7" y="342.7" width="9.7" height="6.6" fill="#afafaf"/>
<rect x="405.0" y="342.7" width="9.7" height="6.6" fill="#a0a0a0"/>
<rect x="414.3" y="342.7" width="9.7" height="6.6" fill="#7e7e7e"/>
<rect x="423.6" y="342.7" width="9.7" height="6.6" fill="#5b5b5b"/>
<rect x="433.0" y="342.7" width="9.7" height="6.6" fill="#616161"/>
<rect x="442.3" y="342.7" width="9.7" height="6.6" fill="#626262"/>
<rect x="451.6" y="342.7" width="9.7" height="6.6" fill="#636363"/>
<rect x="460.9" y="342.7" width="9.7" height="6.6" fill="#505050"/>
<rect x="470.2" y="342.7" width="33.7" height="6.6" fill="#515151"/>
<rect x="26.8" y="348.9" width="33.7" height="6.6" fill="#636363"/>
<rect x="60.2" y="348.9" width="9.7" height="6.6" fill="#646464"/>
<rect x="69.5" y="348.9" width="9.7" height="6.6" fill="#656565"/>
<rect x="78.8" y="348.9" width="19.0" height="6.6" fill="#626262"/>
<rect x="97.4" y="348.9" width="28.4" height="6.6" fill="#000000"/>
<rect x="125.4" y="348.9" width="9.7" height="6.6" fill="#4e4e4e"/>
<rect x="134.7" y="348.9" width="9.7" height="6.6" fill="#5b5b5b"/>
<rect x="144.0" y="348.9" width="9.7" height="6.6" fill="#979797"/>
<rect x="153.4" y="348.9" width="9.7" height="6.6" fill="#a9a9a9"/>
<rect x="162.7" y="348.9" width="19.0" height="6.6" fill="#a8a8a8"/>
<rect x="181.3" y="348.9" width="9.7" height="6.6" fill="#a6a6a6"/>
<rect x="190.6" y="348.9" width="9.7" height="6.6" fill="#909090"/>
<rect x="200.0" y="348.9" width="9.7" height="6.6" fill="#777777"/>
<rect x="209.3" y="348.9" width="9.7" height="6.6" fill="#4e4e4e"/>
<rect x="218.6" y="348.9" width="9.7" height="6.6" fill="#404040"/>
<rect x="227.9" y="348.9" width="9.7" height="6.6" fill="#3d3d3d"/>
<rect x="237.2" y="348.9" width="9.7" height="6.6" fill="#aaaaaa"/>
<rect x="246.6" y="348.9" width="9.7" height="6.6" fill="#a5a5a5"/>
<rect x="255.9" y="348.9" width="9.7" height="6.6" fill="#b7b7b7"/>
<rect x="265.2" y="348.9" width="9.7" height="6.6" fill="#c9c9c9"/>
<rect x="274.5" y="348.9" width="9.7" height="6.6" fill="#c7c7c7"/>
<rect x="283.8" y="348.9" width="19.0" height="6.6" fill="#c6c6c6"/>
<rect x="302.5" y="348.9" width="9.7" height="6.6" fill="#b4b4b4"/>
<rect x="311.8" y="348.9" width="9.7" height="6.6" fill="#a3a3a3"/>
<rect x="321.1" y="348.9" width="9.7" height="6.6" fill="#a9a9a9"/>
<rect x="330.4" y="348.9" width="9.7" height="6.6" fill="#585858"/>
<rect x="339.8" y="348.9" width="9.7" height="6.6" fill="#5c5c5c"/>
<rect x="349.1" y="348.9" width="9.7" height="6.6" fill="#696969"/>
<rect x="358.4" y="348.9" width="9.7" height="6.6" fill="#a3a3a3"/>
<rect x="367.7" y="348.9" width="9.7" height="6.6" fill="#9c9c9c"/>
<rect x="377.0" y="348.9" width="9.7" height="6.6" fill="#afafaf"/>
<rect x="386.4" y="348.9" width="9.7" height="6.6" fill="#acacac"/>
<rect x="395.7" y="348.9" width="9.7" height="6.6" fill="#aeaeae"/>
<rect x="405.0" y="348.9" width="9.7" height="6.6" fill="#9d9d9d"/>
<rect x="414.3" y="348.9" width="9.7" height="6.6" fill="#5e5e5e"/>
<rect x="423.6" y="348.9" width="9.7" height="6.6" fill="#707070"/>
<rect x="433.0" y="348.9" width="9.7" height="6.6" fill="#454545"/>
<rect x="442.3" y="348.9" width="9.7" height="6.6" fill="#606060"/>
<rect x="451.6" y="348.9" width="9.7" height="6.6" fill="#626262"/>
<rect x="460.9" y="348.9" width="9.7" height="6.6" fill="#646464"/>
<rect x="470.2" y="348.9" width="33.7" height="6.6" fill="#666666"/>
<rect x="26.8" y="355.1" width="33.7" height="6.6" fill="#1a1a1a"/>
<rect x="60.2" y="355.1" width="28.4" height="6.6" fill="#000000"/>
<rect x="88.1" y="355.1" width="9.7" height="6.6" fill="#606060"/>
<rect x="97.4" y="355.1" width="9.7" height="6.6" fill="#5e5e5e"/>
<rect x="106.8" y="355.1" width="9.7" height="6.6" fill="#747474"/>
<rect x="116.1" y="355.1" width="9.7" height="6.6" fill="#838383"/>
<rect x="125.4" y="355.1" width="9.7" height="6.6" fill="#a7a7a7"/>
<rect x="134.7" y="355.1" width="9.7" height="6.6" fill="#a0a0a0"/>
<rect x="144.0" y="355.1" width="9.7" height="6.6" fill="#c6c6c6"/>
<rect x="153.4" y="355.1" width="9.7" height="6.6" fill="#c3c3c3"/>
<rect x="162.7" y="355.1" width="19.0" height="6.6" fill="#c2c2c2"/>
<rect x="181.3" y="355.1" width="9.7" height="6.6" fill="#c3c3c3"/>
<rect x="190.6" y="355.1" width="9.7" height="6.6" fill="#c5c5c5"/>
<rect x="200.0" y="355.1" width="9.7" height="6.6" fill="#b7b7b7"/>
<rect x="209.3" y="355.1" width="9.7" height="6.6" fill="#969696"/>
<rect x="218.6" y="355.1" width="9.7" height="6.6" fill="#737373"/>
<rect x="227.9" y="355.1" width="9.7" height="6.6" fill="#5c5c5c"/>
<rect x="237.2" y="355.1" width="9.7" height="6.6" fill="#565656"/>
<rect x="246.6" y="355.1" width="9.7" height="6.6" fill="#515151"/>
<rect x="255.9" y="355.1" width="9.7" height="6.6" fill="#363636"/>
<rect x="265.2" y="355.1" width="9.7" height="6.6" fill="#313131"/>
<rect x="274.5" y="355.1" width="9.7" height="6.6" fill="#616161"/>
<rect x="283.8" y="355.1" width="9.7" height="6.6" fill="#747474"/>
<rect x="293.2" y="355.1" width="9.7" height="6.6" fill="#898989"/>
<rect x="302.5" y="355.1" width="9.7" height="6.6" fill="#a0a0a0"/>
<rect x="311.8" y="355.1" width="9.7" height="6.6" fill="#9e9e9e"/>
<rect x="321.1" y="355.1" width="9.7" height="6.6" fill="#a4a4a4"/>
<rect x="330.4" y="355.1" width="9.7" height="6.6" fill="#4b4b4b"/>
<rect x="339.8" y="355.1" width="9.7" height="6.6" fill="#505050"/>
<rect x="349.1" y="355.1" width="9.7" height="6.6" fill="#909090"/>
<rect x="358.4" y="355.1" width="9.7" height="6.6" fill="#9d9d9d"/>
<rect x="367.7" y="355.1" width="9.7" height="6.6" fill="#aeaeae"/>
<rect x="377.0" y="355.1" width="9.7" height="6.6" fill="#c2c2c2"/>
<rect x="386.4" y="355.1" width="9.7" height="6.6" fill="#c1c1c1"/>
<rect x="395.7" y="355.1" width="9.7" height="6.6" fill="#c2c2c2"/>
<rect x="405.0" y="355.1" width="9.7" height="6.6" fill="#c5c5c5"/>
<rect x="414.3" y="355.1" width="9.7" height="6.6" fill="#b8b8b8"/>
<rect x="423.6" y="355.1" width="9.7" height="6.6" fill="#525252"/>
<rect x="433.0" y="355.1" width="19.0" height="6.6" fill="#606060"/>
<rect x="451.6" y="355.1" width="9.7" height="6.6" fill="#636363"/>
<rect x="460.9" y="355.1" width="9.7" height="6.6" fill="#1d1d1d"/>
<rect x="470.2" y="355.1" width="33.7" height="6.6" fill="#252525"/>
<rect x="26.8" y="361.2" width="33.7" height="6.6" fill="#616161"/>
<rect x="60.2" y="361.2" width="9.7" height="6.6" fill="#757575"/>
<rect x="69.5" y="361.2" width="9.7" height="6.6" fill="#747474"/>
<rect x="78.8" y="361.2" width="9.7" height="6.6" fill="#848484"/>
<rect x="88.1" y="361.2" width="9.7" height="6.6" fill="#808080"/>
<rect x="97.4" y="361.2" width="9.7" height="6.6" fill="#919191"/>
<rect x="106.8" y="361.2" width="9.7" height="6.6" fill="#a2a2a2"/>
<rect x="116.1" y="361.2" width="9.7" height="6.6" fill="#b2b2b2"/>
<rect x="125.4" y="361.2" width="9.7" height="6.6" fill="#c4c4c4"/>
<rect x="134.7" y="361.2" width="9.7" height="6.6" fill="#c3c3c3"/>
<rect x="144.0" y="361.2" width="19.0" height="6.6" fill="#c4c4c4"/>
<rect x="162.7" y="361.2" width="9.7" height="6.6" fill="#c2c2c2"/>
<rect x="172.0" y="361.2" width="19.0" height="6.6" fill="#c1c1c1"/>
<rect x="190.6" y="361.2" width="9.7" height="6.6" fill="#c2c2c2"/>
<rect x="200.0" y="361.2" width="9.7" height="6.6" fill="#9a9a9a"/>
<rect x="209.3" y="361.2" width="9.7" height="6.6" fill="#595959"/>
<rect x="218.6" y="361.2" width="9.7" height="6.6" fill="#121212"/>
<rect x="227.9" y="361.2" width="9.7" height="6.6" fill="#686868"/>
<rect x="237.2" y="361.2" width="9.7" height="6.6" fill="#696969"/>
<rect x="246.6" y="361.2" width="9.7" height="6.6" fill="#383838"/>
<rect x="255.9" y="361.2" width="9.7" height="6.6" fill="#575757"/>
<rect x="265.2" y="361.2" width="9.7" height="6.6" fill="#565656"/>
<rect x="274.5" y="361.2" width="9.7" height="6.6" fill="#515151"/>
<rect x="283.8" y="361.2" width="9.7" height="6.6" fill="#646464"/>
<rect x="293.2" y="361.2" width="9.7" height="6.6" fill="#777777"/>
<rect x="302.5" y="361.2" width="9.7" height="6.6" fill="#898989"/>
<rect x="311.8" y="361.2" width="9.7" height="6.6" fill="#9c9c9c"/>
<rect x="321.1" y="361.2" width="9.7" height="6.6" fill="#b5b5b5"/>
<rect x="330.4" y="361.2" width="9.7" height="6.6" fill="#585858"/>
<rect x="339.8" y="361.2" width="9.7" height="6.6" fill="#909090"/>
<rect x="349.1" y="361.2" width="9.7" height="6.6" fill="#b4b4b4"/>
<rect x="358.4" y="361.2" width="9.7" height="6.6" fill="#c4c4c4"/>
<rect x="367.7" y="361.2" width="28.4" height="6.6" fill="#c2c2c2"/>
<rect x="395.7" y="361.2" width="9.7" height="6.6" fill="#c3c3c3"/>
<rect x="405.0" y="361.2" width="9.7" height="6.6" fill="#b0b0b0"/>
<rect x="414.3" y="361.2" width="9.7" height="6.6" fill="#b7b7b7"/>
<rect x="423.6" y="361.2" width="9.7" height="6.6" fill="#4b4b4b"/>
<rect x="433.0" y="361.2" width="9.7" height="6.6" fill="#595959"/>
<rect x="442.3" y="361.2" width="9.7" height="6.6" fill="#5b5b5b"/>
<rect x="451.6" y="361.2" width="9.7" height="6.6" fill="#616161"/>
<rect x="460.9" y="361.2" width="9.7" height="6.6" fill="#1a1a1a"/>
<rect x="470.2" y="361.2" width="33.7" height="6.6" fill="#212121"/>
<rect x="26.8" y="367.4" width="33.7" height="6.6" fill="#7e7e7e"/>
<rect x="60.2" y="367.4" width="9.7" height="6.6" fill="#7c7c7c"/>
<rect x="69.5" y="367.4" width="9.7" height="6.6" fill="#909090"/>
<rect x="78.8" y="367.4" width="9.7" height="6.6" fill="#a2a2a2"/>
<rect x="88.1" y="367.4" width="9.7" height="6.6" fill="#a0a0a0"/>
<rect x="97.4" y="367.4" width="9.7" height="6.6" fill="#b3b3b3"/>
<rect x="106.8" y="367.4" width="9.7" height="6.6" fill="#b0b0b0"/>
<rect x="116.1" y="367.4" width="9.7" height="6.6" fill="#c3c3c3"/>
<rect x="125.4" y="367.4" width="9.7" height="6.6" fill="#c1c1c1"/>
<rect x="134.7" y="367.4" width="9.7" height="6.6" fill="#c4c4c4"/>
<rect x="144.0" y="367.4" width="9.7" height="6.6" fill="#686868"/>
<rect x="153.4" y="367.4" width="9.7" height="6.6" fill="#888888"/>
<rect x="162.7" y="367.4" width="9.7" height="6.6" fill="#9d9d9d"/>
<rect x="172.0" y="367.4" width="9.7" height="6.6" fill="#b0b0b0"/>
<rect x="181.3" y="367.4" width="9.7" height="6.6" fill="#afafaf"/>
<rect x="190.6" y="367.4" width="9.7" height="6.6" fill="#b0b0b0"/>
<rect x="200.0" y="367.4" width="9.7" height="6.6" fill="#b2b2b2"/>
<rect x="209.3" y="367.4" width="9.7" height="6.6" fill="#b6b6b6"/>
<rect x="218.6" y="367.4" width="19.0" height="6.6" fill="#b7b7b7"/>
<rect x="237.2" y="367.4" width="9.7" height="6.6" fill="#a3a3a3"/>
<rect x="246.6" y="367.4" width="9.7" height="6.6" fill="#a5a5a5"/>
<rect x="255.9" y="367.4" width="9.7" height="6.6" fill="#929292"/>
<rect x="265.2" y="367.4" width="9.7" height="6.6" fill="#939393"/>
<rect x="274.5" y="367.4" width="9.7" height="6.6" fill="#959595"/>
<rect x="283.8" y="367.4" width="9.7" height="6.6" fill="#949494"/>
<rect x="293.2" y="367.4" width="9.7" height="6.6" fill="#929292"/>
<rect x="302.5" y="367.4" width="9.7" height="6.6" fill="#a3a3a3"/>
<rect x="311.8" y="367.4" width="9.7" height="6.6" fill="#b5b5b5"/>
<rect x="321.1" y="367.4" width="9.7" height="6.6" fill="#cbcbcb"/>
<rect x="330.4" y="367.4" width="9.7" height="6.6" fill="#a3a3a3"/>
<rect x="339.8" y="367.4" width="9.7" height="6.6" fill="#b9b9b9"/>
<rect x="349.1" y="367.4" width="9.7" height="6.6" fill="#b6b6b6"/>
<rect x="358.4" y="367.4" width="28.4" height="6.6" fill="#b4b4b4"/>
<rect x="386.4" y="367.4" width="9.7" height="6.6" fill="#9f9f9f"/>
<rect x="395.7" y="367.4" width="9.7" height="6.6" fill="#a0a0a0"/>
<rect x="405.0" y="367.4" width="9.7" height="6.6" fill="#898989"/>
<rect x="414.3" y="367.4" width="9.7" height="6.6" fill="#929292"/>
<rect x="423.6" y="367.4" width="9.7" height="6.6" fill="#838383"/>
<rect x="433.0" y="367.4" width="9.7" height="6.6" fill="#898989"/>
<rect x="442.3" y="367.4" width="9.7" height="6.6" fill="#777777"/>
<rect x="451.6" y="367.4" width="52.4" height="6.6" fill="#787878"/>
<rect x="26.8" y="373.6" width="33.7" height="6.6" fill="#a2a2a2"/>
<rect x="60.2" y="373.6" width="9.7" height="6.6" fill="#a1a1a1"/>
<rect x="69.5" y="373.6" width="9.7" height="6.6" fill="#9f9f9f"/>
<rect x="78.8" y="373.6" width="9.7" height="6.6" fill="#b2b2b2"/>
<rect x="88.1" y="373.6" width="19.0" height="6.6" fill="#b0b0b0"/>
<rect x="106.8" y="373.6" width="19.0" height="6.6" fill="#aeaeae"/>
<rect x="125.4" y="373.6" width="9.7" height="6.6" fill="#b2b2b2"/>
<rect x="134.7" y="373.6" width="9.7" height="6.6" fill="#b5b5b5"/>
<rect x="144.0" y="373.6" width="9.7" height="6.6" fill="#747474"/>
<rect x="153.4" y="373.6" width="9.7" height="6.6" fill="#565656"/>
<rect x="162.7" y="373.6" width="9.7" height="6.6" fill="#848484"/>
<rect x="172.0" y="373.6" width="9.7" height="6.6" fill="#989898"/>
<rect x="181.3" y="373.6" width="19.0" height="6.6" fill="#949494"/>
<rect x="200.0" y="373.6" width="9.7" height="6.6" fill="#939393"/>
<rect x="209.3" y="373.6" width="9.7" height="6.6" fill="#adadad"/>
<rect x="218.6" y="373.6" width="28.4" height="6.6" fill="#acacac"/>
<rect x="246.6" y="373.6" width="9.7" height="6.6" fill="#afafaf"/>
<rect x="255.9" y="373.6" width="9.7" height="6.6" fill="#989898"/>
<rect x="265.2" y="373.6" width="9.7" height="6.6" fill="#9d9d9d"/>
<rect x="274.5" y="373.6" width="9.7" height="6.6" fill="#898989"/>
<rect x="283.8" y="373.6" width="9.7" height="6.6" fill="#1f1f1f"/>
<rect x="293.2" y="373.6" width="9.7" height="6.6" fill="#8c8c8c"/>
<rect x="302.5" y="373.6" width="9.7" height="6.6" fill="#878787"/>
<rect x="311.8" y="373.6" width="9.7" height="6.6" fill="#4d4d4d"/>
<rect x="321.1" y="373.6" width="9.7" height="6.6" fill="#8c8c8c"/>
<rect x="330.4" y="373.6" width="9.7" height="6.6" fill="#5e5e5e"/>
<rect x="339.8" y="373.6" width="9.7" height="6.6" fill="#4b4b4b"/>
<rect x="349.1" y="373.6" width="9.7" height="6.6" fill="#626262"/>
<rect x="358.4" y="373.6" width="9.7" height="6.6" fill="#5d5d5d"/>
<rect x="367.7" y="373.6" width="9.7" height="6.6" fill="#5f5f5f"/>
<rect x="377.0" y="373.6" width="9.7" height="6.6" fill="#626262"/>
<rect x="386.4" y="373.6" width="28.4" height="6.6" fill="#808080"/>
<rect x="414.3" y="373.6" width="9.7" height="6.6" fill="#818181"/>
<rect x="423.6" y="373.6" width="9.7" height="6.6" fill="#535353"/>
<rect x="433.0" y="373.6" width="9.7" height="6.6" fill="#080808"/>
<rect x="442.3" y="373.6" width="9.7" height="6.6" fill="#0d0d0d"/>
<rect x="451.6" y="373.6" width="9.7" height="6.6" fill="#0e0e0e"/>
<rect x="460.9" y="373.6" width="9.7" height="6.6" fill="#0b0b0b"/>
<rect x="470.2" y="373.6" width="33.7" height="6.6" fill="#585858"/>
<rect x="26.8" y="379.8" width="33.7" height="6.6" fill="#989898"/>
<rect x="60.2" y="379.8" width="9.7" height="6.6" fill="#979797"/>
<rect x="69.5" y="379.8" width="9.7" height="6.6" fill="#afafaf"/>
<rect x="78.8" y="379.8" width="9.7" height="6.6" fill="#adadad"/>
<rect x="88.1" y="379.8" width="28.4" height="6.6" fill="#acacac"/>
<rect x="116.1" y="379.8" width="9.7" height="6.6" fill="#adadad"/>
<rect x="125.4" y="379.8" width="9.7" height="6.6" fill="#9a9a9a"/>
<rect x="134.7" y="379.8" width="9.7" height="6.6" fill="#000000"/>
<rect x="144.0" y="379.8" width="9.7" height="6.6" fill="#b3b3b3"/>
<rect x="153.4" y="379.8" width="9.7" height="6.6" fill="#afafaf"/>
<rect x="162.7" y="379.8" width="9.7" height="6.6" fill="#acacac"/>
<rect x="172.0" y="379.8" width="9.7" height="6.6" fill="#c0c0c0"/>
<rect x="181.3" y="379.8" width="19.0" height="6.6" fill="#bfbfbf"/>
<rect x="200.0" y="379.8" width="9.7" height="6.6" fill="#bebebe"/>
<rect x="209.3" y="379.8" width="9.7" height="6.6" fill="#bdbdbd"/>
<rect x="218.6" y="379.8" width="9.7" height="6.6" fill="#bcbcbc"/>
<rect x="227.9" y="379.8" width="9.7" height="6.6" fill="#bababa"/>
<rect x="237.2" y="379.8" width="9.7" height="6.6" fill="#d1d1d1"/>
<rect x="246.6" y="379.8" width="9.7" height="6.6" fill="#d2d2d2"/>
<rect x="255.9" y="379.8" width="9.7" height="6.6" fill="#bdbdbd"/>
<rect x="265.2" y="379.8" width="9.7" height="6.6" fill="#c0c0c0"/>
<rect x="274.5" y="379.8" width="9.7" height="6.6" fill="#c3c3c3"/>
<rect x="283.8" y="379.8" width="9.7" height="6.6" fill="#afafaf"/>
<rect x="293.2" y="379.8" width="9.7" height="6.6" fill="#b0b0b0"/>
<rect x="302.5" y="379.8" width="19.0" height="6.6" fill="#aeaeae"/>
<rect x="321.1" y="379.8" width="9.7" height="6.6" fill="#b3b3b3"/>
<rect x="330.4" y="379.8" width="9.7" height="6.6" fill="#3d3d3d"/>
<rect x="339.8" y="379.8" width="9.7" height="6.6" fill="#2a2a2a"/>
<rect x="349.1" y="379.8" width="9.7" height="6.6" fill="#797979"/>
<rect x="358.4" y="379.8" width="9.7" height="6.6" fill="#747474"/>
<rect x="367.7" y="379.8" width="9.7" height="6.6" fill="#787878"/>
<rect x="377.0" y="379.8" width="9.7" height="6.6" fill="#464646"/>
<rect x="386.4" y="379.8" width="37.7" height="6.6" fill="#494949"/>
<rect x="423.6" y="379.8" width="9.7" height="6.6" fill="#818181"/>
<rect x="433.0" y="379.8" width="9.7" height="6.6" fill="#828282"/>
<rect x="442.3" y="379.8" width="19.0" height="6.6" fill="#848484"/>
<rect x="460.9" y="379.8" width="9.7" height="6.6" fill="#828282"/>
<rect x="470.2" y="379.8" width="33.7" height="6.6" fill="#818181"/>
<rect x="26.8" y="386.0" width="43.0" height="6.6" fill="#c2c2c2"/>
<rect x="69.5" y="386.0" width="9.7" height="6.6" fill="#c1c1c1"/>
<rect x="78.8" y="386.0" width="9.7" height="6.6" fill="#c0c0c0"/>
<rect x="88.1" y="386.0" width="9.7" height="6.6" fill="#bfbfbf"/>
<rect x="97.4" y="386.0" width="9.7" height="6.6" fill="#bebebe"/>
<rect x="106.8" y="386.0" width="19.0" height="6.6" fill="#bdbdbd"/>
<rect x="125.4" y="386.0" width="9.7" height="6.6" fill="#c2c2c2"/>
<rect x="134.7" y="386.0" width="9.7" height="6.6" fill="#c1c1c1"/>
<rect x="144.0" y="386.0" width="9.7" height="6.6" fill="#e8e8e8"/>
<rect x="153.4" y="386.0" width="9.7" height="6.6" fill="#e4e4e4"/>
<rect x="162.7" y="386.0" width="19.0" height="6.6" fill="#e3e3e3"/>
<rect x="181.3" y="386.0" width="19.0" height="6.6" fill="#e2e2e2"/>
<rect x="200.0" y="386.0" width="28.4" height="6.6" fill="#e1e1e1"/>
<rect x="227.9" y="386.0" width="37.7" height="6.6" fill="#e0e0e0"/>
<rect x="265.2" y="386.0" width="19.0" height="6.6" fill="#e1e1e1"/>
<rect x="283.8" y="386.0" width="37.7" height="6.6" fill="#e2e2e2"/>
<rect x="321.1" y="386.0" width="9.7" height="6.6" fill="#e6e6e6"/>
<rect x="330.4" y="386.0" width="9.7" height="6.6" fill="#c1c1c1"/>
<rect x="339.8" y="386.0" width="19.0" height="6.6" fill="#c4c4c4"/>
<rect x="358.4" y="386.0" width="9.7" height="6.6" fill="#c3c3c3"/>
<rect x="367.7" y="386.0" width="9.7" height="6.6" fill="#c5c5c5"/>
<rect x="377.0" y="386.0" width="9.7" height="6.6" fill="#b3b3b3"/>
<rect x="386.4" y="386.0" width="9.7" height="6.6" fill="#a0a0a0"/>
<rect x="395.7" y="386.0" width="19.0" height="6.6" fill="#a1a1a1"/>
<rect x="414.3" y="386.0" width="9.7" height="6.6" fill="#a0a0a0"/>
<rect x="423.6" y="386.0" width="9.7" height="6.6" fill="#9e9e9e"/>
<rect x="433.0" y="386.0" width="71.0" height="6.6" fill="#9c9c9c"/>
<rect x="26.8" y="392.1" width="43.0" height="6.6" fill="#c8c8c8"/>
<rect x="69.5" y="392.1" width="9.7" height="6.6" fill="#c9c9c9"/>
<rect x="78.8" y="392.1" width="9.7" height="6.6" fill="#dfdfdf"/>
<rect x="88.1" y="392.1" width="9.7" height="6.6" fill="#e0e0e0"/>
<rect x="97.4" y="392.1" width="9.7" height="6.6" fill="#dfdfdf"/>
<rect x="106.8" y="392.1" width="9.7" height="6.6" fill="#f3f3f3"/>
<rect x="116.1" y="392.1" width="19.0" height="6.6" fill="#f2f2f2"/>
<rect x="134.7" y="392.1" width="9.7" height="6.6" fill="#f0f0f0"/>
<rect x="144.0" y="392.1" width="9.7" height="6.6" fill="#eeeeee"/>
<rect x="153.4" y="392.1" width="19.0" height="6.6" fill="#ebebeb"/>
<rect x="172.0" y="392.1" width="9.7" height="6.6" fill="#e8e8e8"/>
<rect x="181.3" y="392.1" width="9.7" height="6.6" fill="#e5e5e5"/>
<rect x="190.6" y="392.1" width="9.7" height="6.6" fill="#e2e2e2"/>
<rect x="200.0" y="392.1" width="9.7" height="6.6" fill="#f6f6f6"/>
<rect x="209.3" y="392.1" width="9.7" height="6.6" fill="#f4f4f4"/>
<rect x="218.6" y="392.1" width="9.7" height="6.6" fill="#f3f3f3"/>
<rect x="227.9" y="392.1" width="28.4" height="6.6" fill="#f2f2f2"/>
<rect x="255.9" y="392.1" width="65.6" height="6.6" fill="#f1f1f1"/>
<rect x="321.1" y="392.1" width="9.7" height="6.6" fill="#f2f2f2"/>
<rect x="330.4" y="392.1" width="9.7" height="6.6" fill="#f4f4f4"/>
<rect x="339.8" y="392.1" width="9.7" height="6.6" fill="#e1e1e1"/>
<rect x="349.1" y="392.1" width="9.7" height="6.6" fill="#e2e2e2"/>
<rect x="358.4" y="392.1" width="9.7" height="6.6" fill="#e3e3e3"/>
<rect x="367.7" y="392.1" width="9.7" height="6.6" fill="#cfcfcf"/>
<rect x="377.0" y="392.1" width="9.7" height="6.6" fill="#d1d1d1"/>
<rect x="386.4" y="392.1" width="117.6" height="6.6" fill="#d2d2d2"/>
<rect x="26.8" y="398.3" width="43.0" height="6.6" fill="#3e3e3e"/>
<rect x="69.5" y="398.3" width="9.7" height="6.6" fill="#414141"/>
<rect x="78.8" y="398.3" width="65.6" height="6.6" fill="#000000"/>
<rect x="144.0" y="398.3" width="9.7" height="6.6" fill="#383838"/>
<rect x="153.4" y="398.3" width="19.0" height="6.6" fill="#333333"/>
<rect x="172.0" y="398.3" width="9.7" height="6.6" fill="#2a2a2a"/>
<rect x="181.3" y="398.3" width="9.7" height="6.6" fill="#c1c1c1"/>
<rect x="190.6" y="398.3" width="9.7" height="6.6" fill="#bababa"/>
<rect x="200.0" y="398.3" width="9.7" height="6.6" fill="#b9b9b9"/>
<rect x="209.3" y="398.3" width="9.7" height="6.6" fill="#b4b4b4"/>
<rect x="218.6" y="398.3" width="9.7" height="6.6" fill="#e2e2e2"/>
<rect x="227.9" y="398.3" width="19.0" height="6.6" fill="#e1e1e1"/>
<rect x="246.6" y="398.3" width="9.7" height="6.6" fill="#e0e0e0"/>
<rect x="255.9" y="398.3" width="9.7" height="6.6" fill="#f3f3f3"/>
<rect x="265.2" y="398.3" width="37.7" height="6.6" fill="#f2f2f2"/>
<rect x="302.5" y="398.3" width="28.4" height="6.6" fill="#f1f1f1"/>
<rect x="330.4" y="398.3" width="9.7" height="6.6" fill="#f2f2f2"/>
<rect x="339.8" y="398.3" width="9.7" height="6.6" fill="#dddddd"/>
<rect x="349.1" y="398.3" width="9.7" height="6.6" fill="#dfdfdf"/>
<rect x="358.4" y="398.3" width="19.0" height="6.6" fill="#e0e0e0"/>
<rect x="377.0" y="398.3" width="126.9" height="6.6" fill="#e1e1e1"/>
<rect x="26.8" y="404.5" width="43.0" height="6.6" fill="#929292"/>
<rect x="69.5" y="404.5" width="9.7" height="6.6" fill="#949494"/>
<rect x="78.8" y="404.5" width="9.7" height="6.6" fill="#959595"/>
<rect x="88.1" y="404.5" width="47.0" height="6.6" fill="#979797"/>
<rect x="134.7" y="404.5" width="9.7" height="6.6" fill="#949494"/>
<rect x="144.0" y="404.5" width="9.7" height="6.6" fill="#a6a6a6"/>
<rect x="153.4" y="404.5" width="19.0" height="6.6" fill="#a4a4a4"/>
<rect x="172.0" y="404.5" width="9.7" height="6.6" fill="#a1a1a1"/>
<rect x="181.3" y="404.5" width="9.7" height="6.6" fill="#b2b2b2"/>
<rect x="190.6" y="404.5" width="19.0" height="6.6" fill="#afafaf"/>
<rect x="209.3" y="404.5" width="9.7" height="6.6" fill="#acacac"/>
<rect x="218.6" y="404.5" width="9.7" height="6.6" fill="#c1c1c1"/>
<rect x="227.9" y="404.5" width="19.0" height="6.6" fill="#bfbfbf"/>
<rect x="246.6" y="404.5" width="9.7" height="6.6" fill="#bcbcbc"/>
<rect x="255.9" y="404.5" width="9.7" height="6.6" fill="#d1d1d1"/>
<rect x="265.2" y="404.5" width="28.4" height="6.6" fill="#cfcfcf"/>
<rect x="293.2" y="404.5" width="9.7" height="6.6" fill="#cdcdcd"/>
<rect x="302.5" y="404.5" width="9.7" height="6.6" fill="#e2e2e2"/>
<rect x="311.8" y="404.5" width="192.2" height="6.6" fill="#e1e1e1"/>
<rect x="26.8" y="410.6" width="108.3" height="27.6" fill="#a1a1a1"/>
<rect x="134.7" y="410.6" width="9.7" height="27.6" fill="#9f9f9f"/>
<rect x="144.0" y="410.6" width="9.7" height="27.6" fill="#b2b2b2"/>
<rect x="153.4" y="410.6" width="28.4" height="27.6" fill="#b1b1b1"/>
<rect x="181.3" y="410.6" width="9.7" height="27.6" fill="#9a9a9a"/>
<rect x="190.6" y="410.6" width="19.0" height="27.6" fill="#9c9c9c"/>
<rect x="209.3" y="410.6" width="9.7" height="27.6" fill="#9a9a9a"/>
<rect x="218.6" y="410.6" width="9.7" height="27.6" fill="#999999"/>
<rect x="227.9" y="410.6" width="19.0" height="27.6" fill="#989898"/>
<rect x="246.6" y="410.6" width="9.7" height="27.6" fill="#949494"/>
<rect x="255.9" y="410.6" width="9.7" height="27.6" fill="#acacac"/>
<rect x="265.2" y="410.6" width="28.4" height="27.6" fill="#a8a8a8"/>
<rect x="293.2" y="410.6" width="9.7" height="27.6" fill="#a4a4a4"/>
<rect x="302.5" y="410.6" width="9.7" height="27.6" fill="#bcbcbc"/>
<rect x="311.8" y="410.6" width="19.0" height="27.6" fill="#b8b8b8"/>
<rect x="330.4" y="410.6" width="9.7" height="27.6" fill="#b5b5b5"/>
<rect x="339.8" y="410.6" width="9.7" height="27.6" fill="#cecece"/>
<rect x="349.1" y="410.6" width="154.9" height="27.6" fill="#cbcbcb"/>
</g>
<g filter="url(#jet2)" opacity="0.85">
<path d="M51.8,247.1 L53.2,247.1 L53.9,280.4 L51.1,280.4 Z" fill="#606060"/>
<path d="M60.6,247.1 L61.7,247.1 L62.6,289.0 L59.7,289.0 Z" fill="#5d5d5d"/>
<path d="M70.1,247.1 L71.4,247.1 L72.2,286.3 L69.2,286.3 Z" fill="#606060"/>
<path d="M77.3,247.1 L78.1,247.1 L79.1,290.1 L76.3,290.1 Z" fill="#606060"/>
<path d="M85.1,247.1 L86.2,247.1 L87.0,277.2 L84.4,277.2 Z" fill="#606060"/>
<path d="M93.7,247.1 L95.1,247.1 L95.5,275.5 L93.2,275.5 Z" fill="#3b3b3b"/>
<path d="M103.1,247.1 L104.0,247.1 L104.8,280.4 L102.3,280.4 Z" fill="#606060"/>
<path d="M112.7,247.1 L113.8,247.1 L114.7,282.4 L111.9,282.4 Z" fill="#464646"/>
<path d="M122.2,247.1 L123.4,247.1 L123.9,280.0 L121.8,280.0 Z" fill="#484848"/>
<path d="M130.5,247.1 L131.8,247.1 L132.2,290.0 L130.0,290.0 Z" fill="#606060"/>
<path d="M138.0,247.1 L139.3,247.1 L139.7,277.7 L137.6,277.7 Z" fill="#474747"/>
<path d="M146.0,247.1 L147.0,247.1 L147.8,275.7 L145.2,275.7 Z" fill="#494949"/>
<path d="M154.5,247.1 L155.8,247.1 L156.3,284.7 L154.0,284.7 Z" fill="#606060"/>
<path d="M162.0,247.1 L163.2,247.1 L163.9,286.1 L161.4,286.1 Z" fill="#494949"/>
<path d="M170.0,247.1 L171.1,247.1 L171.7,278.3 L169.4,278.3 Z" fill="#606060"/>
<path d="M177.7,247.1 L178.5,247.1 L179.4,289.5 L176.8,289.5 Z" fill="#3e3e3e"/>
<path d="M185.0,247.1 L186.1,247.1 L186.9,291.0 L184.2,291.0 Z" fill="#606060"/>
<path d="M194.0,247.1 L195.2,247.1 L195.8,289.6 L193.5,289.6 Z" fill="#606060"/>
<path d="M203.8,247.1 L204.8,247.1 L205.7,280.4 L202.9,280.4 Z" fill="#606060"/>
<path d="M212.1,247.1 L213.4,247.1 L214.0,278.7 L211.5,278.7 Z" fill="#474747"/>
<path d="M220.3,247.1 L221.5,247.1 L222.0,283.9 L219.9,283.9 Z" fill="#606060"/>
<path d="M229.4,247.1 L230.5,247.1 L231.4,291.9 L228.6,291.9 Z" fill="#606060"/>
<path d="M236.9,247.1 L238.1,247.1 L238.5,286.4 L236.4,286.4 Z" fill="#232323"/>
<path d="M243.9,247.1 L245.3,247.1 L245.6,277.6 L243.6,277.6 Z" fill="#3b3b3b"/>
<path d="M254.0,247.1 L255.0,247.1 L255.7,292.9 L253.3,292.9 Z" fill="#494949"/>
<path d="M262.6,247.1 L263.6,247.1 L264.2,288.4 L261.9,288.4 Z" fill="#606060"/>
<path d="M271.5,247.1 L272.7,247.1 L273.3,289.3 L270.9,289.3 Z" fill="#3b3b3b"/>
<path d="M280.0,247.1 L281.2,247.1 L282.0,280.7 L279.1,280.7 Z" fill="#606060"/>
<path d="M288.6,247.1 L289.7,247.1 L290.4,276.2 L287.9,276.2 Z" fill="#606060"/>
<path d="M296.0,247.1 L297.1,247.1 L297.6,290.7 L295.4,290.7 Z" fill="#303030"/>
<path d="M305.2,247.1 L306.2,247.1 L307.1,282.7 L304.3,282.7 Z" fill="#525252"/>
<path d="M314.1,247.1 L315.1,247.1 L315.7,278.5 L313.5,278.5 Z" fill="#222222"/>
<path d="M321.5,247.1 L322.9,247.1 L323.3,290.9 L321.1,290.9 Z" fill="#383838"/>
<path d="M330.2,247.1 L331.2,247.1 L331.7,275.2 L329.6,275.2 Z" fill="#262626"/>
<path d="M339.3,247.1 L340.2,247.1 L341.3,278.8 L338.3,278.8 Z" fill="#535353"/>
<path d="M346.5,247.1 L347.8,247.1 L348.4,284.4 L345.9,284.4 Z" fill="#5e5e5e"/>
<path d="M354.0,247.1 L355.3,247.1 L356.1,281.0 L353.2,281.0 Z" fill="#3f3f3f"/>
<path d="M362.9,247.1 L363.7,247.1 L364.5,286.7 L362.1,286.7 Z" fill="#1b1b1b"/>
<path d="M371.5,247.1 L372.9,247.1 L373.3,275.4 L371.1,275.4 Z" fill="#565656"/>
<path d="M378.7,247.1 L379.8,247.1 L380.5,290.4 L378.0,290.4 Z" fill="#585858"/>
<path d="M386.5,247.1 L387.7,247.1 L388.6,287.0 L385.6,287.0 Z" fill="#606060"/>
<path d="M394.0,247.1 L395.1,247.1 L395.6,284.3 L393.5,284.3 Z" fill="#5a5a5a"/>
<path d="M402.2,247.1 L403.2,247.1 L403.8,283.3 L401.6,283.3 Z" fill="#606060"/>
<path d="M411.6,247.1 L412.9,247.1 L413.3,290.0 L411.2,290.0 Z" fill="#606060"/>
<path d="M419.1,247.1 L420.1,247.1 L421.0,277.9 L418.2,277.9 Z" fill="#272727"/>
<path d="M427.1,247.1 L428.1,247.1 L429.1,292.7 L426.2,292.7 Z" fill="#2a2a2a"/>
<path d="M436.3,247.1 L437.4,247.1 L438.2,292.5 L435.4,292.5 Z" fill="#181818"/>
<path d="M444.6,247.1 L445.6,247.1 L446.6,292.0 L443.7,292.0 Z" fill="#181818"/>
<path d="M452.2,247.1 L453.5,247.1 L454.0,278.0 L451.7,278.0 Z" fill="#3e3e3e"/>
<path d="M462.2,247.1 L463.1,247.1 L463.7,292.6 L461.5,292.6 Z" fill="#4d4d4d"/>
<path d="M470.7,247.1 L471.7,247.1 L472.4,288.3 L470.0,288.3 Z" fill="#545454"/>
</g>
<g filter="url(#jet3)">
<ellipse cx="64.8" cy="271.7" rx="4.6" ry="3.0" fill="#303030"/>
<ellipse cx="64.8" cy="271.7" rx="3.0" ry="1.9" fill="#000"/>
<ellipse cx="74.1" cy="277.9" rx="4.6" ry="3.0" fill="#303030"/>
<ellipse cx="74.1" cy="277.9" rx="3.0" ry="1.9" fill="#000"/>
<ellipse cx="381.7" cy="277.9" rx="4.6" ry="3.0" fill="#303030"/>
<ellipse cx="381.7" cy="277.9" rx="3.0" ry="1.9" fill="#000"/>
<ellipse cx="130.1" cy="284.1" rx="4.6" ry="3.0" fill="#303030"/>
<ellipse cx="130.1" cy="284.1" rx="3.0" ry="1.9" fill="#000"/>
<ellipse cx="158.0" cy="284.1" rx="4.6" ry="3.0" fill="#303030"/>
<ellipse cx="158.0" cy="284.1" rx="3.0" ry="1.9" fill="#000"/>
<ellipse cx="279.2" cy="290.2" rx="4.6" ry="3.0" fill="#303030"/>
<ellipse cx="279.2" cy="290.2" rx="3.0" ry="1.9" fill="#000"/>
<ellipse cx="83.5" cy="296.4" rx="4.6" ry="3.0" fill="#303030"/>
<ellipse cx="83.5" cy="296.4" rx="3.0" ry="1.9" fill="#000"/>
<ellipse cx="153.4" cy="296.4" rx="8.8" ry="3.0" fill="#303030"/>
<ellipse cx="153.4" cy="296.4" rx="7.2" ry="1.9" fill="#000"/>
<ellipse cx="246.6" cy="296.4" rx="8.8" ry="3.0" fill="#303030"/>
<ellipse cx="246.6" cy="296.4" rx="7.2" ry="1.9" fill="#000"/>
<ellipse cx="363.1" cy="296.4" rx="4.6" ry="3.0" fill="#303030"/>
<ellipse cx="363.1" cy="296.4" rx="3.0" ry="1.9" fill="#000"/>
<ellipse cx="419.0" cy="296.4" rx="4.6" ry="3.0" fill="#303030"/>
<ellipse cx="419.0" cy="296.4" rx="3.0" ry="1.9" fill="#000"/>
<ellipse cx="172.0" cy="302.6" rx="8.8" ry="3.0" fill="#303030"/>
<ellipse cx="172.0" cy="302.6" rx="7.2" ry="1.9" fill="#000"/>
<ellipse cx="335.1" cy="302.6" rx="4.6" ry="3.0" fill="#303030"/>
<ellipse cx="335.1" cy="302.6" rx="3.0" ry="1.9" fill="#000"/>
<ellipse cx="381.7" cy="302.6" rx="4.6" ry="3.0" fill="#303030"/>
<ellipse cx="381.7" cy="302.6" rx="3.0" ry="1.9" fill="#000"/>
<ellipse cx="400.3" cy="302.6" rx="4.6" ry="3.0" fill="#303030"/>
<ellipse cx="400.3" cy="302.6" rx="3.0" ry="1.9" fill="#000"/>
<ellipse cx="144.0" cy="308.8" rx="8.8" ry="3.0" fill="#303030"/>
<ellipse cx="144.0" cy="308.8" rx="7.2" ry="1.9" fill="#000"/>
<ellipse cx="186.0" cy="308.8" rx="4.6" ry="3.0" fill="#303030"/>
<ellipse cx="186.0" cy="308.8" rx="3.0" ry="1.9" fill="#000"/>
<ellipse cx="269.9" cy="308.8" rx="4.6" ry="3.0" fill="#303030"/>
<ellipse cx="269.9" cy="308.8" rx="3.0" ry="1.9" fill="#000"/>
<ellipse cx="344.4" cy="308.8" rx="4.6" ry="3.0" fill="#303030"/>
<ellipse cx="344.4" cy="308.8" rx="3.0" ry="1.9" fill="#000"/>
<ellipse cx="372.4" cy="308.8" rx="4.6" ry="3.0" fill="#303030"/>
<ellipse cx="372.4" cy="308.8" rx="3.0" ry="1.9" fill="#000"/>
<ellipse cx="176.7" cy="321.1" rx="4.6" ry="3.0" fill="#303030"/>
<ellipse cx="176.7" cy="321.1" rx="3.0" ry="1.9" fill="#000"/>
<ellipse cx="232.6" cy="321.1" rx="4.6" ry="3.0" fill="#303030"/>
<ellipse cx="232.6" cy="321.1" rx="3.0" ry="1.9" fill="#000"/>
<ellipse cx="367.7" cy="321.1" rx="17.2" ry="3.0" fill="#303030"/>
<ellipse cx="367.7" cy="321.1" rx="15.6" ry="1.9" fill="#000"/>
<ellipse cx="409.7" cy="321.1" rx="4.6" ry="3.0" fill="#303030"/>
<ellipse cx="409.7" cy="321.1" rx="3.0" ry="1.9" fill="#000"/>
<ellipse cx="92.8" cy="327.3" rx="4.6" ry="3.0" fill="#303030"/>
<ellipse cx="92.8" cy="327.3" rx="3.0" ry="1.9" fill="#000"/>
<ellipse cx="148.7" cy="327.3" rx="4.6" ry="3.0" fill="#303030"/>
<ellipse cx="148.7" cy="327.3" rx="3.0" ry="1.9" fill="#000"/>
<ellipse cx="316.5" cy="333.5" rx="13.0" ry="3.0" fill="#303030"/>
<ellipse cx="316.5" cy="333.5" rx="11.4" ry="1.9" fill="#000"/>
<ellipse cx="232.6" cy="339.6" rx="8.0" ry="2.6" fill="#303030"/>
<ellipse cx="232.6" cy="339.6" rx="5.5" ry="1.5" fill="#000"/>
<ellipse cx="363.1" cy="339.6" rx="8.0" ry="2.6" fill="#303030"/>
<ellipse cx="363.1" cy="339.6" rx="5.5" ry="1.5" fill="#000"/>
<ellipse cx="437.6" cy="339.6" rx="16.4" ry="2.6" fill="#303030"/>
<ellipse cx="437.6" cy="339.6" rx="13.9" ry="1.5" fill="#000"/>
<ellipse cx="335.1" cy="345.8" rx="8.0" ry="2.6" fill="#303030"/>
<ellipse cx="335.1" cy="345.8" rx="5.5" ry="1.5" fill="#000"/>
<ellipse cx="232.6" cy="352.0" rx="8.0" ry="2.6" fill="#303030"/>
<ellipse cx="232.6" cy="352.0" rx="5.5" ry="1.5" fill="#000"/>
<ellipse cx="423.6" cy="352.0" rx="12.2" ry="2.6" fill="#303030"/>
<ellipse cx="423.6" cy="352.0" rx="9.7" ry="1.5" fill="#000"/>
<ellipse cx="92.8" cy="358.2" rx="8.0" ry="2.6" fill="#303030"/>
<ellipse cx="92.8" cy="358.2" rx="5.5" ry="1.5" fill="#000"/>
<ellipse cx="339.8" cy="358.2" rx="12.2" ry="2.6" fill="#303030"/>
<ellipse cx="339.8" cy="358.2" rx="9.7" ry="1.5" fill="#000"/>
<ellipse cx="237.2" cy="364.3" rx="12.2" ry="2.6" fill="#303030"/>
<ellipse cx="237.2" cy="364.3" rx="9.7" ry="1.5" fill="#000"/>
<ellipse cx="265.2" cy="364.3" rx="12.2" ry="2.6" fill="#303030"/>
<ellipse cx="265.2" cy="364.3" rx="9.7" ry="1.5" fill="#000"/>
<ellipse cx="148.7" cy="376.7" rx="8.0" ry="2.6" fill="#303030"/>
<ellipse cx="148.7" cy="376.7" rx="5.5" ry="1.5" fill="#000"/>
<ellipse cx="302.5" cy="376.7" rx="12.2" ry="2.6" fill="#303030"/>
<ellipse cx="302.5" cy="376.7" rx="9.7" ry="1.5" fill="#000"/>
<ellipse cx="363.1" cy="382.9" rx="16.4" ry="2.6" fill="#303030"/>
<ellipse cx="363.1" cy="382.9" rx="13.9" ry="1.5" fill="#000"/>
</g>
<path d="M116,392 C118,389 125,388.2 140,387.3 C170,385.5 200,383.5 250,383.8 C290,384.5 330,388 367.5,392 C400,393.5 440,393.5 490,393.5" fill="none" stroke="#000" stroke-width="2.9" stroke-linejoin="round" stroke-linecap="round"/>
<path d="M116,392 C117,394.5 125,395.3 140,395.8 C155,396.3 170,397 185,398 C220,400.5 250,402.7 270,405.5 C290,408.5 300,410 330,412 C360,413 380,413.5 400,415" fill="none" stroke="#000" stroke-width="2.9" stroke-linejoin="round" stroke-linecap="round"/>
<path d="M53.5,252 C57.5,256 58,268 56.8,276 C56,280 53.5,281 52.8,278 C52,270 52.3,258 53.5,252 Z" fill="#d8f020" stroke="#000" stroke-width="3.0" stroke-linejoin="round" stroke-linecap="round"/>
<ellipse cx="82.2" cy="269.4" rx="2.2" ry="3.6" transform="rotate(0 82.2 269.4)" fill="#000"/>
<ellipse cx="102.3" cy="256.5" rx="3.4" ry="7.6" transform="rotate(0 102.3 256.5)" fill="#f4f000" stroke="#000" stroke-width="3.0"/>
<path d="M188.5,249 L186.2,257.1 L183.9,261.8 L185.6,267.7 L187.4,273.6 L188,279.6 L183.9,283.1 L184.5,285.5 L192.7,286 L193.9,283.1 L192.7,277.2 L191.5,270.1 L192.7,264.2 L196.9,263.6 L200.4,260.6 L200.4,254.7 L198.6,249 L198.6,245 L188.5,245 Z" fill="#f4f000" stroke="#000" stroke-width="3.0" stroke-linejoin="round" stroke-linecap="round"/>
<path d="M190.4,248 L191,262" fill="none" stroke="#000" stroke-width="3.0" stroke-linejoin="round" stroke-linecap="round"/>
<ellipse cx="220.8" cy="257" rx="1.6" ry="3.4" transform="rotate(0 220.8 257)" fill="#000"/>
<ellipse cx="229.3" cy="262" rx="2.4" ry="9.8" transform="rotate(0 229.3 262)" fill="#f4f000" stroke="#000" stroke-width="3.0"/>
<path d="M256,248 L255.8,262 C255.8,268 256.8,271 258.2,271 C259.8,271 261,267 261.3,262 L261.6,248 Z" fill="#ffc000" stroke="#000" stroke-width="3.0" stroke-linejoin="round" stroke-linecap="round"/>
<path d="M274.7,248 L274.1,262.7 L274.7,275.5 L277.3,279.9 L282.4,279.3 L287.5,275.5 L290.6,271.6 L290.6,265.3 L287.5,260.2 L286.2,255.1 L285.5,248 Z" fill="url(#gyo)" stroke="#000" stroke-width="3.0" stroke-linejoin="round" stroke-linecap="round"/>
<ellipse cx="279.8" cy="264" rx="2.2" ry="3.8" transform="rotate(0 279.8 264)" fill="#000"/>
<ellipse cx="283.5" cy="252" rx="2.4" ry="3.5" transform="rotate(0 283.5 252)" fill="#000"/>
<path d="M256,282.3 C260,281.5 264,283 267.1,285.6 C266.5,289 265,292 260.5,294.3 C257,294.5 255.5,291.5 255.5,288 C255.3,285 255.3,283 256,282.3 Z" fill="#ff9800" stroke="#000" stroke-width="3.0" stroke-linejoin="round" stroke-linecap="round"/>
<ellipse cx="306" cy="290.4" rx="4.2" ry="3.8" transform="rotate(-20 306 290.4)" fill="#ffff70" stroke="#000" stroke-width="3.0"/>
<ellipse cx="303.4" cy="257" rx="1.9" ry="2.4" transform="rotate(0 303.4 257)" fill="#000"/>
<path d="M391,248 L391,262 C391.5,266 393,267.5 394,267 C395.5,266 396.2,262 396.2,256 L396.4,248 Z" fill="#f4f000" stroke="#000" stroke-width="3.0" stroke-linejoin="round" stroke-linecap="round"/>
<path d="M399,248 L399.5,262 C400,272 400.3,279 401,280.2 C402,280 403,274 403.8,266 C404.5,258 405,252 405.2,248 Z" fill="#f4f000" stroke="#000" stroke-width="3.0" stroke-linejoin="round" stroke-linecap="round"/>
<path d="M368,279.5 C373,281.5 378,284 381.2,287.1 C378,290 373,292.5 369.2,293.1 C367.5,290 367,284 368,279.5 Z" fill="#ff9800" stroke="#000" stroke-width="3.0" stroke-linejoin="round" stroke-linecap="round"/>
<path d="M263.2,318.5 C265,316.8 270,316.2 275.5,317.3 C280,318.2 285,320 290.2,322.2 C291,323.5 290.5,324.8 289.4,325 C286,326.5 283,327.9 277,328.3 C273,328.1 270,326.5 264,321.4 C263,320.5 262.8,319.5 263.2,318.5 Z" fill="#ff4800" stroke="#000" stroke-width="3.0" stroke-linejoin="round" stroke-linecap="round"/>
<path d="M48.5,250.8 L52.7,250.8 L52.7,251.8 L52.8,252.8 L52.9,253.8 L52.9,254.8 L53.0,255.8 L53.1,256.8 L53.1,257.8 L53.2,258.8 L53.3,259.8 L53.4,260.8 L53.5,261.8 L53.5,262.8 L53.6,263.8 L53.7,264.8 L53.8,265.8 L53.9,266.8 L54.0,267.8 L54.1,268.8 L54.2,269.8 L54.3,270.8 L54.4,271.8 L54.5,272.8 L54.6,273.8 L54.8,274.8 L54.9,275.8 L55.0,276.8 L55.1,277.8 L55.3,278.8 L55.4,279.8 L55.5,280.8 L55.7,281.8 L55.8,282.8 L56.0,283.8 L56.1,284.8 L56.3,285.8 L56.5,286.8 L56.6,287.8 L56.8,288.8 L57.0,289.8 L57.2,290.8 L57.4,291.8 L57.5,292.8 L57.7,293.8 L58.0,294.8 L58.2,295.8 L58.4,296.8 L58.6,297.8 L58.8,298.8 L59.1,299.8 L59.3,300.8 L59.6,301.8 L59.8,302.8 L60.1,303.8 L60.4,304.8 L60.7,305.8 L60.9,306.8 L61.2,307.8 L61.5,308.8 L61.9,309.8 L62.2,310.8 L62.5,311.8 L62.9,312.8 L63.2,313.8 L63.6,314.8 L63.9,315.8 L64.3,316.8 L64.7,317.8 L65.1,318.8 L65.5,319.8 L66.0,320.8 L66.4,321.8 L66.9,322.8 L67.3,323.8 L67.8,324.8 L68.3,325.8 L68.8,326.8 L69.3,327.8 L69.9,328.8 L70.4,329.8 L71.0,330.8 L71.6,331.8 L72.2,332.8 L72.8,333.8 L73.4,334.8 L74.1,335.8 L74.7,336.8 L75.4,337.8 L76.1,338.8 L76.9,339.8 L77.6,340.8 L78.4,341.8 L79.2,342.8 L80.0,343.8 L80.8,344.8 L81.7,345.8 L82.6,346.8 L83.5,347.8 L84.4,348.8 L85.4,349.8 L86.4,350.8 L87.4,351.8 L88.5,352.8 L89.5,353.8 L90.6,354.8 L91.8,355.8 L93.0,356.8 L94.2,357.8 L95.4,358.8 L96.7,359.8 L98.0,360.8 L99.4,361.8 L100.8,362.8 L102.2,363.8 L103.7,364.8 L105.2,365.8 L106.7,366.8 L108.3,367.8 L110.0,368.8 L111.7,369.8 L113.4,370.8 L115.2,371.8 L117.0,372.8 L118.9,373.8 L120.9,374.8 L122.9,375.8 L124.9,376.8 L127.1,377.8 L129.2,378.8 L131.5,379.8 L133.8,380.8 L136.2,381.8 L138.6,382.8 L141.1,383.8 L143.7,384.8 L146.3,385.8 L149.1,386.8 L151.9,387.8 L154.7,388.8 L157.7,389.8 L160.8,390.8 L163.9,391.8 L167.1,392.8 L170.4,393.8 L173.9,394.8 L177.4,395.8 L181.0,396.8 L184.7,397.8 L188.5,398.8 L192.4,399.8 L196.5,400.8 L200.6,401.8 L204.9,402.8 L209.3,403.8 L213.8,404.8 L218.5,405.8 L223.3,406.8 L228.2,407.8 L233.2,408.8 L238.4,409.8 L243.8,410.8 L249.3,411.8 L254.9,412.8 L260.7,413.8 L48.5,413.8 Z" fill="#fff" fill-opacity="0.5"/>
<path d="M480.5,250.8 L476.3,250.8 L476.3,251.8 L476.2,252.8 L476.1,253.8 L476.1,254.8 L476.0,255.8 L475.9,256.8 L475.9,257.8 L475.8,258.8 L475.7,259.8 L475.6,260.8 L475.5,261.8 L475.5,262.8 L475.4,263.8 L475.3,264.8 L475.2,265.8 L475.1,266.8 L475.0,267.8 L474.9,268.8 L474.8,269.8 L474.7,270.8 L474.6,271.8 L474.5,272.8 L474.4,273.8 L474.2,274.8 L474.1,275.8 L474.0,276.8 L473.9,277.8 L473.7,278.8 L473.6,279.8 L473.5,280.8 L473.3,281.8 L473.2,282.8 L473.0,283.8 L472.9,284.8 L472.7,285.8 L472.5,286.8 L472.4,287.8 L472.2,288.8 L472.0,289.8 L471.8,290.8 L471.6,291.8 L471.5,292.8 L471.3,293.8 L471.0,294.8 L470.8,295.8 L470.6,296.8 L470.4,297.8 L470.2,298.8 L469.9,299.8 L469.7,300.8 L469.4,301.8 L469.2,302.8 L468.9,303.8 L468.6,304.8 L468.3,305.8 L468.1,306.8 L467.8,307.8 L467.5,308.8 L467.1,309.8 L466.8,310.8 L466.5,311.8 L466.1,312.8 L465.8,313.8 L465.4,314.8 L465.1,315.8 L464.7,316.8 L464.3,317.8 L463.9,318.8 L463.5,319.8 L463.0,320.8 L462.6,321.8 L462.1,322.8 L461.7,323.8 L461.2,324.8 L460.7,325.8 L460.2,326.8 L459.7,327.8 L459.1,328.8 L458.6,329.8 L458.0,330.8 L457.4,331.8 L456.8,332.8 L456.2,333.8 L455.6,334.8 L454.9,335.8 L454.3,336.8 L453.6,337.8 L452.9,338.8 L452.1,339.8 L451.4,340.8 L450.6,341.8 L449.8,342.8 L449.0,343.8 L448.2,344.8 L447.3,345.8 L446.4,346.8 L445.5,347.8 L444.6,348.8 L443.6,349.8 L442.6,350.8 L441.6,351.8 L440.5,352.8 L439.5,353.8 L438.4,354.8 L437.2,355.8 L436.0,356.8 L434.8,357.8 L433.6,358.8 L432.3,359.8 L431.0,360.8 L429.6,361.8 L428.2,362.8 L426.8,363.8 L425.3,364.8 L423.8,365.8 L422.3,366.8 L420.7,367.8 L419.0,368.8 L417.3,369.8 L415.6,370.8 L413.8,371.8 L412.0,372.8 L410.1,373.8 L408.1,374.8 L406.1,375.8 L404.1,376.8 L401.9,377.8 L399.8,378.8 L397.5,379.8 L395.2,380.8 L392.8,381.8 L390.4,382.8 L387.9,383.8 L385.3,384.8 L382.7,385.8 L379.9,386.8 L377.1,387.8 L374.3,388.8 L371.3,389.8 L368.2,390.8 L365.1,391.8 L361.9,392.8 L358.6,393.8 L355.1,394.8 L351.6,395.8 L348.0,396.8 L344.3,397.8 L340.5,398.8 L336.6,399.8 L332.5,400.8 L328.4,401.8 L324.1,402.8 L319.7,403.8 L315.2,404.8 L310.5,405.8 L305.7,406.8 L300.8,407.8 L295.8,408.8 L290.6,409.8 L285.2,410.8 L279.7,411.8 L274.1,412.8 L268.3,413.8 L480.5,413.8 Z" fill="#fff" fill-opacity="0.5"/>
<path d="M52.7,250.8 L52.7,251.8 L52.8,252.8 L52.9,253.8 L52.9,254.8 L53.0,255.8 L53.1,256.8 L53.1,257.8 L53.2,258.8 L53.3,259.8 L53.4,260.8 L53.5,261.8 L53.5,262.8 L53.6,263.8 L53.7,264.8 L53.8,265.8 L53.9,266.8 L54.0,267.8 L54.1,268.8 L54.2,269.8 L54.3,270.8 L54.4,271.8 L54.5,272.8 L54.6,273.8 L54.8,274.8 L54.9,275.8 L55.0,276.8 L55.1,277.8 L55.3,278.8 L55.4,279.8 L55.5,280.8 L55.7,281.8 L55.8,282.8 L56.0,283.8 L56.1,284.8 L56.3,285.8 L56.5,286.8 L56.6,287.8 L56.8,288.8 L57.0,289.8 L57.2,290.8 L57.4,291.8 L57.5,292.8 L57.7,293.8 L58.0,294.8 L58.2,295.8 L58.4,296.8 L58.6,297.8 L58.8,298.8 L59.1,299.8 L59.3,300.8 L59.6,301.8 L59.8,302.8 L60.1,303.8 L60.4,304.8 L60.7,305.8 L60.9,306.8 L61.2,307.8 L61.5,308.8 L61.9,309.8 L62.2,310.8 L62.5,311.8 L62.9,312.8 L63.2,313.8 L63.6,314.8 L63.9,315.8 L64.3,316.8 L64.7,317.8 L65.1,318.8 L65.5,319.8 L66.0,320.8 L66.4,321.8 L66.9,322.8 L67.3,323.8 L67.8,324.8 L68.3,325.8 L68.8,326.8 L69.3,327.8 L69.9,328.8 L70.4,329.8 L71.0,330.8 L71.6,331.8 L72.2,332.8 L72.8,333.8 L73.4,334.8 L74.1,335.8 L74.7,336.8 L75.4,337.8 L76.1,338.8 L76.9,339.8 L77.6,340.8 L78.4,341.8 L79.2,342.8 L80.0,343.8 L80.8,344.8 L81.7,345.8 L82.6,346.8 L83.5,347.8 L84.4,348.8 L85.4,349.8 L86.4,350.8 L87.4,351.8 L88.5,352.8 L89.5,353.8 L90.6,354.8 L91.8,355.8 L93.0,356.8 L94.2,357.8 L95.4,358.8 L96.7,359.8 L98.0,360.8 L99.4,361.8 L100.8,362.8 L102.2,363.8 L103.7,364.8 L105.2,365.8 L106.7,366.8 L108.3,367.8 L110.0,368.8 L111.7,369.8 L113.4,370.8 L115.2,371.8 L117.0,372.8 L118.9,373.8 L120.9,374.8 L122.9,375.8 L124.9,376.8 L127.1,377.8 L129.2,378.8 L131.5,379.8 L133.8,380.8 L136.2,381.8 L138.6,382.8 L141.1,383.8 L143.7,384.8 L146.3,385.8 L149.1,386.8 L151.9,387.8 L154.7,388.8 L157.7,389.8 L160.8,390.8 L163.9,391.8 L167.1,392.8 L170.4,393.8 L173.9,394.8 L177.4,395.8 L181.0,396.8 L184.7,397.8 L188.5,398.8 L192.4,399.8 L196.5,400.8 L200.6,401.8 L204.9,402.8 L209.3,403.8 L213.8,404.8 L218.5,405.8 L223.3,406.8 L228.2,407.8 L233.2,408.8 L238.4,409.8 L243.8,410.8 L249.3,411.8 L254.9,412.8 L260.7,413.8" fill="none" stroke="#000" stroke-width="0.9"/>
<path d="M476.3,250.8 L476.3,251.8 L476.2,252.8 L476.1,253.8 L476.1,254.8 L476.0,255.8 L475.9,256.8 L475.9,257.8 L475.8,258.8 L475.7,259.8 L475.6,260.8 L475.5,261.8 L475.5,262.8 L475.4,263.8 L475.3,264.8 L475.2,265.8 L475.1,266.8 L475.0,267.8 L474.9,268.8 L474.8,269.8 L474.7,270.8 L474.6,271.8 L474.5,272.8 L474.4,273.8 L474.2,274.8 L474.1,275.8 L474.0,276.8 L473.9,277.8 L473.7,278.8 L473.6,279.8 L473.5,280.8 L473.3,281.8 L473.2,282.8 L473.0,283.8 L472.9,284.8 L472.7,285.8 L472.5,286.8 L472.4,287.8 L472.2,288.8 L472.0,289.8 L471.8,290.8 L471.6,291.8 L471.5,292.8 L471.3,293.8 L471.0,294.8 L470.8,295.8 L470.6,296.8 L470.4,297.8 L470.2,298.8 L469.9,299.8 L469.7,300.8 L469.4,301.8 L469.2,302.8 L468.9,303.8 L468.6,304.8 L468.3,305.8 L468.1,306.8 L467.8,307.8 L467.5,308.8 L467.1,309.8 L466.8,310.8 L466.5,311.8 L466.1,312.8 L465.8,313.8 L465.4,314.8 L465.1,315.8 L464.7,316.8 L464.3,317.8 L463.9,318.8 L463.5,319.8 L463.0,320.8 L462.6,321.8 L462.1,322.8 L461.7,323.8 L461.2,324.8 L460.7,325.8 L460.2,326.8 L459.7,327.8 L459.1,328.8 L458.6,329.8 L458.0,330.8 L457.4,331.8 L456.8,332.8 L456.2,333.8 L455.6,334.8 L454.9,335.8 L454.3,336.8 L453.6,337.8 L452.9,338.8 L452.1,339.8 L451.4,340.8 L450.6,341.8 L449.8,342.8 L449.0,343.8 L448.2,344.8 L447.3,345.8 L446.4,346.8 L445.5,347.8 L444.6,348.8 L443.6,349.8 L442.6,350.8 L441.6,351.8 L440.5,352.8 L439.5,353.8 L438.4,354.8 L437.2,355.8 L436.0,356.8 L434.8,357.8 L433.6,358.8 L432.3,359.8 L431.0,360.8 L429.6,361.8 L428.2,362.8 L426.8,363.8 L425.3,364.8 L423.8,365.8 L422.3,366.8 L420.7,367.8 L419.0,368.8 L417.3,369.8 L415.6,370.8 L413.8,371.8 L412.0,372.8 L410.1,373.8 L408.1,374.8 L406.1,375.8 L404.1,376.8 L401.9,377.8 L399.8,378.8 L397.5,379.8 L395.2,380.8 L392.8,381.8 L390.4,382.8 L387.9,383.8 L385.3,384.8 L382.7,385.8 L379.9,386.8 L377.1,387.8 L374.3,388.8 L371.3,389.8 L368.2,390.8 L365.1,391.8 L361.9,392.8 L358.6,393.8 L355.1,394.8 L351.6,395.8 L348.0,396.8 L344.3,397.8 L340.5,398.8 L336.6,399.8 L332.5,400.8 L328.4,401.8 L324.1,402.8 L319.7,403.8 L315.2,404.8 L310.5,405.8 L305.7,406.8 L300.8,407.8 L295.8,408.8 L290.6,409.8 L285.2,410.8 L279.7,411.8 L274.1,412.8 L268.3,413.8" fill="none" stroke="#000" stroke-width="0.9"/>
</g>
<path d="M78.8,413.8 v-4.3 M78.8,250.8 v4.3 M172.0,413.8 v-4.3 M172.0,250.8 v4.3 M265.2,413.8 v-4.3 M265.2,250.8 v4.3 M358.4,413.8 v-4.3 M358.4,250.8 v4.3 M451.6,413.8 v-4.3 M451.6,250.8 v4.3 M50.5,274.8 h4.3 M478.5,274.8 h-4.3 M50.5,299.5 h4.3 M478.5,299.5 h-4.3 M50.5,324.2 h4.3 M478.5,324.2 h-4.3 M50.5,348.9 h4.3 M478.5,348.9 h-4.3 M50.5,373.6 h4.3 M478.5,373.6 h-4.3 M50.5,398.3 h4.3 M478.5,398.3 h-4.3" stroke="#262626" stroke-width="1" fill="none"/>
<rect x="50.5" y="250.8" width="428.0" height="163.0" fill="none" stroke="#262626" stroke-width="1"/>
<text transform="translate(79.2,432.3) scale(1,1.05)" text-anchor="middle" class="tl">1970</text>
<text transform="translate(172.4,432.3) scale(1,1.05)" text-anchor="middle" class="tl">1980</text>
<text transform="translate(265.6,432.3) scale(1,1.05)" text-anchor="middle" class="tl">1990</text>
<text transform="translate(358.8,432.3) scale(1,1.05)" text-anchor="middle" class="tl">2000</text>
<text transform="translate(452.0,432.3) scale(1,1.05)" text-anchor="middle" class="tl">2010</text>
<text transform="translate(46.0,280.5) scale(1,1.05)" text-anchor="end" class="tl">4</text>
<text transform="translate(46.0,305.2) scale(1,1.05)" text-anchor="end" class="tl">8</text>
<text transform="translate(46.0,329.9) scale(1,1.05)" text-anchor="end" class="tl">16</text>
<text transform="translate(46.0,354.6) scale(1,1.05)" text-anchor="end" class="tl">32</text>
<text transform="translate(46.0,379.3) scale(1,1.05)" text-anchor="end" class="tl">64</text>
<text transform="translate(46.0,404.0) scale(1,1.05)" text-anchor="end" class="tl">128</text>
<text x="264.5" y="451.8" text-anchor="middle" class="lb">Year</text>
<text transform="translate(18.3,332.3) rotate(-90)" text-anchor="middle" class="lb">Period(Month)</text>
<rect x="491" y="23" width="24" height="163" fill="url(#jetg)" stroke="#262626" stroke-width="1"/>
<path d="M515,40.2 h-2.4 M515,51.0 h-2.4 M515,61.8 h-2.4 M515,72.7 h-2.4 M515,83.5 h-2.4 M515,94.3 h-2.4 M515,105.1 h-2.4 M515,115.9 h-2.4 M515,126.8 h-2.4 M515,137.6 h-2.4 M515,148.4 h-2.4 M515,159.2 h-2.4 M515,170.0 h-2.4" stroke="#262626" stroke-width="0.8" fill="none"/>
<text transform="translate(520.6,44.6) scale(1,1.05)" class="cb" xml:space="preserve">64</text>
<text transform="translate(520.6,55.4) scale(1,1.05)" class="cb" xml:space="preserve">32</text>
<text transform="translate(520.6,66.2) scale(1,1.05)" class="cb" xml:space="preserve">16</text>
<text transform="translate(520.6,77.1) scale(1,1.05)" class="cb" xml:space="preserve"> 8</text>
<text transform="translate(520.6,87.9) scale(1,1.05)" class="cb" xml:space="preserve"> 4</text>
<text transform="translate(520.6,98.7) scale(1,1.05)" class="cb" xml:space="preserve"> 2</text>
<text transform="translate(520.6,109.5) scale(1,1.05)" class="cb" xml:space="preserve"> 1</text>
<text transform="translate(520.6,120.3) scale(1,1.05)" class="cb" xml:space="preserve">1/2</text>
<text transform="translate(520.6,131.2) scale(1,1.05)" class="cb" xml:space="preserve">1/4</text>
<text transform="translate(520.6,142.0) scale(1,1.05)" class="cb" xml:space="preserve">1/8</text>
<text transform="translate(520.6,152.8) scale(1,1.05)" class="cb" xml:space="preserve">1/16</text>
<text transform="translate(520.6,163.6) scale(1,1.05)" class="cb" xml:space="preserve">1/32</text>
<text transform="translate(520.6,174.4) scale(1,1.05)" class="cb" xml:space="preserve">1/64</text>
<rect x="491" y="250.8" width="24" height="163.0" fill="url(#jetg)" stroke="#262626" stroke-width="1"/>
<path d="M515,257.9 h-2.4 M515,272.9 h-2.4 M515,287.9 h-2.4 M515,303.0 h-2.4 M515,318.0 h-2.4 M515,333.0 h-2.4 M515,348.0 h-2.4 M515,363.0 h-2.4 M515,378.1 h-2.4 M515,393.1 h-2.4 M515,408.1 h-2.4" stroke="#262626" stroke-width="0.8" fill="none"/>
<text transform="translate(520.6,262.3) scale(1,1.05)" class="cb" xml:space="preserve">32</text>
<text transform="translate(520.6,277.3) scale(1,1.05)" class="cb" xml:space="preserve">16</text>
<text transform="translate(520.6,292.3) scale(1,1.05)" class="cb" xml:space="preserve"> 8</text>
<text transform="translate(520.6,307.4) scale(1,1.05)" class="cb" xml:space="preserve"> 4</text>
<text transform="translate(520.6,322.4) scale(1,1.05)" class="cb" xml:space="preserve"> 2</text>
<text transform="translate(520.6,337.4) scale(1,1.05)" class="cb" xml:space="preserve"> 1</text>
<text transform="translate(520.6,352.4) scale(1,1.05)" class="cb" xml:space="preserve">1/2</text>
<text transform="translate(520.6,367.4) scale(1,1.05)" class="cb" xml:space="preserve">1/4</text>
<text transform="translate(520.6,382.5) scale(1,1.05)" class="cb" xml:space="preserve">1/8</text>
<text transform="translate(520.6,397.5) scale(1,1.05)" class="cb" xml:space="preserve">1/16</text>
<text transform="translate(520.6,412.5) scale(1,1.05)" class="cb" xml:space="preserve">1/32</text>
</svg>
</body></html>
